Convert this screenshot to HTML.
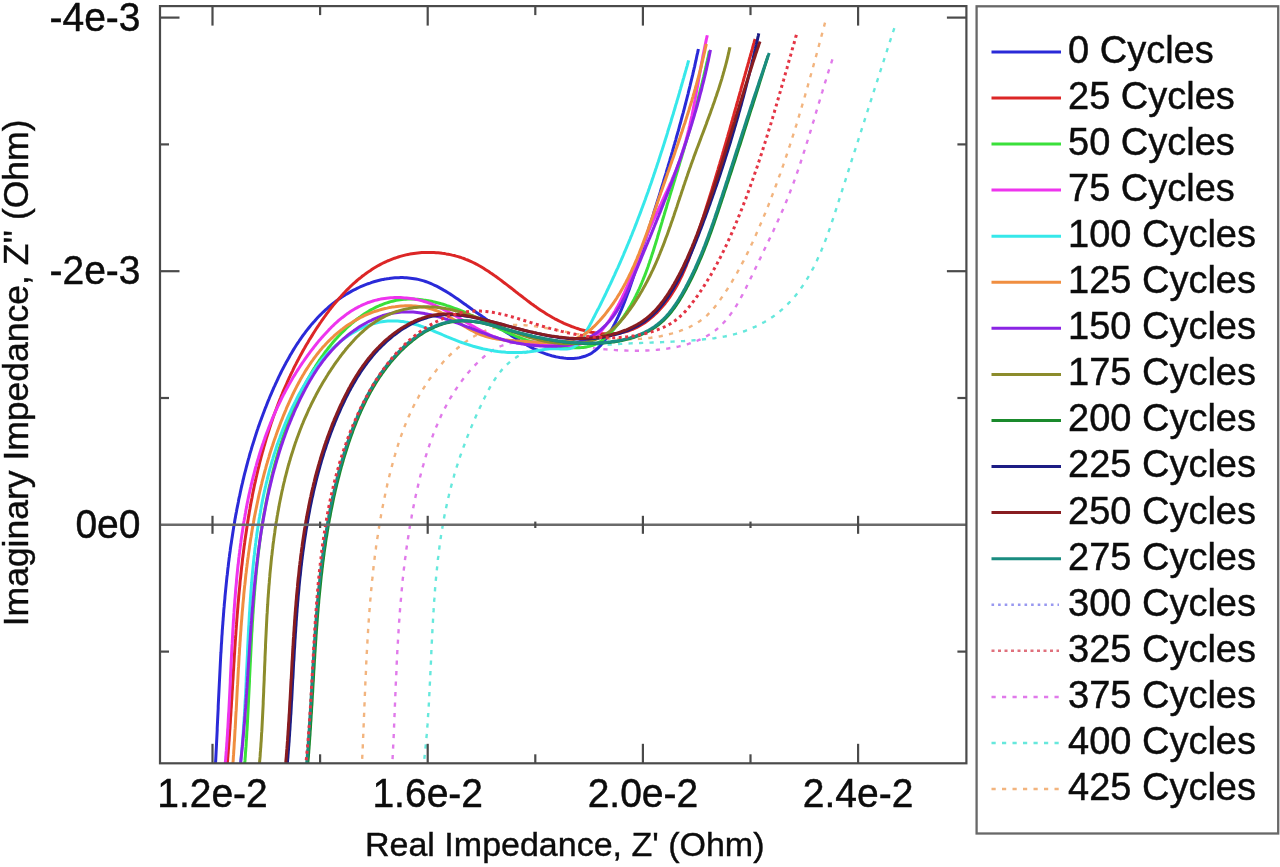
<!DOCTYPE html><html><head><meta charset="utf-8"><title>Nyquist plot</title><style>html,body{margin:0;padding:0;background:#fff;}svg{display:block;filter:blur(0.4px);}</style>
</head><body>
<svg width="1280" height="867" viewBox="0 0 1280 867">
<rect width="1280" height="867" fill="#fff"/>
<defs><clipPath id="pc"><rect x="160.0" y="6.1" width="806.4" height="757.2"/></clipPath></defs>
<g clip-path="url(#pc)" fill="none" stroke-linejoin="round" stroke-linecap="butt">
<path d="M361.0,779.9 L361.2,778.0 L361.3,776.0 L361.4,774.0 L361.5,772.0 L361.6,770.0 L361.7,768.1 L361.8,766.1 L361.9,764.1 L362.0,762.1 L362.1,760.1 L362.2,758.2 L362.3,756.2 L362.4,754.2 L362.5,752.2 L362.6,750.2 L362.7,748.2 L362.8,746.2 L362.8,744.2 L362.9,742.3 L363.0,740.3 L363.1,738.3 L363.2,736.3 L363.3,734.3 L363.4,732.3 L363.4,730.3 L363.5,728.3 L363.6,726.3 L363.7,724.3 L363.8,722.3 L363.9,720.3 L363.9,718.3 L364.0,716.3 L364.1,714.3 L364.2,712.3 L364.3,710.3 L364.3,708.3 L364.4,706.3 L364.5,704.3 L364.6,702.3 L364.7,700.3 L364.8,698.3 L364.8,696.3 L364.9,694.3 L365.0,692.3 L365.1,690.3 L365.2,688.3 L365.3,686.3 L365.3,684.3 L365.4,682.3 L365.5,680.3 L365.6,678.3 L365.7,676.3 L365.8,674.3 L365.9,672.3 L366.0,670.3 L366.1,668.3 L366.1,666.3 L366.2,664.3 L366.3,662.3 L366.4,660.3 L366.5,658.3 L366.6,656.3 L366.7,654.3 L366.8,652.3 L367.0,650.2 L367.1,648.2 L367.2,646.2 L367.3,644.2 L367.4,642.2 L367.5,640.2 L367.6,638.2 L367.7,636.2 L367.9,634.2 L368.0,632.2 L368.1,630.2 L368.2,628.2 L368.4,626.2 L368.5,624.2 L368.6,622.2 L368.8,620.2 L368.9,618.2 L369.1,616.2 L369.2,614.2 L369.4,612.2 L369.5,610.2 L369.7,608.2 L369.8,606.2 L370.0,604.2 L370.1,602.2 L370.3,600.2 L370.5,598.2 L370.6,596.2 L370.8,594.2 L371.0,592.2 L371.2,590.2 L371.4,588.2 L371.6,586.2 L371.8,584.2 L371.9,582.2 L372.1,580.2 L372.4,578.2 L372.6,576.2 L372.8,574.3 L373.0,572.3 L373.2,570.3 L373.4,568.3 L373.7,566.3 L373.9,564.3 L374.1,562.3 L374.4,560.3 L374.6,558.3 L374.8,556.4 L375.1,554.4 L375.4,552.4 L375.6,550.4 L375.9,548.4 L376.1,546.4 L376.4,544.5 L376.7,542.5 L377.0,540.5 L377.3,538.5 L377.6,536.6 L377.9,534.6 L378.2,532.6 L378.5,530.6 L378.8,528.7 L379.1,526.7 L379.4,524.7 L379.8,522.7 L380.1,520.8 L380.4,518.8 L380.8,516.8 L381.1,514.9 L381.5,512.9 L381.9,510.9 L382.2,509.0 L382.6,507.0 L383.0,505.1 L383.4,503.1 L383.8,501.1 L384.2,499.2 L384.6,497.2 L385.0,495.3 L385.4,493.3 L385.8,491.4 L386.2,489.4 L386.7,487.5 L387.1,485.5 L387.5,483.6 L388.0,481.6 L388.5,479.7 L388.9,477.8 L389.4,475.8 L389.9,473.9 L390.4,471.9 L390.9,470.0 L391.4,468.1 L391.9,466.1 L392.4,464.2 L392.9,462.3 L393.4,460.4 L394.0,458.4 L394.5,456.5 L395.1,454.6 L395.6,452.7 L396.2,450.8 L396.8,448.9 L397.4,447.0 L398.0,445.1 L398.6,443.2 L399.3,441.3 L399.9,439.4 L400.5,437.5 L401.2,435.6 L401.9,433.7 L402.6,431.9 L403.3,430.0 L404.0,428.1 L404.7,426.3 L405.4,424.4 L406.2,422.6 L406.9,420.8 L407.7,418.9 L408.5,417.1 L409.3,415.3 L410.1,413.5 L411.0,411.7 L411.8,409.9 L412.7,408.1 L413.5,406.3 L414.4,404.5 L415.3,402.7 L416.3,401.0 L417.2,399.2 L418.2,397.5 L419.1,395.7 L420.1,394.0 L421.2,392.3 L422.2,390.5 L423.2,388.8 L424.3,387.1 L425.4,385.4 L426.5,383.8 L427.6,382.1 L428.7,380.4 L429.9,378.8 L431.1,377.1 L432.3,375.5 L433.5,373.9 L434.7,372.3 L436.0,370.7 L437.2,369.1 L438.5,367.5 L439.9,365.9 L441.2,364.4 L442.6,362.8 L443.9,361.3 L445.3,359.8 L446.7,358.3 L448.2,356.9 L449.6,355.4 L451.1,354.0 L452.6,352.6 L454.1,351.2 L455.6,349.8 L457.1,348.5 L458.7,347.2 L460.3,345.9 L461.8,344.7 L463.5,343.5 L465.1,342.3 L466.7,341.1 L468.4,340.0 L470.0,338.9 L471.7,337.8 L473.4,336.8 L475.1,335.8 L476.8,334.9 L478.5,333.9 L480.3,333.1 L482.1,332.2 L483.8,331.4 L485.6,330.7 L487.4,330.0 L489.2,329.3 L491.0,328.7 L492.9,328.1 L494.7,327.6 L496.6,327.1 L498.5,326.7 L500.3,326.3 L502.2,326.0 L504.1,325.7 L506.0,325.4 L507.9,325.2 L509.9,325.1 L511.8,325.0 L513.7,324.9 L515.7,324.9 L517.7,324.9 L519.6,325.0 L521.6,325.0 L523.6,325.1 L525.6,325.3 L527.5,325.4 L529.5,325.6 L531.5,325.9 L533.5,326.1 L535.6,326.4 L537.6,326.7 L539.6,327.0 L541.6,327.3 L543.6,327.6 L545.6,328.0 L547.7,328.4 L549.7,328.7 L551.7,329.1 L553.7,329.5 L555.8,329.9 L557.8,330.3 L559.8,330.7 L561.8,331.1 L563.9,331.5 L565.9,331.9 L567.9,332.3 L569.9,332.7 L571.9,333.1 L574.0,333.5 L576.0,333.9 L578.0,334.2 L580.0,334.6 L582.0,334.9 L584.0,335.3 L586.0,335.6 L588.0,335.9 L589.9,336.2 L591.9,336.5 L593.9,336.8 L595.9,337.0 L597.9,337.3 L599.9,337.5 L601.9,337.8 L603.8,338.0 L605.8,338.2 L607.8,338.3 L609.7,338.5 L611.7,338.7 L613.7,338.8 L615.7,338.9 L617.6,339.0 L619.6,339.1 L621.5,339.2 L623.5,339.2 L625.5,339.2 L627.4,339.2 L629.4,339.2 L631.3,339.2 L633.3,339.2 L635.3,339.1 L637.2,339.0 L639.2,338.9 L641.1,338.8 L643.1,338.6 L645.0,338.4 L647.0,338.2 L648.9,338.0 L650.9,337.8 L652.8,337.5 L654.8,337.2 L656.7,336.9 L658.7,336.5 L660.6,336.2 L662.6,335.8 L664.5,335.4 L666.5,334.9 L668.5,334.4 L670.4,333.9 L672.3,333.4 L674.3,332.8 L676.2,332.2 L678.1,331.6 L680.1,330.9 L681.9,330.2 L683.8,329.5 L685.7,328.8 L687.5,328.0 L689.4,327.1 L691.1,326.2 L692.9,325.3 L694.7,324.4 L696.4,323.4 L698.0,322.3 L699.7,321.2 L701.3,320.1 L702.9,318.9 L704.4,317.7 L705.9,316.4 L707.3,315.1 L708.7,313.7 L710.1,312.3 L711.4,310.9 L712.7,309.4 L714.0,307.9 L715.2,306.4 L716.5,304.9 L717.7,303.3 L718.8,301.7 L720.0,300.1 L721.1,298.4 L722.3,296.8 L723.4,295.1 L724.5,293.5 L725.6,291.8 L726.7,290.1 L727.8,288.5 L728.8,286.8 L729.9,285.1 L730.9,283.4 L732.0,281.7 L733.0,279.9 L734.0,278.2 L735.0,276.5 L736.0,274.7 L737.0,273.0 L738.0,271.2 L738.9,269.5 L739.9,267.7 L740.9,265.9 L741.8,264.1 L742.7,262.4 L743.7,260.6 L744.6,258.8 L745.5,257.0 L746.4,255.2 L747.3,253.4 L748.2,251.6 L749.0,249.8 L749.9,247.9 L750.8,246.1 L751.6,244.3 L752.5,242.5 L753.3,240.6 L754.2,238.8 L755.0,237.0 L755.8,235.1 L756.6,233.3 L757.4,231.4 L758.2,229.6 L759.0,227.8 L759.8,225.9 L760.6,224.1 L761.4,222.2 L762.2,220.4 L763.0,218.5 L763.7,216.7 L764.5,214.8 L765.3,213.0 L766.0,211.1 L766.8,209.2 L767.5,207.4 L768.3,205.5 L769.0,203.7 L769.7,201.8 L770.4,200.0 L771.2,198.1 L771.9,196.2 L772.6,194.4 L773.3,192.5 L774.0,190.6 L774.7,188.8 L775.4,186.9 L776.1,185.0 L776.8,183.2 L777.5,181.3 L778.2,179.4 L778.8,177.6 L779.5,175.7 L780.2,173.8 L780.8,171.9 L781.5,170.1 L782.2,168.2 L782.8,166.3 L783.5,164.4 L784.1,162.6 L784.7,160.7 L785.4,158.8 L786.0,156.9 L786.7,155.0 L787.3,153.1 L787.9,151.3 L788.5,149.4 L789.1,147.5 L789.8,145.6 L790.4,143.7 L791.0,141.8 L791.6,139.9 L792.2,138.0 L792.8,136.1 L793.4,134.3 L794.0,132.4 L794.6,130.5 L795.2,128.6 L795.8,126.7 L796.4,124.8 L796.9,122.9 L797.5,121.0 L798.1,119.1 L798.7,117.2 L799.2,115.3 L799.8,113.4 L800.4,111.4 L800.9,109.5 L801.5,107.6 L802.1,105.7 L802.6,103.8 L803.2,101.9 L803.8,100.0 L804.3,98.1 L804.9,96.2 L805.4,94.2 L806.0,92.3 L806.5,90.4 L807.1,88.5 L807.6,86.6 L808.1,84.7 L808.7,82.7 L809.2,80.8 L809.8,78.9 L810.3,77.0 L810.8,75.0 L811.4,73.1 L811.9,71.2 L812.4,69.3 L813.0,67.3 L813.5,65.4 L814.0,63.5 L814.6,61.5 L815.1,59.6 L815.6,57.7 L816.2,55.7 L816.7,53.8 L817.2,51.9 L817.7,49.9 L818.3,48.0 L818.8,46.0 L819.3,44.1 L819.8,42.2 L820.3,40.2 L820.9,38.3 L821.4,36.3 L821.9,34.4 L822.4,32.4 L823.0,30.5 L823.5,28.5 L824.0,26.6 L824.5,24.6 L825.0,22.7 L825.6,20.7" stroke="#f2b47e" stroke-width="2.4" stroke-dasharray="4.2 6.3"/>
<path d="M421.7,779.8 L422.0,777.9 L422.2,775.9 L422.5,774.0 L422.8,772.1 L423.0,770.1 L423.3,768.2 L423.5,766.2 L423.7,764.3 L424.0,762.3 L424.2,760.4 L424.4,758.4 L424.6,756.5 L424.8,754.5 L425.0,752.6 L425.2,750.6 L425.4,748.6 L425.6,746.7 L425.8,744.7 L426.0,742.7 L426.2,740.8 L426.4,738.8 L426.5,736.8 L426.7,734.9 L426.8,732.9 L427.0,730.9 L427.2,728.9 L427.3,726.9 L427.5,724.9 L427.6,723.0 L427.7,721.0 L427.9,719.0 L428.0,717.0 L428.1,715.0 L428.3,713.0 L428.4,711.0 L428.5,709.0 L428.6,707.0 L428.8,705.0 L428.9,703.0 L429.0,701.0 L429.1,699.0 L429.2,697.0 L429.3,695.0 L429.4,693.0 L429.5,691.0 L429.6,689.0 L429.7,687.0 L429.8,685.0 L429.9,683.0 L430.0,681.0 L430.1,679.0 L430.2,677.0 L430.3,674.9 L430.4,672.9 L430.5,670.9 L430.6,668.9 L430.7,666.9 L430.8,664.9 L430.9,662.9 L431.0,660.9 L431.1,658.8 L431.2,656.8 L431.3,654.8 L431.3,652.8 L431.4,650.8 L431.5,648.8 L431.6,646.7 L431.7,644.7 L431.8,642.7 L431.9,640.7 L432.0,638.7 L432.1,636.7 L432.2,634.6 L432.3,632.6 L432.4,630.6 L432.5,628.6 L432.6,626.6 L432.7,624.6 L432.9,622.5 L433.0,620.5 L433.1,618.5 L433.2,616.5 L433.3,614.5 L433.4,612.5 L433.6,610.4 L433.7,608.4 L433.8,606.4 L434.0,604.4 L434.1,602.4 L434.2,600.4 L434.4,598.4 L434.5,596.4 L434.7,594.4 L434.8,592.4 L435.0,590.3 L435.1,588.3 L435.3,586.3 L435.5,584.3 L435.6,582.3 L435.8,580.3 L436.0,578.3 L436.2,576.3 L436.4,574.3 L436.6,572.3 L436.8,570.3 L437.0,568.3 L437.2,566.3 L437.4,564.4 L437.6,562.4 L437.8,560.4 L438.0,558.4 L438.3,556.4 L438.5,554.4 L438.8,552.4 L439.0,550.4 L439.3,548.5 L439.5,546.5 L439.8,544.5 L440.1,542.5 L440.3,540.6 L440.6,538.6 L440.9,536.6 L441.2,534.6 L441.5,532.7 L441.8,530.7 L442.2,528.8 L442.5,526.8 L442.8,524.8 L443.2,522.9 L443.5,520.9 L443.9,519.0 L444.2,517.0 L444.6,515.1 L445.0,513.1 L445.4,511.2 L445.8,509.2 L446.2,507.3 L446.6,505.4 L447.0,503.4 L447.4,501.5 L447.9,499.6 L448.3,497.6 L448.8,495.7 L449.2,493.8 L449.7,491.9 L450.2,490.0 L450.7,488.1 L451.2,486.1 L451.7,484.2 L452.2,482.3 L452.7,480.4 L453.2,478.5 L453.8,476.6 L454.3,474.7 L454.9,472.8 L455.5,470.9 L456.0,469.1 L456.6,467.2 L457.2,465.3 L457.8,463.4 L458.4,461.5 L459.1,459.6 L459.7,457.8 L460.3,455.9 L461.0,454.0 L461.6,452.2 L462.3,450.3 L463.0,448.4 L463.7,446.5 L464.4,444.7 L465.1,442.8 L465.8,441.0 L466.5,439.1 L467.2,437.2 L467.9,435.4 L468.7,433.5 L469.4,431.7 L470.2,429.8 L471.0,427.9 L471.7,426.1 L472.5,424.2 L473.3,422.4 L474.1,420.5 L474.9,418.7 L475.7,416.8 L476.5,415.0 L477.4,413.1 L478.2,411.3 L479.1,409.4 L479.9,407.6 L480.8,405.7 L481.6,403.9 L482.5,402.0 L483.4,400.1 L484.3,398.3 L485.2,396.5 L486.1,394.6 L487.0,392.8 L488.0,391.0 L489.0,389.2 L489.9,387.4 L490.9,385.7 L492.0,383.9 L493.0,382.2 L494.1,380.5 L495.2,378.8 L496.3,377.2 L497.4,375.5 L498.6,373.9 L499.8,372.4 L501.0,370.9 L502.3,369.4 L503.6,367.9 L504.9,366.5 L506.3,365.2 L507.7,363.8 L509.1,362.6 L510.6,361.3 L512.1,360.2 L513.6,359.0 L515.2,358.0 L516.8,356.9 L518.4,356.0 L520.1,355.0 L521.8,354.2 L523.5,353.4 L525.3,352.6 L527.1,352.0 L528.9,351.4 L530.7,350.8 L532.6,350.3 L534.5,349.9 L536.4,349.5 L538.4,349.2 L540.3,348.9 L542.3,348.7 L544.3,348.5 L546.3,348.4 L548.4,348.2 L550.4,348.1 L552.5,348.1 L554.5,348.0 L556.6,347.9 L558.6,347.9 L560.7,347.9 L562.8,347.8 L564.8,347.8 L566.9,347.7 L568.9,347.7 L571.0,347.6 L573.0,347.5 L575.0,347.4 L577.0,347.3 L579.0,347.1 L581.0,347.0 L583.0,346.8 L585.0,346.6 L587.0,346.5 L589.0,346.3 L591.0,346.1 L593.0,345.9 L594.9,345.8 L596.9,345.6 L598.9,345.4 L600.9,345.2 L602.9,345.1 L604.8,344.9 L606.8,344.8 L608.8,344.6 L610.8,344.5 L612.8,344.4 L614.7,344.3 L616.7,344.1 L618.7,344.0 L620.7,343.9 L622.7,343.8 L624.7,343.7 L626.7,343.6 L628.7,343.5 L630.6,343.4 L632.6,343.3 L634.6,343.3 L636.6,343.2 L638.6,343.1 L640.6,343.0 L642.6,342.9 L644.6,342.8 L646.6,342.8 L648.6,342.7 L650.6,342.6 L652.6,342.5 L654.6,342.5 L656.6,342.4 L658.5,342.3 L660.5,342.2 L662.5,342.1 L664.5,342.0 L666.5,341.9 L668.5,341.8 L670.5,341.7 L672.5,341.6 L674.5,341.5 L676.5,341.4 L678.5,341.3 L680.5,341.2 L682.4,341.1 L684.4,341.0 L686.4,340.8 L688.4,340.7 L690.4,340.5 L692.4,340.4 L694.4,340.2 L696.4,340.1 L698.3,339.9 L700.3,339.7 L702.3,339.5 L704.3,339.3 L706.3,339.1 L708.2,338.9 L710.2,338.7 L712.2,338.4 L714.2,338.2 L716.1,337.9 L718.1,337.6 L720.1,337.3 L722.0,336.9 L724.0,336.6 L726.0,336.2 L727.9,335.8 L729.9,335.4 L731.8,334.9 L733.8,334.4 L735.7,333.9 L737.7,333.3 L739.6,332.8 L741.6,332.1 L743.5,331.5 L745.4,330.8 L747.3,330.1 L749.2,329.3 L751.1,328.6 L753.0,327.7 L754.9,326.9 L756.8,326.0 L758.6,325.1 L760.4,324.2 L762.2,323.2 L764.0,322.3 L765.8,321.2 L767.5,320.2 L769.2,319.1 L770.9,318.0 L772.5,316.9 L774.2,315.8 L775.8,314.6 L777.3,313.4 L778.9,312.2 L780.4,310.9 L781.9,309.6 L783.3,308.4 L784.8,307.0 L786.2,305.7 L787.6,304.3 L788.9,302.9 L790.3,301.5 L791.6,300.1 L792.8,298.7 L794.1,297.2 L795.4,295.7 L796.6,294.2 L797.8,292.7 L798.9,291.1 L800.1,289.6 L801.2,288.0 L802.3,286.4 L803.4,284.8 L804.5,283.1 L805.6,281.5 L806.6,279.8 L807.6,278.2 L808.6,276.5 L809.6,274.8 L810.6,273.0 L811.5,271.3 L812.4,269.6 L813.4,267.8 L814.3,266.0 L815.1,264.2 L816.0,262.5 L816.9,260.6 L817.7,258.8 L818.5,257.0 L819.4,255.2 L820.2,253.3 L821.0,251.5 L821.7,249.6 L822.5,247.7 L823.3,245.9 L824.0,244.0 L824.8,242.1 L825.5,240.2 L826.2,238.3 L826.9,236.4 L827.6,234.5 L828.3,232.5 L829.0,230.6 L829.7,228.7 L830.3,226.8 L831.0,224.8 L831.7,222.9 L832.3,220.9 L833.0,219.0 L833.6,217.1 L834.2,215.1 L834.9,213.2 L835.5,211.2 L836.1,209.3 L836.8,207.3 L837.4,205.4 L838.0,203.5 L838.6,201.5 L839.2,199.6 L839.8,197.6 L840.5,195.7 L841.1,193.8 L841.7,191.9 L842.3,189.9 L842.9,188.0 L843.5,186.1 L844.1,184.2 L844.8,182.3 L845.4,180.4 L846.0,178.4 L846.6,176.5 L847.2,174.6 L847.8,172.7 L848.4,170.8 L849.0,168.9 L849.6,167.0 L850.2,165.1 L850.8,163.2 L851.4,161.3 L852.0,159.4 L852.6,157.6 L853.2,155.7 L853.8,153.8 L854.4,151.9 L855.1,150.0 L855.7,148.1 L856.3,146.2 L856.9,144.3 L857.5,142.5 L858.1,140.6 L858.7,138.7 L859.3,136.8 L859.9,134.9 L860.5,133.1 L861.1,131.2 L861.7,129.3 L862.3,127.4 L862.9,125.5 L863.5,123.7 L864.1,121.8 L864.7,119.9 L865.3,118.0 L865.9,116.2 L866.5,114.3 L867.1,112.4 L867.7,110.5 L868.3,108.7 L868.9,106.8 L869.5,104.9 L870.1,103.0 L870.7,101.1 L871.3,99.3 L871.9,97.4 L872.5,95.5 L873.1,93.6 L873.7,91.7 L874.3,89.9 L874.9,88.0 L875.5,86.1 L876.2,84.2 L876.8,82.3 L877.4,80.4 L878.0,78.5 L878.6,76.7 L879.2,74.8 L879.8,72.9 L880.4,71.0 L881.0,69.1 L881.7,67.2 L882.3,65.3 L882.9,63.4 L883.5,61.5 L884.1,59.6 L884.7,57.7 L885.3,55.8 L886.0,53.8 L886.6,51.9 L887.2,50.0 L887.8,48.1 L888.4,46.2 L889.1,44.3 L889.7,42.3 L890.3,40.4 L890.9,38.5 L891.6,36.6 L892.2,34.6 L892.8,32.7 L893.5,30.7 L894.1,28.8 L894.7,26.9 L895.4,24.9 L896.0,23.0" stroke="#66e8dc" stroke-width="2.4" stroke-dasharray="4.2 6.3"/>
<path d="M391.4,780.1 L391.5,778.1 L391.7,776.1 L391.8,774.0 L391.9,772.0 L392.0,770.0 L392.1,768.0 L392.2,766.0 L392.3,764.0 L392.4,762.0 L392.5,759.9 L392.6,757.9 L392.7,755.9 L392.8,753.9 L392.9,751.9 L393.0,749.9 L393.1,747.9 L393.2,745.9 L393.3,743.9 L393.4,741.9 L393.5,739.8 L393.6,737.8 L393.7,735.8 L393.8,733.8 L393.8,731.8 L393.9,729.8 L394.0,727.8 L394.1,725.8 L394.2,723.8 L394.3,721.8 L394.3,719.8 L394.4,717.8 L394.5,715.8 L394.6,713.8 L394.7,711.8 L394.8,709.8 L394.8,707.8 L394.9,705.8 L395.0,703.8 L395.1,701.8 L395.2,699.8 L395.2,697.8 L395.3,695.8 L395.4,693.8 L395.5,691.8 L395.6,689.8 L395.7,687.8 L395.7,685.8 L395.8,683.8 L395.9,681.8 L396.0,679.8 L396.1,677.8 L396.2,675.8 L396.3,673.9 L396.4,671.9 L396.4,669.9 L396.5,667.9 L396.6,665.9 L396.7,663.9 L396.8,661.9 L396.9,659.9 L397.0,657.9 L397.1,655.9 L397.2,653.9 L397.3,652.0 L397.4,650.0 L397.5,648.0 L397.6,646.0 L397.8,644.0 L397.9,642.0 L398.0,640.0 L398.1,638.0 L398.2,636.1 L398.3,634.1 L398.5,632.1 L398.6,630.1 L398.7,628.1 L398.8,626.1 L399.0,624.1 L399.1,622.2 L399.3,620.2 L399.4,618.2 L399.5,616.2 L399.7,614.2 L399.8,612.2 L400.0,610.3 L400.1,608.3 L400.3,606.3 L400.5,604.3 L400.6,602.3 L400.8,600.4 L401.0,598.4 L401.1,596.4 L401.3,594.4 L401.5,592.4 L401.7,590.5 L401.9,588.5 L402.0,586.5 L402.2,584.5 L402.4,582.6 L402.6,580.6 L402.8,578.6 L403.1,576.6 L403.3,574.6 L403.5,572.7 L403.7,570.7 L403.9,568.7 L404.2,566.7 L404.4,564.8 L404.6,562.8 L404.9,560.8 L405.1,558.8 L405.4,556.9 L405.6,554.9 L405.9,552.9 L406.2,550.9 L406.4,549.0 L406.7,547.0 L407.0,545.0 L407.3,543.1 L407.6,541.1 L407.9,539.1 L408.2,537.1 L408.5,535.2 L408.8,533.2 L409.1,531.2 L409.4,529.3 L409.7,527.3 L410.1,525.3 L410.4,523.3 L410.8,521.4 L411.1,519.4 L411.5,517.4 L411.8,515.5 L412.2,513.5 L412.6,511.5 L412.9,509.6 L413.3,507.6 L413.7,505.6 L414.1,503.7 L414.5,501.7 L414.9,499.7 L415.3,497.7 L415.7,495.8 L416.2,493.8 L416.6,491.8 L417.1,489.9 L417.5,487.9 L418.0,485.9 L418.4,484.0 L418.9,482.0 L419.4,480.0 L419.8,478.1 L420.3,476.1 L420.8,474.2 L421.3,472.2 L421.9,470.2 L422.4,468.3 L422.9,466.3 L423.5,464.4 L424.0,462.4 L424.6,460.5 L425.1,458.6 L425.7,456.6 L426.3,454.7 L426.9,452.7 L427.5,450.8 L428.1,448.9 L428.8,447.0 L429.4,445.1 L430.1,443.2 L430.7,441.3 L431.4,439.4 L432.1,437.5 L432.8,435.6 L433.5,433.7 L434.2,431.8 L435.0,430.0 L435.7,428.1 L436.5,426.2 L437.3,424.4 L438.0,422.6 L438.9,420.7 L439.7,418.9 L440.5,417.1 L441.3,415.3 L442.2,413.5 L443.1,411.7 L444.0,409.9 L444.9,408.1 L445.8,406.4 L446.7,404.6 L447.7,402.9 L448.7,401.1 L449.6,399.4 L450.6,397.7 L451.7,396.0 L452.7,394.3 L453.7,392.6 L454.8,390.9 L455.9,389.3 L457.0,387.6 L458.1,386.0 L459.3,384.4 L460.4,382.7 L461.6,381.1 L462.8,379.5 L464.0,378.0 L465.2,376.4 L466.5,374.9 L467.7,373.3 L469.0,371.8 L470.3,370.3 L471.7,368.8 L473.0,367.3 L474.4,365.9 L475.8,364.4 L477.2,363.0 L478.6,361.6 L480.1,360.2 L481.6,358.8 L483.1,357.5 L484.6,356.2 L486.1,354.9 L487.7,353.7 L489.3,352.5 L490.9,351.4 L492.5,350.3 L494.2,349.3 L495.9,348.4 L497.6,347.5 L499.4,346.7 L501.1,346.0 L502.9,345.3 L504.7,344.7 L506.5,344.1 L508.4,343.6 L510.3,343.2 L512.1,342.8 L514.0,342.4 L516.0,342.1 L517.9,341.9 L519.8,341.7 L521.8,341.6 L523.7,341.5 L525.7,341.4 L527.7,341.4 L529.7,341.4 L531.7,341.4 L533.7,341.5 L535.7,341.6 L537.7,341.8 L539.7,341.9 L541.7,342.1 L543.7,342.3 L545.7,342.5 L547.8,342.8 L549.8,343.0 L551.8,343.3 L553.8,343.6 L555.9,343.9 L557.9,344.1 L559.9,344.4 L561.9,344.7 L564.0,345.0 L566.0,345.3 L568.0,345.5 L570.0,345.8 L572.0,346.1 L574.0,346.3 L576.0,346.5 L578.0,346.8 L580.0,347.0 L582.0,347.2 L584.0,347.4 L586.0,347.6 L588.0,347.8 L589.9,348.0 L591.9,348.1 L593.9,348.3 L595.9,348.5 L597.9,348.7 L599.8,348.9 L601.8,349.0 L603.8,349.2 L605.8,349.4 L607.7,349.5 L609.7,349.7 L611.7,349.8 L613.6,349.9 L615.6,350.1 L617.6,350.2 L619.6,350.3 L621.5,350.4 L623.5,350.5 L625.5,350.5 L627.4,350.6 L629.4,350.6 L631.4,350.7 L633.4,350.7 L635.3,350.7 L637.3,350.7 L639.3,350.7 L641.3,350.7 L643.3,350.6 L645.3,350.5 L647.2,350.5 L649.2,350.4 L651.2,350.2 L653.2,350.1 L655.2,349.9 L657.2,349.8 L659.2,349.6 L661.2,349.3 L663.2,349.1 L665.2,348.8 L667.3,348.6 L669.3,348.2 L671.3,347.9 L673.3,347.6 L675.3,347.2 L677.3,346.8 L679.3,346.3 L681.3,345.8 L683.3,345.3 L685.2,344.8 L687.2,344.3 L689.1,343.7 L691.0,343.0 L692.9,342.4 L694.8,341.7 L696.7,341.0 L698.5,340.2 L700.3,339.4 L702.1,338.5 L703.9,337.7 L705.6,336.8 L707.3,335.8 L709.0,334.8 L710.6,333.8 L712.2,332.7 L713.8,331.5 L715.3,330.4 L716.8,329.2 L718.3,327.9 L719.7,326.6 L721.1,325.3 L722.5,323.9 L723.8,322.5 L725.1,321.1 L726.4,319.6 L727.6,318.1 L728.8,316.5 L730.0,315.0 L731.2,313.4 L732.3,311.8 L733.4,310.1 L734.5,308.5 L735.6,306.8 L736.7,305.1 L737.7,303.3 L738.7,301.6 L739.7,299.8 L740.7,298.0 L741.7,296.2 L742.7,294.4 L743.6,292.6 L744.5,290.8 L745.5,289.0 L746.4,287.1 L747.3,285.3 L748.2,283.4 L749.1,281.5 L750.0,279.7 L750.9,277.8 L751.8,276.0 L752.6,274.1 L753.5,272.3 L754.4,270.4 L755.3,268.6 L756.2,266.7 L757.0,264.9 L757.9,263.1 L758.8,261.2 L759.7,259.4 L760.6,257.6 L761.4,255.8 L762.3,254.0 L763.2,252.1 L764.0,250.3 L764.9,248.5 L765.8,246.7 L766.6,244.9 L767.5,243.1 L768.4,241.3 L769.2,239.5 L770.1,237.7 L770.9,235.9 L771.8,234.1 L772.6,232.4 L773.5,230.6 L774.3,228.8 L775.1,227.0 L776.0,225.2 L776.8,223.4 L777.6,221.6 L778.4,219.8 L779.2,218.0 L780.0,216.2 L780.8,214.4 L781.6,212.6 L782.4,210.8 L783.2,208.9 L783.9,207.1 L784.7,205.3 L785.5,203.5 L786.2,201.7 L787.0,199.8 L787.7,198.0 L788.4,196.2 L789.2,194.3 L789.9,192.5 L790.6,190.6 L791.3,188.8 L792.0,186.9 L792.7,185.0 L793.4,183.2 L794.1,181.3 L794.8,179.4 L795.4,177.6 L796.1,175.7 L796.8,173.8 L797.4,171.9 L798.1,170.0 L798.7,168.1 L799.3,166.2 L800.0,164.3 L800.6,162.5 L801.2,160.6 L801.9,158.7 L802.5,156.7 L803.1,154.8 L803.7,152.9 L804.3,151.0 L804.9,149.1 L805.5,147.2 L806.1,145.3 L806.7,143.4 L807.3,141.5 L807.9,139.5 L808.5,137.6 L809.1,135.7 L809.7,133.8 L810.3,131.9 L810.9,129.9 L811.4,128.0 L812.0,126.1 L812.6,124.2 L813.2,122.2 L813.8,120.3 L814.3,118.4 L814.9,116.5 L815.5,114.5 L816.0,112.6 L816.6,110.7 L817.2,108.8 L817.8,106.8 L818.3,104.9 L818.9,103.0 L819.5,101.1 L820.1,99.1 L820.6,97.2 L821.2,95.3 L821.8,93.4 L822.4,91.5 L822.9,89.6 L823.5,87.6 L824.1,85.7 L824.7,83.8 L825.3,81.9 L825.9,80.0 L826.4,78.1 L827.0,76.2 L827.6,74.3 L828.2,72.4 L828.8,70.5 L829.4,68.6 L830.0,66.7 L830.6,64.8 L831.3,62.9 L831.9,61.0 L832.5,59.1 L833.1,57.3 L833.7,55.4" stroke="#e07aea" stroke-width="2.4" stroke-dasharray="4.2 6.3"/>
<path d="M305.2,779.9 L305.4,777.9 L305.6,776.0 L305.7,774.0 L305.9,772.0 L306.1,770.1 L306.3,768.1 L306.4,766.1 L306.6,764.2 L306.8,762.2 L306.9,760.2 L307.1,758.3 L307.3,756.3 L307.4,754.3 L307.6,752.4 L307.7,750.4 L307.9,748.4 L308.0,746.4 L308.2,744.4 L308.3,742.5 L308.4,740.5 L308.6,738.5 L308.7,736.5 L308.9,734.5 L309.0,732.6 L309.1,730.6 L309.3,728.6 L309.4,726.6 L309.5,724.6 L309.6,722.6 L309.8,720.6 L309.9,718.6 L310.0,716.6 L310.1,714.7 L310.3,712.7 L310.4,710.7 L310.5,708.7 L310.6,706.7 L310.7,704.7 L310.9,702.7 L311.0,700.7 L311.1,698.7 L311.2,696.7 L311.3,694.7 L311.5,692.7 L311.6,690.7 L311.7,688.7 L311.8,686.7 L311.9,684.7 L312.0,682.7 L312.2,680.7 L312.3,678.7 L312.4,676.7 L312.5,674.7 L312.6,672.7 L312.7,670.7 L312.9,668.7 L313.0,666.7 L313.1,664.7 L313.2,662.7 L313.3,660.7 L313.5,658.7 L313.6,656.6 L313.7,654.6 L313.8,652.6 L314.0,650.6 L314.1,648.6 L314.2,646.6 L314.4,644.6 L314.5,642.6 L314.6,640.6 L314.8,638.6 L314.9,636.6 L315.0,634.6 L315.2,632.6 L315.3,630.6 L315.5,628.6 L315.6,626.6 L315.8,624.6 L315.9,622.6 L316.1,620.6 L316.2,618.6 L316.4,616.6 L316.5,614.6 L316.7,612.6 L316.9,610.5 L317.0,608.5 L317.2,606.5 L317.4,604.5 L317.5,602.5 L317.7,600.5 L317.9,598.5 L318.1,596.5 L318.3,594.5 L318.5,592.6 L318.7,590.6 L318.8,588.6 L319.0,586.6 L319.3,584.6 L319.5,582.6 L319.7,580.6 L319.9,578.6 L320.1,576.6 L320.3,574.6 L320.5,572.6 L320.8,570.6 L321.0,568.6 L321.2,566.6 L321.5,564.7 L321.7,562.7 L322.0,560.7 L322.2,558.7 L322.5,556.7 L322.8,554.7 L323.0,552.7 L323.3,550.8 L323.6,548.8 L323.8,546.8 L324.1,544.8 L324.4,542.8 L324.7,540.9 L325.0,538.9 L325.3,536.9 L325.6,535.0 L325.9,533.0 L326.3,531.0 L326.6,529.0 L326.9,527.1 L327.3,525.1 L327.6,523.1 L327.9,521.2 L328.3,519.2 L328.7,517.3 L329.0,515.3 L329.4,513.3 L329.8,511.4 L330.1,509.4 L330.5,507.5 L330.9,505.5 L331.3,503.6 L331.7,501.6 L332.1,499.7 L332.6,497.7 L333.0,495.8 L333.4,493.8 L333.9,491.9 L334.3,490.0 L334.8,488.0 L335.2,486.1 L335.7,484.1 L336.1,482.2 L336.6,480.3 L337.1,478.4 L337.6,476.4 L338.1,474.5 L338.6,472.6 L339.1,470.7 L339.7,468.7 L340.2,466.8 L340.7,464.9 L341.3,463.0 L341.8,461.1 L342.4,459.2 L342.9,457.3 L343.5,455.4 L344.1,453.4 L344.7,451.5 L345.3,449.6 L345.9,447.7 L346.5,445.9 L347.1,444.0 L347.8,442.1 L348.4,440.2 L349.1,438.3 L349.7,436.4 L350.4,434.5 L351.1,432.7 L351.8,430.8 L352.5,428.9 L353.2,427.0 L353.9,425.2 L354.6,423.3 L355.3,421.5 L356.1,419.6 L356.9,417.8 L357.6,415.9 L358.4,414.1 L359.2,412.3 L360.0,410.5 L360.9,408.6 L361.7,406.8 L362.6,405.0 L363.4,403.2 L364.3,401.4 L365.2,399.6 L366.1,397.9 L367.0,396.1 L368.0,394.3 L368.9,392.6 L369.9,390.8 L370.9,389.1 L371.9,387.4 L372.9,385.6 L373.9,383.9 L375.0,382.2 L376.1,380.5 L377.2,378.9 L378.3,377.2 L379.4,375.5 L380.5,373.9 L381.7,372.2 L382.9,370.6 L384.1,369.0 L385.3,367.4 L386.5,365.7 L387.8,364.2 L389.1,362.6 L390.4,361.0 L391.7,359.5 L393.0,357.9 L394.4,356.4 L395.8,354.9 L397.2,353.4 L398.6,351.9 L400.1,350.5 L401.5,349.0 L403.0,347.6 L404.5,346.2 L406.0,344.8 L407.5,343.5 L409.1,342.2 L410.7,340.9 L412.3,339.6 L413.9,338.4 L415.5,337.2 L417.1,336.0 L418.8,334.9 L420.4,333.8 L422.1,332.7 L423.8,331.7 L425.5,330.7 L427.3,329.7 L429.0,328.8 L430.8,328.0 L432.5,327.1 L434.3,326.4 L436.1,325.6 L437.9,324.9 L439.7,324.3 L441.6,323.7 L443.4,323.2 L445.3,322.7 L447.2,322.2 L449.1,321.8 L450.9,321.5 L452.9,321.2 L454.8,321.0 L456.7,320.9 L458.6,320.7 L460.6,320.7 L462.5,320.6 L464.4,320.7 L466.4,320.8 L468.4,320.9 L470.3,321.0 L472.3,321.3 L474.2,321.5 L476.2,321.8 L478.1,322.1 L480.1,322.5 L482.1,322.9 L484.0,323.3 L486.0,323.8 L487.9,324.3 L489.9,324.8 L491.8,325.3 L493.8,325.8 L495.8,326.3 L497.7,326.9 L499.7,327.5 L501.6,328.0 L503.6,328.6 L505.5,329.1 L507.5,329.7 L509.4,330.3 L511.4,330.8 L513.3,331.3 L515.3,331.9 L517.2,332.4 L519.1,332.9 L521.1,333.4 L523.0,333.9 L525.0,334.4 L526.9,334.9 L528.8,335.3 L530.8,335.8 L532.7,336.3 L534.7,336.7 L536.6,337.1 L538.6,337.5 L540.5,337.9 L542.5,338.3 L544.4,338.7 L546.4,339.1 L548.3,339.4 L550.3,339.8 L552.2,340.1 L554.2,340.4 L556.1,340.7 L558.1,341.0 L560.1,341.2 L562.0,341.5 L564.0,341.7 L566.0,342.0 L568.0,342.2 L569.9,342.3 L571.9,342.5 L573.9,342.7 L575.9,342.8 L577.9,342.9 L579.9,343.0 L581.9,343.1 L583.9,343.1 L585.9,343.2 L587.9,343.2 L590.0,343.2 L592.0,343.2 L594.0,343.1 L596.1,343.0 L598.1,343.0 L600.1,342.8 L602.2,342.7 L604.2,342.5 L606.2,342.4 L608.3,342.1 L610.3,341.9 L612.3,341.6 L614.3,341.3 L616.3,341.0 L618.3,340.7 L620.3,340.3 L622.3,339.9 L624.2,339.4 L626.2,338.9 L628.1,338.4 L630.0,337.9 L631.9,337.3 L633.8,336.7 L635.7,336.1 L637.5,335.4 L639.4,334.7 L641.2,333.9 L642.9,333.1 L644.7,332.3 L646.4,331.4 L648.1,330.5 L649.8,329.5 L651.4,328.6 L653.1,327.5 L654.7,326.4 L656.2,325.3 L657.7,324.2 L659.2,322.9 L660.7,321.7 L662.1,320.4 L663.5,319.1 L664.8,317.7 L666.2,316.3 L667.5,314.8 L668.7,313.4 L670.0,311.8 L671.2,310.3 L672.4,308.7 L673.5,307.1 L674.7,305.5 L675.8,303.9 L676.9,302.2 L678.0,300.5 L679.1,298.8 L680.1,297.1 L681.1,295.4 L682.1,293.7 L683.1,291.9 L684.1,290.1 L685.1,288.4 L686.0,286.6 L687.0,284.8 L687.9,283.0 L688.8,281.3 L689.7,279.5 L690.6,277.7 L691.5,275.9 L692.4,274.0 L693.3,272.2 L694.1,270.4 L695.0,268.6 L695.8,266.7 L696.6,264.9 L697.4,263.1 L698.2,261.2 L699.0,259.4 L699.8,257.5 L700.6,255.7 L701.4,253.8 L702.1,251.9 L702.9,250.1 L703.6,248.2 L704.4,246.3 L705.1,244.5 L705.8,242.6 L706.5,240.7 L707.2,238.8 L707.9,236.9 L708.6,235.0 L709.3,233.1 L710.0,231.2 L710.7,229.3 L711.4,227.5 L712.0,225.6 L712.7,223.7 L713.4,221.8 L714.0,219.9 L714.7,217.9 L715.3,216.0 L716.0,214.1 L716.6,212.2 L717.3,210.3 L717.9,208.4 L718.5,206.5 L719.2,204.6 L719.8,202.7 L720.4,200.8 L721.0,198.9 L721.7,197.0 L722.3,195.1 L722.9,193.2 L723.5,191.3 L724.2,189.4 L724.8,187.5 L725.4,185.6 L726.0,183.7 L726.6,181.8 L727.3,179.9 L727.9,178.0 L728.5,176.1 L729.1,174.2 L729.7,172.3 L730.3,170.4 L730.9,168.5 L731.6,166.6 L732.2,164.7 L732.8,162.8 L733.4,161.0 L734.0,159.1 L734.6,157.2 L735.2,155.3 L735.8,153.4 L736.4,151.5 L737.0,149.6 L737.7,147.7 L738.3,145.8 L738.9,143.9 L739.5,142.0 L740.1,140.1 L740.7,138.3 L741.3,136.4 L741.9,134.5 L742.5,132.6 L743.1,130.7 L743.8,128.8 L744.4,126.9 L745.0,125.0 L745.6,123.1 L746.2,121.2 L746.8,119.3 L747.4,117.5 L748.1,115.6 L748.7,113.7 L749.3,111.8 L749.9,109.9 L750.5,108.0 L751.1,106.1 L751.8,104.2 L752.4,102.3 L753.0,100.4 L753.6,98.5 L754.3,96.6 L754.9,94.7 L755.5,92.9 L756.2,91.0 L756.8,89.1 L757.4,87.2 L758.1,85.3 L758.7,83.4 L759.3,81.5 L760.0,79.6 L760.6,77.7 L761.3,75.8 L761.9,73.9 L762.6,72.0 L763.2,70.1 L763.9,68.2 L764.5,66.3 L765.2,64.4 L765.8,62.5 L766.5,60.6 L767.2,58.7 L767.8,56.8 L768.5,54.9 L769.2,53.0" stroke="#a8a8ff" stroke-width="2.6" stroke-dasharray="2.6 4" stroke-opacity="0.35"/>
<path d="M214.6,780.0 L214.7,778.0 L214.8,776.0 L214.9,774.0 L215.1,772.1 L215.2,770.1 L215.3,768.1 L215.4,766.1 L215.5,764.1 L215.6,762.1 L215.7,760.1 L215.8,758.1 L215.9,756.1 L216.0,754.1 L216.1,752.1 L216.2,750.2 L216.3,748.2 L216.4,746.2 L216.5,744.2 L216.6,742.2 L216.7,740.2 L216.8,738.2 L216.9,736.2 L217.0,734.2 L217.1,732.2 L217.2,730.2 L217.2,728.2 L217.3,726.2 L217.4,724.2 L217.5,722.2 L217.6,720.2 L217.7,718.2 L217.8,716.2 L217.9,714.2 L218.0,712.2 L218.1,710.2 L218.2,708.2 L218.2,706.2 L218.3,704.2 L218.4,702.2 L218.5,700.2 L218.6,698.2 L218.7,696.2 L218.8,694.2 L218.9,692.2 L219.0,690.2 L219.1,688.2 L219.2,686.2 L219.3,684.2 L219.4,682.2 L219.5,680.2 L219.6,678.2 L219.7,676.2 L219.8,674.2 L219.9,672.2 L220.0,670.2 L220.1,668.2 L220.2,666.2 L220.3,664.2 L220.4,662.2 L220.5,660.2 L220.6,658.2 L220.7,656.2 L220.8,654.2 L221.0,652.2 L221.1,650.2 L221.2,648.2 L221.3,646.2 L221.4,644.2 L221.6,642.2 L221.7,640.2 L221.8,638.2 L221.9,636.2 L222.1,634.2 L222.2,632.2 L222.3,630.2 L222.5,628.2 L222.6,626.2 L222.8,624.2 L222.9,622.2 L223.1,620.2 L223.2,618.2 L223.4,616.2 L223.5,614.2 L223.7,612.2 L223.8,610.2 L224.0,608.2 L224.2,606.2 L224.3,604.3 L224.5,602.3 L224.7,600.3 L224.9,598.3 L225.0,596.3 L225.2,594.3 L225.4,592.3 L225.6,590.3 L225.8,588.3 L226.0,586.4 L226.2,584.4 L226.4,582.4 L226.6,580.4 L226.8,578.4 L227.0,576.4 L227.3,574.5 L227.5,572.5 L227.7,570.5 L227.9,568.5 L228.2,566.5 L228.4,564.6 L228.6,562.6 L228.9,560.6 L229.1,558.6 L229.4,556.7 L229.6,554.7 L229.9,552.7 L230.2,550.7 L230.4,548.8 L230.7,546.8 L231.0,544.8 L231.3,542.9 L231.6,540.9 L231.9,538.9 L232.2,537.0 L232.5,535.0 L232.8,533.0 L233.1,531.1 L233.4,529.1 L233.7,527.1 L234.0,525.2 L234.4,523.2 L234.7,521.3 L235.0,519.3 L235.4,517.4 L235.7,515.4 L236.1,513.4 L236.5,511.5 L236.8,509.5 L237.2,507.6 L237.6,505.6 L238.0,503.7 L238.4,501.8 L238.7,499.8 L239.1,497.9 L239.6,495.9 L240.0,494.0 L240.4,492.0 L240.8,490.1 L241.2,488.2 L241.7,486.2 L242.1,484.3 L242.6,482.4 L243.0,480.4 L243.5,478.5 L243.9,476.6 L244.4,474.6 L244.9,472.7 L245.4,470.8 L245.9,468.9 L246.4,466.9 L246.9,465.0 L247.4,463.1 L247.9,461.2 L248.4,459.3 L249.0,457.4 L249.5,455.4 L250.0,453.5 L250.6,451.6 L251.2,449.7 L251.7,447.8 L252.3,445.9 L252.9,444.0 L253.5,442.1 L254.1,440.2 L254.7,438.3 L255.3,436.4 L255.9,434.5 L256.5,432.6 L257.1,430.7 L257.8,428.8 L258.4,426.9 L259.1,425.1 L259.7,423.2 L260.4,421.3 L261.1,419.4 L261.8,417.5 L262.5,415.7 L263.2,413.8 L263.9,411.9 L264.6,410.0 L265.3,408.2 L266.1,406.3 L266.8,404.4 L267.5,402.6 L268.3,400.7 L269.1,398.8 L269.8,397.0 L270.6,395.1 L271.4,393.3 L272.2,391.4 L273.0,389.6 L273.8,387.7 L274.7,385.9 L275.5,384.0 L276.4,382.2 L277.2,380.3 L278.1,378.5 L278.9,376.7 L279.8,374.9 L280.7,373.0 L281.6,371.2 L282.5,369.4 L283.5,367.6 L284.4,365.8 L285.4,364.0 L286.3,362.2 L287.3,360.4 L288.3,358.7 L289.3,356.9 L290.3,355.1 L291.3,353.4 L292.3,351.7 L293.4,349.9 L294.4,348.2 L295.5,346.5 L296.6,344.8 L297.7,343.1 L298.8,341.5 L299.9,339.8 L301.1,338.1 L302.2,336.5 L303.4,334.9 L304.6,333.3 L305.8,331.7 L307.0,330.1 L308.3,328.5 L309.5,327.0 L310.8,325.4 L312.0,323.9 L313.3,322.4 L314.7,320.9 L316.0,319.4 L317.3,318.0 L318.7,316.5 L320.1,315.1 L321.5,313.7 L322.9,312.3 L324.4,311.0 L325.8,309.6 L327.3,308.3 L328.8,307.0 L330.3,305.7 L331.8,304.5 L333.4,303.2 L335.0,302.0 L336.6,300.8 L338.2,299.6 L339.8,298.5 L341.5,297.3 L343.1,296.2 L344.8,295.2 L346.5,294.1 L348.3,293.1 L350.0,292.1 L351.7,291.1 L353.5,290.2 L355.3,289.3 L357.1,288.4 L358.9,287.5 L360.7,286.7 L362.6,285.9 L364.4,285.1 L366.3,284.4 L368.1,283.7 L370.0,283.1 L371.9,282.4 L373.8,281.8 L375.7,281.3 L377.6,280.8 L379.5,280.3 L381.4,279.8 L383.3,279.4 L385.2,279.1 L387.2,278.7 L389.1,278.5 L391.0,278.2 L393.0,278.0 L394.9,277.8 L396.8,277.7 L398.8,277.7 L400.7,277.6 L402.6,277.6 L404.6,277.7 L406.5,277.8 L408.4,278.0 L410.4,278.2 L412.3,278.4 L414.2,278.7 L416.1,279.0 L418.0,279.4 L419.9,279.9 L421.8,280.4 L423.7,280.9 L425.5,281.5 L427.4,282.2 L429.2,282.9 L431.1,283.7 L432.9,284.5 L434.7,285.3 L436.6,286.2 L438.4,287.1 L440.2,288.1 L442.0,289.1 L443.7,290.1 L445.5,291.1 L447.3,292.2 L449.0,293.3 L450.8,294.4 L452.5,295.6 L454.2,296.7 L456.0,297.9 L457.7,299.1 L459.4,300.3 L461.1,301.5 L462.8,302.7 L464.5,303.9 L466.2,305.1 L467.8,306.3 L469.5,307.5 L471.2,308.7 L472.8,309.9 L474.5,311.0 L476.1,312.2 L477.7,313.3 L479.4,314.5 L481.0,315.6 L482.6,316.7 L484.2,317.8 L485.8,318.9 L487.4,320.0 L489.1,321.1 L490.7,322.1 L492.3,323.2 L493.9,324.3 L495.5,325.3 L497.1,326.4 L498.7,327.5 L500.4,328.5 L502.0,329.6 L503.6,330.6 L505.2,331.7 L506.9,332.7 L508.5,333.8 L510.2,334.8 L511.8,335.9 L513.5,337.0 L515.2,338.0 L516.8,339.1 L518.5,340.1 L520.2,341.2 L522.0,342.2 L523.7,343.3 L525.4,344.3 L527.2,345.3 L529.0,346.2 L530.7,347.2 L532.5,348.1 L534.4,349.0 L536.2,349.9 L538.1,350.8 L539.9,351.6 L541.8,352.4 L543.8,353.1 L545.7,353.8 L547.7,354.5 L549.7,355.1 L551.6,355.7 L553.7,356.2 L555.7,356.7 L557.7,357.1 L559.7,357.5 L561.7,357.8 L563.7,358.1 L565.7,358.3 L567.7,358.4 L569.7,358.5 L571.7,358.5 L573.6,358.4 L575.6,358.2 L577.5,358.0 L579.4,357.7 L581.2,357.3 L583.0,356.8 L584.8,356.3 L586.5,355.6 L588.2,354.9 L589.9,354.1 L591.5,353.2 L593.0,352.1 L594.5,351.1 L596.0,349.9 L597.4,348.6 L598.8,347.3 L600.1,345.9 L601.4,344.4 L602.7,342.9 L603.9,341.4 L605.1,339.8 L606.3,338.1 L607.4,336.4 L608.5,334.7 L609.6,332.9 L610.6,331.2 L611.7,329.4 L612.7,327.6 L613.6,325.8 L614.6,324.0 L615.5,322.1 L616.4,320.3 L617.3,318.5 L618.2,316.6 L619.0,314.8 L619.9,313.0 L620.7,311.1 L621.5,309.3 L622.3,307.4 L623.1,305.6 L623.8,303.7 L624.6,301.8 L625.3,300.0 L626.0,298.1 L626.7,296.2 L627.4,294.3 L628.1,292.4 L628.8,290.6 L629.5,288.7 L630.1,286.8 L630.8,284.9 L631.4,283.0 L632.1,281.1 L632.7,279.2 L633.3,277.3 L633.9,275.4 L634.6,273.5 L635.2,271.6 L635.8,269.7 L636.4,267.8 L637.0,265.9 L637.6,264.0 L638.2,262.1 L638.8,260.2 L639.4,258.3 L640.0,256.4 L640.6,254.5 L641.2,252.6 L641.8,250.7 L642.4,248.8 L643.0,246.9 L643.6,245.0 L644.2,243.1 L644.8,241.2 L645.4,239.3 L646.1,237.4 L646.7,235.5 L647.3,233.6 L647.9,231.7 L648.5,229.8 L649.1,227.9 L649.7,226.0 L650.3,224.1 L650.9,222.2 L651.5,220.3 L652.1,218.4 L652.7,216.5 L653.3,214.6 L653.8,212.7 L654.4,210.8 L655.0,208.9 L655.6,207.0 L656.2,205.1 L656.8,203.2 L657.4,201.3 L658.0,199.4 L658.6,197.5 L659.2,195.6 L659.8,193.6 L660.4,191.7 L660.9,189.8 L661.5,187.9 L662.1,186.0 L662.7,184.1 L663.3,182.2 L663.8,180.3 L664.4,178.4 L665.0,176.5 L665.6,174.6 L666.2,172.6 L666.7,170.7 L667.3,168.8 L667.9,166.9 L668.4,165.0 L669.0,163.1 L669.6,161.2 L670.1,159.3 L670.7,157.3 L671.3,155.4 L671.8,153.5 L672.4,151.6 L672.9,149.7 L673.5,147.8 L674.0,145.8 L674.6,143.9 L675.1,142.0 L675.7,140.1 L676.2,138.2 L676.7,136.2 L677.3,134.3 L677.8,132.4 L678.4,130.5 L678.9,128.6 L679.4,126.6 L679.9,124.7 L680.5,122.8 L681.0,120.9 L681.5,118.9 L682.0,117.0 L682.5,115.1 L683.1,113.1 L683.6,111.2 L684.1,109.3 L684.6,107.3 L685.1,105.4 L685.6,103.5 L686.1,101.5 L686.6,99.6 L687.1,97.7 L687.6,95.7 L688.1,93.8 L688.5,91.9 L689.0,89.9 L689.5,88.0 L690.0,86.0 L690.4,84.1 L690.9,82.1 L691.4,80.2 L691.8,78.3 L692.3,76.3 L692.8,74.4 L693.2,72.4 L693.7,70.5 L694.1,68.5 L694.6,66.6 L695.0,64.6 L695.4,62.7 L695.9,60.7 L696.3,58.7 L696.7,56.8 L697.1,54.8 L697.6,52.9 L698.0,50.9 L698.4,49.0" stroke="#2a2ad8" stroke-width="3.0"/>
<path d="M225.8,779.8 L226.0,777.8 L226.2,775.9 L226.4,774.0 L226.6,772.0 L226.7,770.1 L226.9,768.1 L227.1,766.2 L227.2,764.2 L227.4,762.3 L227.6,760.3 L227.7,758.4 L227.9,756.4 L228.0,754.5 L228.2,752.5 L228.3,750.5 L228.5,748.6 L228.6,746.6 L228.8,744.7 L228.9,742.7 L229.1,740.7 L229.2,738.7 L229.3,736.8 L229.5,734.8 L229.6,732.8 L229.7,730.9 L229.9,728.9 L230.0,726.9 L230.1,724.9 L230.3,722.9 L230.4,721.0 L230.5,719.0 L230.6,717.0 L230.8,715.0 L230.9,713.0 L231.0,711.0 L231.1,709.0 L231.3,707.1 L231.4,705.1 L231.5,703.1 L231.6,701.1 L231.8,699.1 L231.9,697.1 L232.0,695.1 L232.1,693.1 L232.2,691.1 L232.4,689.1 L232.5,687.1 L232.6,685.1 L232.7,683.1 L232.8,681.1 L233.0,679.1 L233.1,677.1 L233.2,675.1 L233.3,673.1 L233.4,671.1 L233.6,669.1 L233.7,667.1 L233.8,665.1 L233.9,663.1 L234.1,661.0 L234.2,659.0 L234.3,657.0 L234.4,655.0 L234.6,653.0 L234.7,651.0 L234.8,649.0 L234.9,647.0 L235.1,645.0 L235.2,643.0 L235.3,641.0 L235.5,638.9 L235.6,636.9 L235.8,634.9 L235.9,632.9 L236.0,630.9 L236.2,628.9 L236.3,626.9 L236.5,624.9 L236.6,622.8 L236.8,620.8 L236.9,618.8 L237.1,616.8 L237.2,614.8 L237.4,612.8 L237.6,610.8 L237.7,608.8 L237.9,606.8 L238.0,604.7 L238.2,602.7 L238.4,600.7 L238.6,598.7 L238.7,596.7 L238.9,594.7 L239.1,592.7 L239.3,590.7 L239.5,588.7 L239.7,586.7 L239.9,584.7 L240.0,582.6 L240.2,580.6 L240.5,578.6 L240.7,576.6 L240.9,574.6 L241.1,572.6 L241.3,570.6 L241.5,568.6 L241.7,566.6 L242.0,564.6 L242.2,562.6 L242.4,560.6 L242.6,558.6 L242.9,556.6 L243.1,554.6 L243.4,552.6 L243.6,550.6 L243.9,548.6 L244.1,546.6 L244.4,544.7 L244.7,542.7 L244.9,540.7 L245.2,538.7 L245.5,536.7 L245.8,534.7 L246.1,532.7 L246.4,530.7 L246.7,528.8 L247.0,526.8 L247.3,524.8 L247.6,522.8 L247.9,520.8 L248.2,518.9 L248.5,516.9 L248.9,514.9 L249.2,512.9 L249.5,511.0 L249.9,509.0 L250.2,507.0 L250.6,505.1 L250.9,503.1 L251.3,501.1 L251.7,499.2 L252.1,497.2 L252.4,495.2 L252.8,493.3 L253.2,491.3 L253.6,489.4 L254.0,487.4 L254.4,485.5 L254.8,483.5 L255.3,481.6 L255.7,479.6 L256.1,477.7 L256.6,475.8 L257.0,473.8 L257.5,471.9 L257.9,469.9 L258.4,468.0 L258.9,466.1 L259.3,464.1 L259.8,462.2 L260.3,460.3 L260.8,458.4 L261.3,456.4 L261.8,454.5 L262.3,452.6 L262.9,450.7 L263.4,448.8 L263.9,446.9 L264.5,445.0 L265.0,443.1 L265.6,441.2 L266.1,439.3 L266.7,437.4 L267.3,435.5 L267.9,433.6 L268.5,431.7 L269.1,429.8 L269.7,427.9 L270.3,426.0 L270.9,424.1 L271.5,422.3 L272.2,420.4 L272.8,418.5 L273.5,416.6 L274.1,414.8 L274.8,412.9 L275.5,411.0 L276.2,409.2 L276.9,407.3 L277.6,405.5 L278.3,403.6 L279.0,401.8 L279.7,399.9 L280.5,398.1 L281.2,396.2 L282.0,394.4 L282.7,392.6 L283.5,390.7 L284.3,388.9 L285.1,387.1 L285.9,385.3 L286.7,383.5 L287.5,381.6 L288.3,379.8 L289.1,378.0 L290.0,376.2 L290.8,374.4 L291.7,372.6 L292.6,370.8 L293.4,369.0 L294.3,367.2 L295.2,365.4 L296.1,363.7 L297.0,361.9 L298.0,360.1 L298.9,358.3 L299.8,356.6 L300.8,354.8 L301.8,353.0 L302.7,351.3 L303.7,349.5 L304.7,347.8 L305.7,346.0 L306.7,344.3 L307.8,342.6 L308.8,340.8 L309.8,339.1 L310.9,337.4 L312.0,335.6 L313.0,333.9 L314.1,332.2 L315.2,330.5 L316.3,328.8 L317.4,327.1 L318.6,325.4 L319.7,323.7 L320.9,322.0 L322.0,320.3 L323.2,318.7 L324.4,317.0 L325.6,315.3 L326.8,313.7 L328.0,312.1 L329.2,310.4 L330.5,308.8 L331.7,307.2 L333.0,305.6 L334.3,304.1 L335.6,302.5 L336.9,301.0 L338.2,299.4 L339.5,297.9 L340.9,296.4 L342.2,294.9 L343.6,293.4 L345.0,292.0 L346.3,290.6 L347.8,289.1 L349.2,287.7 L350.6,286.3 L352.0,285.0 L353.5,283.6 L355.0,282.3 L356.5,281.0 L358.0,279.7 L359.5,278.5 L361.0,277.3 L362.5,276.0 L364.1,274.9 L365.7,273.7 L367.3,272.6 L368.9,271.4 L370.5,270.4 L372.1,269.3 L373.7,268.3 L375.4,267.3 L377.1,266.3 L378.8,265.3 L380.5,264.4 L382.2,263.5 L383.9,262.7 L385.7,261.8 L387.4,261.0 L389.2,260.3 L391.0,259.6 L392.8,258.9 L394.6,258.2 L396.5,257.6 L398.3,257.0 L400.2,256.4 L402.1,255.9 L404.0,255.4 L405.9,254.9 L407.9,254.5 L409.8,254.1 L411.8,253.8 L413.8,253.5 L415.8,253.2 L417.8,253.0 L419.8,252.8 L421.8,252.6 L423.8,252.5 L425.9,252.5 L427.9,252.4 L429.9,252.4 L432.0,252.5 L434.0,252.5 L436.1,252.7 L438.1,252.8 L440.2,253.0 L442.2,253.3 L444.2,253.5 L446.2,253.9 L448.2,254.2 L450.2,254.6 L452.2,255.1 L454.2,255.5 L456.2,256.1 L458.1,256.6 L460.1,257.2 L462.0,257.9 L463.9,258.5 L465.8,259.3 L467.6,260.0 L469.5,260.8 L471.3,261.7 L473.1,262.5 L474.9,263.4 L476.7,264.3 L478.4,265.3 L480.2,266.3 L481.9,267.3 L483.6,268.3 L485.3,269.4 L487.0,270.5 L488.7,271.6 L490.3,272.7 L492.0,273.8 L493.6,274.9 L495.2,276.1 L496.9,277.3 L498.5,278.4 L500.1,279.6 L501.7,280.8 L503.2,282.0 L504.8,283.2 L506.4,284.4 L508.0,285.6 L509.5,286.8 L511.1,288.0 L512.6,289.2 L514.2,290.5 L515.7,291.7 L517.3,292.9 L518.8,294.1 L520.4,295.3 L522.0,296.5 L523.5,297.7 L525.1,298.9 L526.7,300.1 L528.2,301.3 L529.8,302.5 L531.4,303.7 L533.0,304.8 L534.6,306.0 L536.2,307.1 L537.8,308.3 L539.5,309.4 L541.1,310.5 L542.8,311.6 L544.4,312.6 L546.1,313.7 L547.8,314.8 L549.6,315.8 L551.3,316.8 L553.0,317.8 L554.8,318.8 L556.6,319.7 L558.4,320.6 L560.2,321.5 L562.1,322.4 L564.0,323.3 L565.8,324.1 L567.7,324.9 L569.6,325.7 L571.6,326.5 L573.5,327.2 L575.5,327.9 L577.4,328.5 L579.4,329.2 L581.3,329.8 L583.3,330.3 L585.3,330.8 L587.3,331.3 L589.3,331.8 L591.3,332.2 L593.3,332.5 L595.3,332.9 L597.3,333.1 L599.3,333.4 L601.3,333.6 L603.2,333.7 L605.2,333.8 L607.2,333.9 L609.2,333.9 L611.1,333.8 L613.1,333.7 L615.0,333.6 L616.9,333.4 L618.8,333.1 L620.7,332.8 L622.6,332.4 L624.4,332.0 L626.3,331.5 L628.1,331.0 L629.9,330.4 L631.7,329.7 L633.5,329.0 L635.2,328.2 L636.9,327.4 L638.6,326.5 L640.3,325.5 L642.0,324.5 L643.6,323.5 L645.2,322.4 L646.8,321.3 L648.4,320.1 L649.9,318.9 L651.4,317.7 L652.9,316.4 L654.4,315.0 L655.8,313.7 L657.3,312.3 L658.7,310.8 L660.0,309.3 L661.4,307.8 L662.7,306.3 L664.0,304.8 L665.3,303.2 L666.5,301.6 L667.7,300.0 L668.9,298.3 L670.1,296.6 L671.2,295.0 L672.3,293.2 L673.4,291.5 L674.5,289.8 L675.5,288.1 L676.5,286.3 L677.5,284.5 L678.4,282.8 L679.3,281.0 L680.2,279.2 L681.1,277.4 L682.0,275.6 L682.8,273.7 L683.6,271.9 L684.4,270.1 L685.2,268.2 L686.0,266.4 L686.7,264.5 L687.4,262.6 L688.2,260.8 L688.9,258.9 L689.6,257.0 L690.3,255.1 L691.0,253.3 L691.6,251.4 L692.3,249.5 L693.0,247.6 L693.6,245.7 L694.3,243.8 L694.9,241.9 L695.6,240.0 L696.2,238.1 L696.9,236.2 L697.5,234.3 L698.1,232.4 L698.8,230.5 L699.4,228.6 L700.0,226.7 L700.7,224.8 L701.3,222.9 L701.9,221.0 L702.5,219.1 L703.2,217.2 L703.8,215.3 L704.4,213.4 L705.0,211.5 L705.6,209.6 L706.2,207.7 L706.8,205.8 L707.4,203.9 L708.0,202.0 L708.6,200.1 L709.2,198.2 L709.8,196.3 L710.4,194.4 L711.0,192.5 L711.6,190.6 L712.2,188.7 L712.8,186.8 L713.3,184.9 L713.9,183.0 L714.5,181.1 L715.1,179.2 L715.7,177.3 L716.2,175.4 L716.8,173.5 L717.4,171.5 L718.0,169.6 L718.5,167.7 L719.1,165.8 L719.7,163.9 L720.2,162.0 L720.8,160.1 L721.4,158.2 L721.9,156.3 L722.5,154.4 L723.0,152.4 L723.6,150.5 L724.1,148.6 L724.7,146.7 L725.3,144.8 L725.8,142.9 L726.4,141.0 L726.9,139.0 L727.5,137.1 L728.0,135.2 L728.6,133.3 L729.1,131.4 L729.7,129.5 L730.2,127.6 L730.7,125.6 L731.3,123.7 L731.8,121.8 L732.4,119.9 L732.9,118.0 L733.5,116.0 L734.0,114.1 L734.5,112.2 L735.1,110.3 L735.6,108.4 L736.2,106.4 L736.7,104.5 L737.2,102.6 L737.8,100.7 L738.3,98.8 L738.9,96.8 L739.4,94.9 L739.9,93.0 L740.5,91.1 L741.0,89.1 L741.5,87.2 L742.1,85.3 L742.6,83.4 L743.2,81.4 L743.7,79.5 L744.2,77.6 L744.8,75.7 L745.3,73.7 L745.9,71.8 L746.4,69.9 L746.9,68.0 L747.5,66.0 L748.0,64.1 L748.6,62.2 L749.1,60.2 L749.6,58.3 L750.2,56.4 L750.7,54.5 L751.3,52.5 L751.8,50.6 L752.4,48.7 L752.9,46.7 L753.4,44.8 L754.0,42.9 L754.5,40.9 L755.1,39.0" stroke="#dc2626" stroke-width="3.0"/>
<path d="M243.3,779.7 L243.5,777.8 L243.7,775.9 L243.8,774.0 L244.0,772.0 L244.2,770.1 L244.3,768.2 L244.5,766.2 L244.7,764.3 L244.8,762.3 L245.0,760.4 L245.1,758.4 L245.3,756.5 L245.4,754.5 L245.5,752.6 L245.7,750.6 L245.8,748.7 L246.0,746.7 L246.1,744.8 L246.2,742.8 L246.3,740.8 L246.5,738.9 L246.6,736.9 L246.7,734.9 L246.8,732.9 L246.9,731.0 L247.1,729.0 L247.2,727.0 L247.3,725.0 L247.4,723.1 L247.5,721.1 L247.6,719.1 L247.7,717.1 L247.8,715.1 L247.9,713.1 L248.0,711.1 L248.1,709.2 L248.2,707.2 L248.3,705.2 L248.4,703.2 L248.5,701.2 L248.6,699.2 L248.7,697.2 L248.8,695.2 L248.9,693.2 L249.0,691.2 L249.1,689.2 L249.2,687.2 L249.3,685.2 L249.4,683.2 L249.5,681.2 L249.5,679.2 L249.6,677.1 L249.7,675.1 L249.8,673.1 L249.9,671.1 L250.0,669.1 L250.1,667.1 L250.2,665.1 L250.3,663.1 L250.4,661.1 L250.5,659.0 L250.6,657.0 L250.7,655.0 L250.8,653.0 L250.9,651.0 L251.0,649.0 L251.1,646.9 L251.2,644.9 L251.3,642.9 L251.4,640.9 L251.5,638.9 L251.6,636.9 L251.7,634.8 L251.8,632.8 L252.0,630.8 L252.1,628.8 L252.2,626.8 L252.3,624.7 L252.4,622.7 L252.6,620.7 L252.7,618.7 L252.8,616.7 L252.9,614.7 L253.1,612.6 L253.2,610.6 L253.3,608.6 L253.5,606.6 L253.6,604.6 L253.8,602.5 L253.9,600.5 L254.1,598.5 L254.2,596.5 L254.4,594.5 L254.5,592.5 L254.7,590.5 L254.9,588.4 L255.0,586.4 L255.2,584.4 L255.4,582.4 L255.6,580.4 L255.8,578.4 L255.9,576.4 L256.1,574.4 L256.3,572.4 L256.5,570.3 L256.7,568.3 L256.9,566.3 L257.1,564.3 L257.4,562.3 L257.6,560.3 L257.8,558.3 L258.0,556.3 L258.2,554.3 L258.5,552.3 L258.7,550.3 L259.0,548.3 L259.2,546.3 L259.5,544.3 L259.7,542.3 L260.0,540.4 L260.3,538.4 L260.5,536.4 L260.8,534.4 L261.1,532.4 L261.4,530.4 L261.7,528.4 L262.0,526.5 L262.3,524.5 L262.6,522.5 L262.9,520.5 L263.2,518.5 L263.6,516.6 L263.9,514.6 L264.2,512.6 L264.6,510.7 L264.9,508.7 L265.3,506.7 L265.7,504.8 L266.0,502.8 L266.4,500.8 L266.8,498.9 L267.2,496.9 L267.6,495.0 L268.0,493.0 L268.4,491.1 L268.8,489.1 L269.2,487.2 L269.6,485.2 L270.1,483.3 L270.5,481.4 L271.0,479.4 L271.4,477.5 L271.9,475.6 L272.4,473.6 L272.8,471.7 L273.3,469.8 L273.8,467.9 L274.3,466.0 L274.8,464.0 L275.3,462.1 L275.9,460.2 L276.4,458.3 L276.9,456.4 L277.5,454.5 L278.0,452.6 L278.6,450.7 L279.2,448.8 L279.8,446.9 L280.4,445.0 L281.0,443.1 L281.6,441.3 L282.2,439.4 L282.8,437.5 L283.4,435.6 L284.1,433.8 L284.7,431.9 L285.4,430.0 L286.0,428.2 L286.7,426.3 L287.4,424.4 L288.1,422.6 L288.8,420.7 L289.5,418.9 L290.2,417.0 L291.0,415.2 L291.7,413.4 L292.5,411.5 L293.2,409.7 L294.0,407.9 L294.8,406.1 L295.6,404.2 L296.4,402.4 L297.2,400.6 L298.0,398.8 L298.8,397.0 L299.7,395.2 L300.5,393.4 L301.4,391.6 L302.3,389.8 L303.2,388.1 L304.1,386.3 L305.0,384.5 L305.9,382.8 L306.9,381.0 L307.8,379.3 L308.8,377.5 L309.8,375.8 L310.7,374.1 L311.8,372.3 L312.8,370.6 L313.8,368.9 L314.9,367.2 L315.9,365.5 L317.0,363.9 L318.1,362.2 L319.2,360.5 L320.4,358.9 L321.5,357.2 L322.7,355.6 L323.8,354.0 L325.0,352.3 L326.3,350.7 L327.5,349.1 L328.7,347.5 L330.0,346.0 L331.3,344.4 L332.6,342.8 L333.9,341.3 L335.2,339.8 L336.6,338.3 L338.0,336.7 L339.4,335.3 L340.8,333.8 L342.2,332.3 L343.7,330.9 L345.2,329.4 L346.6,328.0 L348.1,326.6 L349.7,325.3 L351.2,323.9 L352.8,322.6 L354.3,321.3 L355.9,320.0 L357.5,318.8 L359.1,317.6 L360.8,316.4 L362.4,315.2 L364.1,314.1 L365.8,313.0 L367.4,312.0 L369.1,310.9 L370.9,309.9 L372.6,309.0 L374.3,308.1 L376.1,307.2 L377.9,306.3 L379.7,305.5 L381.5,304.8 L383.3,304.1 L385.1,303.4 L386.9,302.8 L388.8,302.2 L390.6,301.6 L392.5,301.2 L394.4,300.7 L396.2,300.3 L398.1,300.0 L400.0,299.7 L402.0,299.5 L403.9,299.3 L405.8,299.2 L407.8,299.1 L409.7,299.0 L411.6,299.0 L413.6,299.1 L415.6,299.2 L417.5,299.3 L419.5,299.5 L421.5,299.7 L423.4,300.0 L425.4,300.2 L427.4,300.6 L429.4,300.9 L431.3,301.3 L433.3,301.8 L435.3,302.2 L437.2,302.7 L439.2,303.2 L441.2,303.8 L443.1,304.3 L445.1,304.9 L447.0,305.6 L448.9,306.2 L450.9,306.9 L452.8,307.6 L454.7,308.3 L456.6,309.0 L458.5,309.7 L460.4,310.5 L462.2,311.2 L464.1,312.0 L465.9,312.8 L467.8,313.6 L469.6,314.5 L471.4,315.3 L473.2,316.1 L475.0,317.0 L476.9,317.8 L478.6,318.7 L480.4,319.5 L482.2,320.4 L484.0,321.3 L485.8,322.1 L487.6,323.0 L489.4,323.9 L491.1,324.8 L492.9,325.6 L494.7,326.5 L496.5,327.3 L498.2,328.2 L500.0,329.1 L501.8,329.9 L503.6,330.7 L505.4,331.6 L507.1,332.4 L508.9,333.2 L510.7,334.0 L512.5,334.7 L514.3,335.5 L516.2,336.3 L518.0,337.0 L519.8,337.7 L521.7,338.4 L523.5,339.1 L525.4,339.7 L527.2,340.4 L529.1,341.0 L531.0,341.6 L532.9,342.2 L534.8,342.7 L536.7,343.2 L538.7,343.7 L540.6,344.2 L542.6,344.6 L544.6,345.0 L546.6,345.4 L548.6,345.7 L550.6,346.1 L552.7,346.4 L554.7,346.6 L556.8,346.8 L558.8,347.1 L560.9,347.2 L562.9,347.4 L565.0,347.5 L567.1,347.6 L569.1,347.7 L571.2,347.8 L573.3,347.8 L575.3,347.8 L577.3,347.8 L579.4,347.7 L581.4,347.6 L583.3,347.4 L585.3,347.1 L587.2,346.8 L589.1,346.4 L591.0,345.9 L592.8,345.3 L594.5,344.6 L596.3,343.8 L597.9,342.9 L599.6,341.9 L601.2,340.9 L602.8,339.7 L604.3,338.5 L605.8,337.3 L607.3,336.0 L608.7,334.6 L610.1,333.2 L611.5,331.8 L612.8,330.3 L614.2,328.9 L615.4,327.4 L616.7,325.8 L618.0,324.3 L619.2,322.7 L620.4,321.2 L621.5,319.6 L622.7,318.0 L623.8,316.4 L624.9,314.7 L626.0,313.1 L627.1,311.4 L628.1,309.8 L629.1,308.1 L630.1,306.4 L631.1,304.7 L632.1,302.9 L633.0,301.2 L634.0,299.5 L634.9,297.7 L635.8,295.9 L636.6,294.2 L637.5,292.4 L638.3,290.6 L639.2,288.8 L640.0,287.0 L640.8,285.2 L641.6,283.3 L642.3,281.5 L643.1,279.6 L643.8,277.8 L644.6,275.9 L645.3,274.1 L646.0,272.2 L646.7,270.3 L647.4,268.4 L648.1,266.5 L648.7,264.6 L649.4,262.7 L650.0,260.8 L650.7,258.9 L651.3,257.0 L651.9,255.1 L652.6,253.1 L653.2,251.2 L653.8,249.3 L654.4,247.3 L655.0,245.4 L655.6,243.5 L656.2,241.5 L656.8,239.6 L657.4,237.7 L657.9,235.7 L658.5,233.8 L659.1,231.8 L659.7,229.9 L660.2,228.0 L660.8,226.0 L661.4,224.1 L662.0,222.1 L662.5,220.2 L663.1,218.3 L663.7,216.4 L664.3,214.4 L664.8,212.5 L665.4,210.6 L666.0,208.7 L666.6,206.7 L667.1,204.8 L667.7,202.9 L668.3,201.0 L668.9,199.1 L669.5,197.1 L670.0,195.2 L670.6,193.3 L671.2,191.4 L671.8,189.5 L672.4,187.6 L672.9,185.7 L673.5,183.8 L674.1,181.9 L674.7,180.0 L675.2,178.1 L675.8,176.2 L676.4,174.3 L677.0,172.4 L677.6,170.5 L678.1,168.6 L678.7,166.6 L679.3,164.7 L679.8,162.8 L680.4,160.9 L681.0,159.0 L681.6,157.1 L682.1,155.2 L682.7,153.3 L683.3,151.4 L683.8,149.5 L684.4,147.6 L684.9,145.7 L685.5,143.8 L686.1,141.9 L686.6,140.0 L687.2,138.1 L687.7,136.2 L688.3,134.3 L688.8,132.4 L689.4,130.5 L689.9,128.6 L690.5,126.7 L691.0,124.8 L691.5,122.9 L692.1,121.0 L692.6,119.0 L693.1,117.1 L693.7,115.2 L694.2,113.3 L694.7,111.4 L695.2,109.5 L695.8,107.5 L696.3,105.6 L696.8,103.7 L697.3,101.8 L697.8,99.8 L698.3,97.9 L698.8,96.0 L699.3,94.0 L699.8,92.1 L700.3,90.2 L700.8,88.2 L701.3,86.3 L701.8,84.3 L702.3,82.4 L702.7,80.5 L703.2,78.5 L703.7,76.6 L704.1,74.6 L704.6,72.6 L705.1,70.7 L705.5,68.7 L706.0,66.7 L706.4,64.8 L706.8,62.8 L707.3,60.8 L707.7,58.9 L708.2,56.9 L708.6,54.9 L709.0,52.9 L709.4,50.9" stroke="#3ae03a" stroke-width="3.0"/>
<path d="M223.7,779.6 L223.9,777.7 L224.1,775.8 L224.3,773.9 L224.5,772.0 L224.6,770.1 L224.8,768.2 L225.0,766.3 L225.2,764.4 L225.3,762.4 L225.5,760.5 L225.7,758.6 L225.8,756.7 L226.0,754.8 L226.1,752.8 L226.3,750.9 L226.4,749.0 L226.6,747.0 L226.7,745.1 L226.8,743.1 L227.0,741.2 L227.1,739.2 L227.2,737.3 L227.4,735.3 L227.5,733.4 L227.6,731.4 L227.7,729.4 L227.9,727.5 L228.0,725.5 L228.1,723.5 L228.2,721.6 L228.3,719.6 L228.4,717.6 L228.5,715.6 L228.6,713.7 L228.8,711.7 L228.9,709.7 L229.0,707.7 L229.1,705.7 L229.2,703.7 L229.3,701.7 L229.4,699.7 L229.5,697.8 L229.6,695.8 L229.7,693.8 L229.8,691.8 L229.9,689.8 L230.0,687.7 L230.1,685.7 L230.2,683.7 L230.3,681.7 L230.3,679.7 L230.4,677.7 L230.5,675.7 L230.6,673.7 L230.7,671.7 L230.8,669.7 L230.9,667.6 L231.0,665.6 L231.1,663.6 L231.2,661.6 L231.3,659.6 L231.4,657.5 L231.5,655.5 L231.6,653.5 L231.7,651.5 L231.8,649.4 L231.9,647.4 L232.0,645.4 L232.2,643.4 L232.3,641.3 L232.4,639.3 L232.5,637.3 L232.6,635.2 L232.7,633.2 L232.8,631.2 L232.9,629.2 L233.1,627.1 L233.2,625.1 L233.3,623.1 L233.4,621.0 L233.6,619.0 L233.7,617.0 L233.8,614.9 L234.0,612.9 L234.1,610.9 L234.2,608.8 L234.4,606.8 L234.5,604.8 L234.7,602.8 L234.8,600.7 L235.0,598.7 L235.2,596.7 L235.3,594.6 L235.5,592.6 L235.6,590.6 L235.8,588.5 L236.0,586.5 L236.2,584.5 L236.4,582.5 L236.5,580.4 L236.7,578.4 L236.9,576.4 L237.1,574.4 L237.3,572.4 L237.5,570.3 L237.7,568.3 L237.9,566.3 L238.2,564.3 L238.4,562.3 L238.6,560.2 L238.8,558.2 L239.1,556.2 L239.3,554.2 L239.6,552.2 L239.8,550.2 L240.1,548.2 L240.3,546.2 L240.6,544.2 L240.9,542.2 L241.1,540.1 L241.4,538.1 L241.7,536.1 L242.0,534.2 L242.3,532.2 L242.6,530.2 L242.9,528.2 L243.2,526.2 L243.5,524.2 L243.8,522.2 L244.2,520.2 L244.5,518.2 L244.9,516.3 L245.2,514.3 L245.6,512.3 L245.9,510.3 L246.3,508.4 L246.7,506.4 L247.0,504.4 L247.4,502.5 L247.8,500.5 L248.2,498.5 L248.6,496.6 L249.0,494.6 L249.5,492.7 L249.9,490.7 L250.3,488.8 L250.8,486.8 L251.2,484.9 L251.7,482.9 L252.2,481.0 L252.6,479.1 L253.1,477.1 L253.6,475.2 L254.1,473.3 L254.6,471.4 L255.1,469.4 L255.6,467.5 L256.2,465.6 L256.7,463.7 L257.2,461.8 L257.8,459.9 L258.4,458.0 L258.9,456.1 L259.5,454.2 L260.1,452.3 L260.7,450.4 L261.3,448.5 L261.9,446.7 L262.5,444.8 L263.2,442.9 L263.8,441.1 L264.5,439.2 L265.1,437.3 L265.8,435.5 L266.5,433.6 L267.2,431.8 L267.9,429.9 L268.6,428.1 L269.3,426.3 L270.0,424.4 L270.7,422.6 L271.5,420.8 L272.2,418.9 L273.0,417.1 L273.8,415.3 L274.6,413.5 L275.4,411.7 L276.2,409.9 L277.0,408.1 L277.8,406.3 L278.7,404.5 L279.5,402.8 L280.4,401.0 L281.3,399.2 L282.1,397.4 L283.0,395.7 L283.9,393.9 L284.9,392.2 L285.8,390.4 L286.7,388.7 L287.7,387.0 L288.6,385.2 L289.6,383.5 L290.6,381.8 L291.6,380.1 L292.6,378.3 L293.6,376.6 L294.7,374.9 L295.7,373.2 L296.8,371.5 L297.8,369.9 L298.9,368.2 L300.0,366.5 L301.1,364.8 L302.2,363.2 L303.4,361.5 L304.5,359.9 L305.7,358.2 L306.8,356.6 L308.0,354.9 L309.2,353.3 L310.4,351.7 L311.6,350.1 L312.9,348.5 L314.1,346.9 L315.4,345.3 L316.6,343.7 L317.9,342.1 L319.2,340.5 L320.6,339.0 L321.9,337.4 L323.2,335.9 L324.6,334.4 L326.0,332.9 L327.4,331.4 L328.8,329.9 L330.2,328.5 L331.6,327.0 L333.1,325.6 L334.5,324.2 L336.0,322.9 L337.5,321.5 L339.0,320.2 L340.6,318.9 L342.1,317.7 L343.7,316.5 L345.2,315.3 L346.8,314.1 L348.5,312.9 L350.1,311.8 L351.7,310.8 L353.4,309.7 L355.1,308.7 L356.8,307.8 L358.5,306.9 L360.3,306.0 L362.0,305.1 L363.8,304.3 L365.6,303.6 L367.4,302.8 L369.3,302.2 L371.1,301.6 L373.0,301.0 L374.9,300.4 L376.8,300.0 L378.7,299.5 L380.6,299.1 L382.6,298.8 L384.6,298.5 L386.5,298.2 L388.5,298.0 L390.5,297.8 L392.5,297.7 L394.5,297.6 L396.5,297.6 L398.5,297.6 L400.5,297.6 L402.5,297.7 L404.5,297.9 L406.5,298.0 L408.5,298.2 L410.5,298.5 L412.5,298.8 L414.5,299.1 L416.4,299.5 L418.4,299.9 L420.3,300.4 L422.3,300.9 L424.2,301.5 L426.1,302.0 L428.0,302.7 L429.9,303.3 L431.7,304.0 L433.6,304.8 L435.4,305.5 L437.2,306.3 L439.0,307.1 L440.8,308.0 L442.6,308.9 L444.4,309.8 L446.1,310.7 L447.9,311.6 L449.6,312.6 L451.4,313.5 L453.1,314.5 L454.9,315.5 L456.6,316.5 L458.3,317.5 L460.0,318.5 L461.7,319.5 L463.5,320.5 L465.2,321.6 L466.9,322.6 L468.6,323.6 L470.3,324.6 L472.0,325.6 L473.8,326.6 L475.5,327.6 L477.2,328.5 L479.0,329.5 L480.7,330.4 L482.5,331.3 L484.2,332.2 L486.0,333.1 L487.8,333.9 L489.6,334.8 L491.4,335.6 L493.2,336.3 L495.0,337.0 L496.8,337.7 L498.7,338.4 L500.5,339.0 L502.4,339.6 L504.3,340.1 L506.2,340.6 L508.1,341.1 L510.1,341.5 L512.0,341.9 L514.0,342.2 L516.0,342.5 L518.0,342.8 L520.0,343.0 L522.0,343.2 L524.1,343.4 L526.1,343.6 L528.2,343.7 L530.2,343.9 L532.3,344.0 L534.4,344.1 L536.5,344.2 L538.6,344.3 L540.6,344.5 L542.7,344.6 L544.8,344.7 L546.9,344.8 L549.0,344.9 L551.1,345.1 L553.2,345.2 L555.3,345.3 L557.4,345.4 L559.4,345.5 L561.5,345.6 L563.5,345.6 L565.5,345.6 L567.5,345.6 L569.5,345.5 L571.5,345.4 L573.4,345.2 L575.3,345.0 L577.2,344.7 L579.1,344.3 L580.9,343.9 L582.7,343.4 L584.4,342.8 L586.1,342.1 L587.8,341.4 L589.5,340.5 L591.0,339.6 L592.6,338.6 L594.1,337.4 L595.6,336.3 L597.1,335.0 L598.5,333.7 L599.8,332.3 L601.2,330.9 L602.5,329.4 L603.8,327.8 L605.0,326.2 L606.3,324.6 L607.5,323.0 L608.6,321.3 L609.8,319.6 L610.9,317.9 L612.0,316.1 L613.0,314.4 L614.1,312.6 L615.1,310.9 L616.1,309.1 L617.1,307.3 L618.0,305.6 L619.0,303.8 L619.9,302.0 L620.8,300.2 L621.7,298.4 L622.6,296.5 L623.4,294.7 L624.3,292.9 L625.1,291.1 L625.9,289.2 L626.7,287.4 L627.5,285.5 L628.3,283.7 L629.0,281.8 L629.8,280.0 L630.5,278.1 L631.3,276.2 L632.0,274.4 L632.7,272.5 L633.5,270.6 L634.2,268.8 L634.9,266.9 L635.6,265.0 L636.3,263.1 L637.0,261.3 L637.7,259.4 L638.4,257.5 L639.1,255.6 L639.8,253.8 L640.5,251.9 L641.2,250.0 L641.9,248.1 L642.6,246.3 L643.4,244.4 L644.1,242.5 L644.8,240.7 L645.5,238.8 L646.3,236.9 L647.0,235.1 L647.8,233.2 L648.5,231.4 L649.3,229.6 L650.1,227.7 L650.9,225.9 L651.7,224.1 L652.5,222.2 L653.3,220.4 L654.1,218.6 L655.0,216.8 L655.8,214.9 L656.6,213.1 L657.5,211.3 L658.3,209.5 L659.2,207.7 L660.0,205.9 L660.9,204.1 L661.7,202.3 L662.5,200.5 L663.4,198.7 L664.2,196.8 L665.1,195.0 L665.9,193.2 L666.8,191.4 L667.6,189.6 L668.4,187.8 L669.2,186.0 L670.0,184.1 L670.9,182.3 L671.7,180.5 L672.4,178.7 L673.2,176.8 L674.0,175.0 L674.8,173.2 L675.5,171.3 L676.3,169.5 L677.0,167.6 L677.7,165.8 L678.4,163.9 L679.1,162.0 L679.8,160.2 L680.4,158.3 L681.1,156.4 L681.7,154.5 L682.3,152.6 L682.9,150.7 L683.5,148.8 L684.1,146.9 L684.7,145.0 L685.2,143.1 L685.8,141.2 L686.3,139.2 L686.8,137.3 L687.3,135.4 L687.8,133.4 L688.3,131.5 L688.8,129.5 L689.2,127.6 L689.7,125.6 L690.1,123.7 L690.6,121.7 L691.0,119.7 L691.4,117.8 L691.9,115.8 L692.3,113.9 L692.7,111.9 L693.1,109.9 L693.5,107.9 L693.8,106.0 L694.2,104.0 L694.6,102.0 L695.0,100.0 L695.3,98.0 L695.7,96.1 L696.1,94.1 L696.4,92.1 L696.8,90.1 L697.1,88.1 L697.5,86.2 L697.9,84.2 L698.2,82.2 L698.6,80.2 L698.9,78.3 L699.3,76.3 L699.6,74.3 L700.0,72.3 L700.3,70.4 L700.7,68.4 L701.0,66.4 L701.4,64.4 L701.7,62.5 L702.1,60.5 L702.5,58.6 L702.8,56.6 L703.2,54.6 L703.6,52.7 L704.0,50.7 L704.4,48.8 L704.8,46.9 L705.2,44.9 L705.6,43.0 L706.0,41.1 L706.4,39.1 L706.9,37.2 L707.3,35.3" stroke="#ee34ee" stroke-width="3.0"/>
<path d="M238.6,779.7 L238.8,777.8 L239.1,775.9 L239.3,773.9 L239.5,772.0 L239.8,770.1 L240.0,768.2 L240.2,766.3 L240.4,764.3 L240.6,762.4 L240.8,760.5 L241.0,758.5 L241.2,756.6 L241.4,754.7 L241.5,752.7 L241.7,750.8 L241.9,748.8 L242.1,746.9 L242.2,744.9 L242.4,743.0 L242.6,741.0 L242.7,739.1 L242.9,737.1 L243.0,735.1 L243.2,733.2 L243.3,731.2 L243.4,729.2 L243.6,727.3 L243.7,725.3 L243.8,723.3 L244.0,721.3 L244.1,719.4 L244.2,717.4 L244.4,715.4 L244.5,713.4 L244.6,711.4 L244.7,709.4 L244.8,707.4 L244.9,705.5 L245.0,703.5 L245.1,701.5 L245.3,699.5 L245.4,697.5 L245.5,695.5 L245.6,693.5 L245.7,691.5 L245.8,689.5 L245.9,687.5 L246.0,685.5 L246.1,683.5 L246.2,681.5 L246.2,679.5 L246.3,677.4 L246.4,675.4 L246.5,673.4 L246.6,671.4 L246.7,669.4 L246.8,667.4 L246.9,665.4 L247.0,663.4 L247.1,661.3 L247.2,659.3 L247.3,657.3 L247.4,655.3 L247.5,653.3 L247.5,651.3 L247.6,649.2 L247.7,647.2 L247.8,645.2 L247.9,643.2 L248.0,641.2 L248.1,639.1 L248.2,637.1 L248.3,635.1 L248.4,633.1 L248.5,631.0 L248.6,629.0 L248.7,627.0 L248.9,625.0 L249.0,623.0 L249.1,620.9 L249.2,618.9 L249.3,616.9 L249.4,614.9 L249.5,612.8 L249.7,610.8 L249.8,608.8 L249.9,606.8 L250.0,604.8 L250.2,602.7 L250.3,600.7 L250.4,598.7 L250.6,596.7 L250.7,594.6 L250.9,592.6 L251.0,590.6 L251.2,588.6 L251.3,586.6 L251.5,584.6 L251.7,582.5 L251.8,580.5 L252.0,578.5 L252.2,576.5 L252.3,574.5 L252.5,572.5 L252.7,570.5 L252.9,568.5 L253.1,566.5 L253.3,564.4 L253.5,562.4 L253.7,560.4 L253.9,558.4 L254.1,556.4 L254.4,554.4 L254.6,552.4 L254.8,550.4 L255.0,548.4 L255.3,546.4 L255.5,544.4 L255.8,542.4 L256.0,540.4 L256.3,538.5 L256.6,536.5 L256.8,534.5 L257.1,532.5 L257.4,530.5 L257.7,528.5 L258.0,526.5 L258.3,524.6 L258.6,522.6 L258.9,520.6 L259.2,518.6 L259.6,516.7 L259.9,514.7 L260.3,512.7 L260.6,510.8 L261.0,508.8 L261.3,506.8 L261.7,504.9 L262.1,502.9 L262.4,501.0 L262.8,499.0 L263.2,497.1 L263.6,495.1 L264.0,493.2 L264.5,491.2 L264.9,489.3 L265.3,487.4 L265.8,485.4 L266.2,483.5 L266.7,481.6 L267.2,479.6 L267.6,477.7 L268.1,475.8 L268.6,473.9 L269.1,471.9 L269.6,470.0 L270.1,468.1 L270.7,466.2 L271.2,464.3 L271.7,462.4 L272.3,460.5 L272.9,458.6 L273.4,456.7 L274.0,454.8 L274.6,452.9 L275.2,451.1 L275.8,449.2 L276.4,447.3 L277.0,445.4 L277.7,443.6 L278.3,441.7 L279.0,439.8 L279.7,438.0 L280.3,436.1 L281.0,434.3 L281.7,432.4 L282.4,430.6 L283.2,428.7 L283.9,426.9 L284.6,425.0 L285.4,423.2 L286.1,421.4 L286.9,419.6 L287.7,417.7 L288.5,415.9 L289.3,414.1 L290.1,412.3 L291.0,410.5 L291.8,408.7 L292.6,406.9 L293.5,405.1 L294.4,403.3 L295.3,401.6 L296.2,399.8 L297.1,398.0 L298.0,396.2 L298.9,394.5 L299.9,392.7 L300.9,391.0 L301.8,389.2 L302.8,387.5 L303.8,385.7 L304.9,384.0 L305.9,382.3 L306.9,380.6 L308.0,378.9 L309.1,377.2 L310.2,375.6 L311.3,373.9 L312.4,372.2 L313.6,370.6 L314.8,369.0 L315.9,367.4 L317.1,365.8 L318.4,364.2 L319.6,362.6 L320.9,361.1 L322.1,359.6 L323.4,358.0 L324.8,356.5 L326.1,355.1 L327.5,353.6 L328.9,352.1 L330.3,350.7 L331.7,349.3 L333.1,347.9 L334.6,346.5 L336.1,345.2 L337.6,343.9 L339.2,342.6 L340.7,341.3 L342.3,340.0 L343.9,338.8 L345.6,337.6 L347.2,336.5 L348.9,335.3 L350.6,334.2 L352.3,333.1 L354.0,332.1 L355.8,331.1 L357.5,330.2 L359.3,329.2 L361.1,328.4 L363.0,327.5 L364.8,326.7 L366.6,326.0 L368.5,325.3 L370.4,324.6 L372.3,324.0 L374.2,323.5 L376.1,323.0 L378.0,322.5 L380.0,322.1 L381.9,321.8 L383.9,321.5 L385.8,321.3 L387.8,321.1 L389.7,321.0 L391.7,320.9 L393.7,320.9 L395.6,320.9 L397.6,321.0 L399.5,321.2 L401.4,321.4 L403.4,321.6 L405.3,322.0 L407.2,322.3 L409.1,322.7 L411.0,323.2 L412.9,323.7 L414.8,324.2 L416.7,324.8 L418.6,325.3 L420.5,326.0 L422.4,326.6 L424.3,327.3 L426.2,328.0 L428.1,328.7 L429.9,329.5 L431.8,330.2 L433.7,331.0 L435.5,331.8 L437.4,332.6 L439.3,333.4 L441.2,334.2 L443.0,335.0 L444.9,335.8 L446.8,336.6 L448.6,337.3 L450.5,338.1 L452.4,338.9 L454.3,339.6 L456.2,340.4 L458.0,341.1 L459.9,341.8 L461.8,342.5 L463.7,343.1 L465.6,343.8 L467.5,344.4 L469.4,345.0 L471.3,345.6 L473.2,346.2 L475.1,346.7 L477.0,347.2 L478.9,347.7 L480.8,348.2 L482.7,348.7 L484.6,349.1 L486.6,349.5 L488.5,349.9 L490.4,350.3 L492.3,350.6 L494.3,350.9 L496.2,351.2 L498.1,351.5 L500.1,351.7 L502.0,351.9 L504.0,352.1 L505.9,352.3 L507.9,352.4 L509.8,352.5 L511.8,352.6 L513.7,352.6 L515.7,352.6 L517.7,352.6 L519.6,352.5 L521.6,352.5 L523.6,352.3 L525.5,352.2 L527.5,352.0 L529.5,351.8 L531.5,351.5 L533.5,351.3 L535.5,350.9 L537.5,350.6 L539.5,350.2 L541.5,349.9 L543.5,349.6 L545.6,349.2 L547.7,349.0 L549.8,348.8 L551.9,348.7 L554.0,348.6 L556.2,348.7 L558.4,348.8 L560.5,348.9 L562.7,349.0 L564.7,349.0 L566.8,348.9 L568.7,348.7 L570.5,348.4 L572.2,347.8 L573.8,347.1 L575.3,346.1 L576.8,345.1 L578.1,343.8 L579.3,342.5 L580.5,341.0 L581.6,339.4 L582.7,337.8 L583.7,336.1 L584.7,334.4 L585.7,332.6 L586.7,330.8 L587.6,329.0 L588.6,327.2 L589.6,325.5 L590.5,323.7 L591.5,321.9 L592.4,320.1 L593.3,318.3 L594.3,316.5 L595.2,314.7 L596.1,312.9 L597.0,311.1 L598.0,309.3 L598.9,307.6 L599.8,305.8 L600.7,304.0 L601.6,302.2 L602.5,300.4 L603.3,298.6 L604.2,296.8 L605.1,295.0 L606.0,293.2 L606.8,291.4 L607.7,289.5 L608.6,287.7 L609.4,285.9 L610.3,284.1 L611.1,282.3 L612.0,280.5 L612.8,278.7 L613.6,276.9 L614.5,275.1 L615.3,273.2 L616.1,271.4 L616.9,269.6 L617.8,267.8 L618.6,266.0 L619.4,264.1 L620.2,262.3 L621.0,260.5 L621.8,258.7 L622.6,256.8 L623.4,255.0 L624.1,253.2 L624.9,251.3 L625.7,249.5 L626.5,247.7 L627.2,245.8 L628.0,244.0 L628.8,242.2 L629.5,240.3 L630.3,238.5 L631.0,236.6 L631.8,234.8 L632.5,233.0 L633.2,231.1 L634.0,229.3 L634.7,227.4 L635.4,225.6 L636.2,223.7 L636.9,221.8 L637.6,220.0 L638.3,218.1 L639.0,216.3 L639.7,214.4 L640.4,212.6 L641.1,210.7 L641.8,208.8 L642.5,207.0 L643.2,205.1 L643.9,203.2 L644.6,201.3 L645.3,199.5 L645.9,197.6 L646.6,195.7 L647.3,193.8 L648.0,192.0 L648.6,190.1 L649.3,188.2 L649.9,186.3 L650.6,184.4 L651.3,182.5 L651.9,180.7 L652.5,178.8 L653.2,176.9 L653.8,175.0 L654.5,173.1 L655.1,171.2 L655.7,169.3 L656.4,167.4 L657.0,165.5 L657.6,163.6 L658.3,161.7 L658.9,159.8 L659.5,157.9 L660.1,156.0 L660.7,154.1 L661.3,152.2 L662.0,150.3 L662.6,148.4 L663.2,146.5 L663.8,144.6 L664.4,142.7 L665.0,140.8 L665.6,138.9 L666.2,137.0 L666.8,135.1 L667.4,133.1 L667.9,131.2 L668.5,129.3 L669.1,127.4 L669.7,125.5 L670.3,123.6 L670.9,121.7 L671.4,119.8 L672.0,117.8 L672.6,115.9 L673.2,114.0 L673.7,112.1 L674.3,110.2 L674.9,108.3 L675.4,106.3 L676.0,104.4 L676.6,102.5 L677.1,100.6 L677.7,98.7 L678.3,96.8 L678.8,94.9 L679.4,92.9 L679.9,91.0 L680.5,89.1 L681.0,87.2 L681.6,85.3 L682.1,83.4 L682.7,81.4 L683.2,79.5 L683.8,77.6 L684.3,75.7 L684.9,73.8 L685.4,71.9 L686.0,69.9 L686.5,68.0 L687.1,66.1 L687.6,64.2 L688.1,62.3 L688.7,60.4" stroke="#36e8ea" stroke-width="3.0"/>
<path d="M231.7,779.9 L231.9,777.9 L232.0,776.0 L232.2,774.0 L232.3,772.0 L232.5,770.1 L232.6,768.1 L232.8,766.1 L232.9,764.1 L233.0,762.2 L233.2,760.2 L233.3,758.2 L233.4,756.2 L233.6,754.2 L233.7,752.3 L233.8,750.3 L234.0,748.3 L234.1,746.3 L234.2,744.3 L234.3,742.3 L234.5,740.3 L234.6,738.4 L234.7,736.4 L234.8,734.4 L234.9,732.4 L235.0,730.4 L235.2,728.4 L235.3,726.4 L235.4,724.4 L235.5,722.4 L235.6,720.4 L235.7,718.4 L235.8,716.4 L235.9,714.4 L236.0,712.4 L236.2,710.4 L236.3,708.4 L236.4,706.4 L236.5,704.4 L236.6,702.4 L236.7,700.4 L236.8,698.4 L236.9,696.4 L237.0,694.4 L237.1,692.4 L237.2,690.4 L237.3,688.4 L237.4,686.4 L237.6,684.4 L237.7,682.4 L237.8,680.4 L237.9,678.4 L238.0,676.4 L238.1,674.4 L238.2,672.4 L238.3,670.4 L238.4,668.4 L238.6,666.4 L238.7,664.4 L238.8,662.4 L238.9,660.4 L239.0,658.4 L239.1,656.4 L239.3,654.4 L239.4,652.4 L239.5,650.4 L239.6,648.4 L239.8,646.4 L239.9,644.4 L240.0,642.4 L240.2,640.3 L240.3,638.3 L240.4,636.3 L240.6,634.3 L240.7,632.3 L240.9,630.3 L241.0,628.3 L241.1,626.3 L241.3,624.3 L241.4,622.3 L241.6,620.3 L241.8,618.3 L241.9,616.3 L242.1,614.3 L242.2,612.3 L242.4,610.3 L242.6,608.3 L242.8,606.3 L242.9,604.3 L243.1,602.3 L243.3,600.3 L243.5,598.3 L243.7,596.3 L243.8,594.3 L244.0,592.3 L244.2,590.3 L244.4,588.3 L244.6,586.4 L244.9,584.4 L245.1,582.4 L245.3,580.4 L245.5,578.4 L245.7,576.4 L245.9,574.4 L246.2,572.4 L246.4,570.4 L246.6,568.4 L246.9,566.5 L247.1,564.5 L247.4,562.5 L247.6,560.5 L247.9,558.5 L248.2,556.5 L248.4,554.6 L248.7,552.6 L249.0,550.6 L249.3,548.6 L249.5,546.7 L249.8,544.7 L250.1,542.7 L250.4,540.7 L250.7,538.8 L251.1,536.8 L251.4,534.8 L251.7,532.8 L252.0,530.9 L252.3,528.9 L252.7,526.9 L253.0,525.0 L253.4,523.0 L253.7,521.1 L254.1,519.1 L254.4,517.1 L254.8,515.2 L255.2,513.2 L255.6,511.3 L256.0,509.3 L256.4,507.4 L256.8,505.4 L257.2,503.5 L257.6,501.5 L258.0,499.6 L258.4,497.6 L258.8,495.7 L259.3,493.7 L259.7,491.8 L260.2,489.9 L260.6,487.9 L261.1,486.0 L261.6,484.0 L262.0,482.1 L262.5,480.2 L263.0,478.3 L263.5,476.3 L264.0,474.4 L264.5,472.5 L265.0,470.6 L265.6,468.6 L266.1,466.7 L266.6,464.8 L267.2,462.9 L267.7,461.0 L268.3,459.1 L268.9,457.1 L269.4,455.2 L270.0,453.3 L270.6,451.4 L271.2,449.5 L271.8,447.6 L272.5,445.7 L273.1,443.8 L273.7,441.9 L274.3,440.1 L275.0,438.2 L275.7,436.3 L276.3,434.4 L277.0,432.5 L277.7,430.6 L278.4,428.7 L279.1,426.9 L279.8,425.0 L280.5,423.1 L281.2,421.2 L282.0,419.4 L282.7,417.5 L283.4,415.7 L284.2,413.8 L285.0,411.9 L285.8,410.1 L286.5,408.2 L287.3,406.4 L288.2,404.5 L289.0,402.7 L289.8,400.8 L290.6,399.0 L291.5,397.2 L292.3,395.3 L293.2,393.5 L294.1,391.7 L295.0,389.9 L295.9,388.1 L296.8,386.3 L297.8,384.5 L298.7,382.8 L299.7,381.0 L300.6,379.2 L301.6,377.5 L302.6,375.7 L303.7,374.0 L304.7,372.3 L305.7,370.6 L306.8,368.9 L307.9,367.2 L309.0,365.5 L310.1,363.9 L311.2,362.2 L312.4,360.6 L313.5,359.0 L314.7,357.4 L315.9,355.8 L317.1,354.2 L318.3,352.7 L319.6,351.1 L320.9,349.6 L322.1,348.1 L323.5,346.6 L324.8,345.2 L326.1,343.7 L327.5,342.3 L328.9,340.9 L330.3,339.5 L331.7,338.1 L333.2,336.8 L334.6,335.4 L336.1,334.1 L337.6,332.8 L339.1,331.6 L340.7,330.3 L342.3,329.1 L343.8,327.9 L345.4,326.8 L347.1,325.6 L348.7,324.5 L350.4,323.4 L352.0,322.4 L353.7,321.3 L355.4,320.3 L357.2,319.4 L358.9,318.4 L360.7,317.5 L362.5,316.6 L364.3,315.7 L366.1,314.9 L367.9,314.1 L369.8,313.4 L371.6,312.6 L373.5,311.9 L375.4,311.3 L377.4,310.7 L379.3,310.1 L381.2,309.5 L383.2,309.0 L385.2,308.5 L387.1,308.1 L389.1,307.6 L391.1,307.3 L393.1,306.9 L395.1,306.7 L397.1,306.4 L399.1,306.2 L401.1,306.0 L403.1,305.9 L405.2,305.8 L407.2,305.8 L409.2,305.8 L411.2,305.8 L413.2,305.9 L415.2,306.0 L417.1,306.2 L419.1,306.4 L421.1,306.7 L423.0,307.0 L425.0,307.4 L426.9,307.8 L428.8,308.3 L430.8,308.8 L432.6,309.4 L434.5,310.0 L436.4,310.7 L438.2,311.4 L440.0,312.1 L441.8,313.0 L443.6,313.8 L445.4,314.7 L447.1,315.7 L448.9,316.7 L450.6,317.7 L452.3,318.7 L454.0,319.7 L455.7,320.8 L457.4,321.9 L459.1,322.9 L460.8,324.0 L462.5,325.1 L464.2,326.1 L465.9,327.1 L467.6,328.2 L469.3,329.2 L471.0,330.1 L472.8,331.0 L474.5,331.9 L476.3,332.8 L478.0,333.6 L479.8,334.4 L481.6,335.1 L483.4,335.7 L485.3,336.3 L487.1,336.8 L489.0,337.3 L490.9,337.8 L492.8,338.2 L494.7,338.6 L496.6,338.9 L498.6,339.2 L500.5,339.5 L502.5,339.7 L504.5,339.9 L506.5,340.1 L508.5,340.3 L510.5,340.5 L512.5,340.6 L514.5,340.8 L516.6,340.9 L518.6,341.0 L520.7,341.2 L522.8,341.3 L524.8,341.4 L526.9,341.6 L529.0,341.7 L531.1,341.9 L533.2,342.0 L535.3,342.1 L537.4,342.3 L539.5,342.4 L541.5,342.5 L543.6,342.6 L545.7,342.6 L547.8,342.7 L549.8,342.7 L551.9,342.7 L553.9,342.6 L555.9,342.5 L557.9,342.4 L559.9,342.2 L561.9,342.0 L563.8,341.7 L565.8,341.4 L567.7,341.0 L569.6,340.6 L571.4,340.1 L573.3,339.6 L575.1,338.9 L576.9,338.2 L578.6,337.5 L580.3,336.6 L582.0,335.7 L583.7,334.7 L585.3,333.6 L586.9,332.5 L588.4,331.3 L590.0,330.1 L591.5,328.8 L593.0,327.4 L594.4,326.1 L595.8,324.7 L597.2,323.2 L598.6,321.7 L600.0,320.3 L601.3,318.8 L602.6,317.2 L603.9,315.7 L605.2,314.2 L606.4,312.6 L607.6,311.0 L608.8,309.4 L610.0,307.8 L611.2,306.2 L612.3,304.6 L613.5,303.0 L614.6,301.3 L615.7,299.7 L616.8,298.0 L617.8,296.3 L618.9,294.6 L619.9,293.0 L620.9,291.2 L621.9,289.5 L622.9,287.8 L623.8,286.1 L624.8,284.3 L625.7,282.6 L626.6,280.8 L627.6,279.0 L628.5,277.2 L629.3,275.5 L630.2,273.7 L631.1,271.9 L631.9,270.0 L632.7,268.2 L633.6,266.4 L634.4,264.6 L635.2,262.7 L636.0,260.9 L636.8,259.1 L637.5,257.2 L638.3,255.3 L639.1,253.5 L639.8,251.6 L640.5,249.7 L641.3,247.9 L642.0,246.0 L642.7,244.1 L643.4,242.2 L644.1,240.3 L644.8,238.4 L645.5,236.5 L646.2,234.7 L646.9,232.8 L647.6,230.9 L648.3,228.9 L648.9,227.0 L649.6,225.1 L650.3,223.2 L650.9,221.3 L651.6,219.4 L652.3,217.5 L652.9,215.6 L653.6,213.7 L654.2,211.8 L654.9,209.9 L655.6,208.0 L656.2,206.1 L656.9,204.2 L657.5,202.3 L658.2,200.4 L658.8,198.5 L659.5,196.6 L660.2,194.7 L660.8,192.8 L661.5,190.9 L662.2,189.0 L662.8,187.1 L663.5,185.3 L664.1,183.4 L664.8,181.5 L665.5,179.6 L666.1,177.7 L666.8,175.8 L667.4,174.0 L668.1,172.1 L668.8,170.2 L669.4,168.3 L670.1,166.4 L670.7,164.6 L671.4,162.7 L672.0,160.8 L672.7,158.9 L673.4,157.0 L674.0,155.2 L674.7,153.3 L675.3,151.4 L675.9,149.5 L676.6,147.7 L677.2,145.8 L677.9,143.9 L678.5,142.0 L679.1,140.1 L679.8,138.3 L680.4,136.4 L681.0,134.5 L681.7,132.6 L682.3,130.7 L682.9,128.8 L683.5,126.9 L684.1,125.1 L684.8,123.2 L685.4,121.3 L686.0,119.4 L686.6,117.5 L687.2,115.6 L687.8,113.7 L688.4,111.8 L689.0,109.9 L689.5,108.0 L690.1,106.1 L690.7,104.2 L691.3,102.3 L691.9,100.4 L692.4,98.5 L693.0,96.6 L693.5,94.7 L694.1,92.7 L694.6,90.8 L695.2,88.9 L695.7,87.0 L696.3,85.0 L696.8,83.1 L697.3,81.2 L697.9,79.3 L698.4,77.3 L698.9,75.4 L699.4,73.4 L699.9,71.5 L700.4,69.5 L700.9,67.6 L701.4,65.6 L701.8,63.7 L702.3,61.7 L702.8,59.7 L703.2,57.8 L703.7,55.8 L704.1,53.8 L704.6,51.8 L705.0,49.9 L705.4,47.9 L705.9,45.9 L706.3,43.9" stroke="#f08e40" stroke-width="3.0"/>
<path d="M238.6,779.7 L238.8,777.8 L239.1,775.9 L239.3,773.9 L239.5,772.0 L239.8,770.1 L240.0,768.2 L240.2,766.2 L240.4,764.3 L240.7,762.4 L240.9,760.4 L241.1,758.5 L241.3,756.6 L241.5,754.6 L241.7,752.7 L241.9,750.7 L242.1,748.8 L242.3,746.8 L242.5,744.9 L242.6,742.9 L242.8,741.0 L243.0,739.0 L243.2,737.0 L243.4,735.1 L243.5,733.1 L243.7,731.1 L243.9,729.2 L244.0,727.2 L244.2,725.2 L244.4,723.2 L244.5,721.3 L244.7,719.3 L244.8,717.3 L245.0,715.3 L245.1,713.3 L245.3,711.4 L245.4,709.4 L245.6,707.4 L245.7,705.4 L245.9,703.4 L246.0,701.4 L246.1,699.4 L246.3,697.4 L246.4,695.4 L246.6,693.4 L246.7,691.4 L246.8,689.4 L247.0,687.4 L247.1,685.4 L247.2,683.4 L247.4,681.4 L247.5,679.4 L247.6,677.4 L247.8,675.4 L247.9,673.3 L248.0,671.3 L248.1,669.3 L248.3,667.3 L248.4,665.3 L248.5,663.3 L248.7,661.3 L248.8,659.3 L248.9,657.2 L249.1,655.2 L249.2,653.2 L249.3,651.2 L249.5,649.2 L249.6,647.1 L249.7,645.1 L249.9,643.1 L250.0,641.1 L250.2,639.1 L250.3,637.0 L250.4,635.0 L250.6,633.0 L250.7,631.0 L250.9,629.0 L251.0,626.9 L251.2,624.9 L251.3,622.9 L251.5,620.9 L251.6,618.8 L251.8,616.8 L251.9,614.8 L252.1,612.8 L252.3,610.8 L252.4,608.7 L252.6,606.7 L252.8,604.7 L252.9,602.7 L253.1,600.7 L253.3,598.6 L253.5,596.6 L253.7,594.6 L253.8,592.6 L254.0,590.6 L254.2,588.5 L254.4,586.5 L254.6,584.5 L254.8,582.5 L255.0,580.5 L255.2,578.5 L255.4,576.5 L255.7,574.4 L255.9,572.4 L256.1,570.4 L256.3,568.4 L256.6,566.4 L256.8,564.4 L257.0,562.4 L257.3,560.4 L257.5,558.4 L257.8,556.4 L258.0,554.4 L258.3,552.4 L258.5,550.4 L258.8,548.4 L259.1,546.4 L259.4,544.4 L259.6,542.4 L259.9,540.4 L260.2,538.4 L260.5,536.4 L260.8,534.4 L261.1,532.4 L261.4,530.4 L261.8,528.5 L262.1,526.5 L262.4,524.5 L262.7,522.5 L263.1,520.5 L263.4,518.6 L263.8,516.6 L264.1,514.6 L264.5,512.7 L264.9,510.7 L265.2,508.7 L265.6,506.8 L266.0,504.8 L266.4,502.8 L266.8,500.9 L267.2,498.9 L267.6,497.0 L268.0,495.0 L268.5,493.1 L268.9,491.1 L269.3,489.2 L269.8,487.3 L270.3,485.3 L270.7,483.4 L271.2,481.5 L271.7,479.5 L272.1,477.6 L272.6,475.7 L273.1,473.7 L273.6,471.8 L274.1,469.9 L274.7,468.0 L275.2,466.1 L275.7,464.2 L276.3,462.3 L276.8,460.4 L277.4,458.5 L278.0,456.6 L278.5,454.7 L279.1,452.8 L279.7,450.9 L280.3,449.0 L280.9,447.1 L281.5,445.2 L282.2,443.4 L282.8,441.5 L283.4,439.6 L284.1,437.8 L284.8,435.9 L285.4,434.0 L286.1,432.2 L286.8,430.3 L287.5,428.5 L288.2,426.6 L288.9,424.8 L289.7,423.0 L290.4,421.1 L291.2,419.3 L291.9,417.5 L292.7,415.7 L293.5,413.8 L294.2,412.0 L295.0,410.2 L295.8,408.4 L296.7,406.6 L297.5,404.8 L298.3,403.0 L299.2,401.2 L300.0,399.4 L300.9,397.6 L301.8,395.9 L302.7,394.1 L303.6,392.3 L304.5,390.6 L305.4,388.8 L306.4,387.1 L307.3,385.3 L308.3,383.6 L309.3,381.8 L310.3,380.1 L311.3,378.4 L312.3,376.7 L313.4,375.0 L314.4,373.3 L315.5,371.7 L316.6,370.0 L317.7,368.3 L318.8,366.7 L320.0,365.1 L321.2,363.4 L322.3,361.8 L323.5,360.2 L324.8,358.7 L326.0,357.1 L327.3,355.5 L328.6,354.0 L329.9,352.5 L331.2,351.0 L332.6,349.5 L334.0,348.0 L335.4,346.5 L336.8,345.1 L338.2,343.7 L339.7,342.2 L341.2,340.9 L342.7,339.5 L344.3,338.1 L345.8,336.8 L347.4,335.5 L349.0,334.2 L350.6,333.0 L352.3,331.8 L353.9,330.6 L355.6,329.4 L357.3,328.2 L359.0,327.1 L360.7,326.0 L362.4,325.0 L364.2,324.0 L366.0,323.0 L367.7,322.0 L369.5,321.1 L371.4,320.3 L373.2,319.4 L375.0,318.6 L376.8,317.9 L378.7,317.1 L380.6,316.5 L382.4,315.8 L384.3,315.2 L386.2,314.7 L388.1,314.2 L390.0,313.7 L391.9,313.3 L393.8,313.0 L395.7,312.7 L397.7,312.4 L399.6,312.2 L401.5,312.0 L403.5,311.9 L405.4,311.9 L407.4,311.9 L409.3,311.9 L411.2,312.0 L413.2,312.1 L415.2,312.3 L417.1,312.5 L419.1,312.7 L421.0,313.0 L423.0,313.3 L424.9,313.6 L426.9,314.0 L428.8,314.4 L430.8,314.8 L432.7,315.3 L434.7,315.8 L436.6,316.3 L438.6,316.9 L440.5,317.4 L442.4,318.0 L444.4,318.6 L446.3,319.2 L448.2,319.9 L450.1,320.5 L452.0,321.2 L454.0,321.8 L455.9,322.5 L457.7,323.2 L459.6,323.9 L461.5,324.6 L463.4,325.4 L465.3,326.1 L467.1,326.8 L469.0,327.5 L470.9,328.2 L472.7,329.0 L474.6,329.7 L476.4,330.4 L478.3,331.1 L480.1,331.8 L482.0,332.5 L483.8,333.2 L485.7,333.9 L487.5,334.6 L489.4,335.3 L491.3,335.9 L493.1,336.6 L495.0,337.2 L496.9,337.8 L498.8,338.4 L500.7,339.0 L502.6,339.5 L504.5,340.1 L506.4,340.6 L508.4,341.1 L510.3,341.6 L512.2,342.0 L514.2,342.5 L516.2,342.9 L518.1,343.2 L520.1,343.6 L522.1,343.9 L524.1,344.3 L526.1,344.6 L528.1,344.8 L530.1,345.1 L532.1,345.3 L534.1,345.5 L536.1,345.7 L538.2,345.8 L540.2,346.0 L542.2,346.1 L544.2,346.2 L546.3,346.3 L548.3,346.3 L550.3,346.3 L552.3,346.3 L554.3,346.2 L556.3,346.2 L558.3,346.0 L560.3,345.9 L562.3,345.7 L564.3,345.5 L566.3,345.2 L568.2,344.9 L570.2,344.5 L572.1,344.1 L574.0,343.6 L575.9,343.1 L577.8,342.5 L579.7,341.9 L581.5,341.2 L583.3,340.4 L585.1,339.6 L586.9,338.8 L588.7,337.9 L590.4,336.9 L592.1,335.9 L593.8,334.8 L595.4,333.7 L597.1,332.6 L598.6,331.4 L600.2,330.1 L601.7,328.8 L603.2,327.5 L604.6,326.1 L606.0,324.8 L607.4,323.3 L608.7,321.9 L610.0,320.4 L611.3,318.8 L612.5,317.3 L613.7,315.7 L614.8,314.1 L615.9,312.4 L617.0,310.8 L618.0,309.1 L619.0,307.4 L620.0,305.7 L621.0,303.9 L622.0,302.2 L622.9,300.4 L623.8,298.6 L624.7,296.8 L625.5,295.0 L626.4,293.1 L627.2,291.3 L628.0,289.5 L628.9,287.6 L629.7,285.7 L630.5,283.9 L631.2,282.0 L632.0,280.2 L632.8,278.3 L633.6,276.4 L634.4,274.6 L635.1,272.7 L635.9,270.8 L636.7,269.0 L637.5,267.1 L638.2,265.3 L639.0,263.4 L639.8,261.6 L640.6,259.7 L641.3,257.9 L642.1,256.0 L642.9,254.2 L643.6,252.3 L644.4,250.5 L645.2,248.6 L645.9,246.8 L646.7,245.0 L647.5,243.1 L648.2,241.3 L649.0,239.4 L649.8,237.6 L650.5,235.8 L651.3,233.9 L652.0,232.1 L652.8,230.2 L653.5,228.4 L654.3,226.5 L655.0,224.7 L655.8,222.9 L656.5,221.0 L657.3,219.2 L658.0,217.3 L658.8,215.5 L659.5,213.6 L660.3,211.8 L661.0,209.9 L661.7,208.1 L662.5,206.2 L663.2,204.4 L663.9,202.5 L664.6,200.7 L665.4,198.8 L666.1,196.9 L666.8,195.1 L667.5,193.2 L668.2,191.4 L668.9,189.5 L669.7,187.6 L670.4,185.8 L671.1,183.9 L671.8,182.0 L672.5,180.2 L673.2,178.3 L673.9,176.4 L674.5,174.5 L675.2,172.7 L675.9,170.8 L676.6,168.9 L677.3,167.0 L677.9,165.2 L678.6,163.3 L679.3,161.4 L680.0,159.5 L680.6,157.6 L681.3,155.8 L681.9,153.9 L682.6,152.0 L683.2,150.1 L683.9,148.2 L684.5,146.3 L685.1,144.4 L685.8,142.5 L686.4,140.6 L687.0,138.7 L687.6,136.8 L688.3,134.9 L688.9,133.0 L689.5,131.1 L690.1,129.2 L690.7,127.3 L691.3,125.4 L691.9,123.5 L692.4,121.6 L693.0,119.7 L693.6,117.8 L694.2,115.9 L694.7,113.9 L695.3,112.0 L695.9,110.1 L696.4,108.2 L697.0,106.3 L697.5,104.3 L698.0,102.4 L698.6,100.5 L699.1,98.6 L699.6,96.6 L700.1,94.7 L700.6,92.8 L701.2,90.8 L701.7,88.9 L702.1,87.0 L702.6,85.0 L703.1,83.1 L703.6,81.2 L704.1,79.2 L704.5,77.3 L705.0,75.3 L705.5,73.4 L705.9,71.4 L706.4,69.5 L706.8,67.5 L707.2,65.6 L707.6,63.6 L708.1,61.6 L708.5,59.7 L708.9,57.7 L709.3,55.8 L709.7,53.8 L710.1,51.8 L710.5,49.9" stroke="#8a24e4" stroke-width="3.0"/>
<path d="M258.0,779.6 L258.2,777.7 L258.4,775.8 L258.5,773.9 L258.7,772.0 L258.9,770.1 L259.1,768.2 L259.3,766.3 L259.4,764.4 L259.6,762.5 L259.7,760.5 L259.9,758.6 L260.1,756.7 L260.2,754.8 L260.3,752.8 L260.5,750.9 L260.6,748.9 L260.8,747.0 L260.9,745.1 L261.0,743.1 L261.2,741.2 L261.3,739.2 L261.4,737.3 L261.5,735.3 L261.6,733.3 L261.8,731.4 L261.9,729.4 L262.0,727.5 L262.1,725.5 L262.2,723.5 L262.3,721.5 L262.4,719.6 L262.5,717.6 L262.6,715.6 L262.7,713.6 L262.8,711.6 L262.9,709.7 L263.0,707.7 L263.1,705.7 L263.2,703.7 L263.2,701.7 L263.3,699.7 L263.4,697.7 L263.5,695.7 L263.6,693.7 L263.7,691.7 L263.7,689.7 L263.8,687.7 L263.9,685.7 L264.0,683.7 L264.1,681.7 L264.2,679.7 L264.2,677.7 L264.3,675.6 L264.4,673.6 L264.5,671.6 L264.6,669.6 L264.6,667.6 L264.7,665.6 L264.8,663.5 L264.9,661.5 L265.0,659.5 L265.0,657.5 L265.1,655.5 L265.2,653.4 L265.3,651.4 L265.4,649.4 L265.5,647.4 L265.5,645.3 L265.6,643.3 L265.7,641.3 L265.8,639.3 L265.9,637.2 L266.0,635.2 L266.1,633.2 L266.2,631.1 L266.3,629.1 L266.4,627.1 L266.5,625.0 L266.6,623.0 L266.7,621.0 L266.8,619.0 L266.9,616.9 L267.0,614.9 L267.2,612.9 L267.3,610.8 L267.4,608.8 L267.5,606.8 L267.7,604.7 L267.8,602.7 L267.9,600.7 L268.0,598.7 L268.2,596.6 L268.3,594.6 L268.5,592.6 L268.6,590.5 L268.8,588.5 L268.9,586.5 L269.1,584.5 L269.3,582.4 L269.4,580.4 L269.6,578.4 L269.8,576.4 L269.9,574.3 L270.1,572.3 L270.3,570.3 L270.5,568.3 L270.7,566.3 L270.9,564.3 L271.1,562.2 L271.3,560.2 L271.5,558.2 L271.7,556.2 L272.0,554.2 L272.2,552.2 L272.4,550.2 L272.7,548.2 L272.9,546.2 L273.1,544.2 L273.4,542.2 L273.7,540.2 L273.9,538.2 L274.2,536.2 L274.5,534.2 L274.8,532.2 L275.0,530.2 L275.3,528.2 L275.6,526.2 L275.9,524.2 L276.2,522.2 L276.6,520.2 L276.9,518.3 L277.2,516.3 L277.6,514.3 L277.9,512.3 L278.3,510.4 L278.6,508.4 L279.0,506.4 L279.3,504.5 L279.7,502.5 L280.1,500.5 L280.5,498.6 L280.9,496.6 L281.3,494.7 L281.7,492.7 L282.1,490.8 L282.6,488.8 L283.0,486.9 L283.4,485.0 L283.9,483.0 L284.4,481.1 L284.8,479.2 L285.3,477.2 L285.8,475.3 L286.3,473.4 L286.8,471.5 L287.3,469.5 L287.8,467.6 L288.3,465.7 L288.9,463.8 L289.4,461.9 L290.0,460.0 L290.5,458.1 L291.1,456.2 L291.7,454.3 L292.3,452.5 L292.9,450.6 L293.5,448.7 L294.1,446.8 L294.7,445.0 L295.3,443.1 L296.0,441.2 L296.6,439.4 L297.3,437.5 L298.0,435.7 L298.7,433.8 L299.4,432.0 L300.1,430.1 L300.8,428.3 L301.5,426.5 L302.2,424.6 L303.0,422.8 L303.7,421.0 L304.5,419.2 L305.3,417.4 L306.1,415.6 L306.9,413.8 L307.7,412.0 L308.5,410.2 L309.3,408.4 L310.2,406.6 L311.0,404.8 L311.9,403.0 L312.8,401.3 L313.7,399.5 L314.6,397.7 L315.5,396.0 L316.4,394.2 L317.3,392.5 L318.3,390.7 L319.2,389.0 L320.2,387.3 L321.2,385.6 L322.2,383.8 L323.2,382.1 L324.2,380.4 L325.3,378.7 L326.3,377.0 L327.4,375.3 L328.4,373.6 L329.5,371.9 L330.6,370.3 L331.7,368.6 L332.9,366.9 L334.0,365.2 L335.1,363.6 L336.3,361.9 L337.5,360.3 L338.7,358.7 L339.9,357.0 L341.1,355.4 L342.3,353.8 L343.6,352.2 L344.9,350.6 L346.1,349.0 L347.4,347.5 L348.7,345.9 L350.1,344.4 L351.4,342.9 L352.8,341.4 L354.1,339.9 L355.5,338.4 L356.9,337.0 L358.4,335.6 L359.8,334.2 L361.3,332.8 L362.8,331.5 L364.3,330.2 L365.8,328.9 L367.3,327.6 L368.9,326.4 L370.5,325.2 L372.1,324.0 L373.7,322.9 L375.3,321.8 L377.0,320.7 L378.7,319.7 L380.4,318.7 L382.1,317.8 L383.9,316.9 L385.6,316.0 L387.4,315.1 L389.2,314.3 L391.0,313.6 L392.9,312.9 L394.7,312.2 L396.6,311.5 L398.5,311.0 L400.4,310.4 L402.3,309.9 L404.3,309.4 L406.2,309.0 L408.1,308.6 L410.1,308.2 L412.1,307.9 L414.0,307.6 L416.0,307.4 L418.0,307.2 L420.0,307.0 L422.0,306.9 L424.0,306.8 L426.0,306.8 L428.0,306.8 L430.0,306.9 L432.0,307.0 L434.0,307.1 L436.0,307.3 L437.9,307.5 L439.9,307.7 L441.9,308.0 L443.9,308.3 L445.9,308.6 L447.9,309.0 L449.8,309.4 L451.8,309.8 L453.7,310.3 L455.7,310.8 L457.6,311.3 L459.6,311.8 L461.5,312.3 L463.4,312.9 L465.3,313.5 L467.2,314.1 L469.1,314.7 L470.9,315.3 L472.8,316.0 L474.7,316.6 L476.5,317.3 L478.4,318.0 L480.2,318.7 L482.1,319.4 L483.9,320.1 L485.7,320.9 L487.6,321.6 L489.4,322.3 L491.2,323.1 L493.1,323.8 L494.9,324.6 L496.8,325.3 L498.6,326.1 L500.4,326.8 L502.3,327.6 L504.1,328.3 L506.0,329.1 L507.9,329.8 L509.7,330.5 L511.6,331.2 L513.5,332.0 L515.4,332.7 L517.3,333.3 L519.2,334.0 L521.1,334.7 L523.0,335.3 L525.0,336.0 L526.9,336.6 L528.9,337.2 L530.9,337.8 L532.8,338.3 L534.8,338.9 L536.8,339.4 L538.8,339.9 L540.8,340.4 L542.8,340.8 L544.9,341.2 L546.9,341.6 L548.9,342.0 L550.9,342.3 L553.0,342.6 L555.0,342.9 L557.1,343.1 L559.1,343.4 L561.2,343.5 L563.2,343.7 L565.2,343.8 L567.3,343.8 L569.3,343.8 L571.4,343.8 L573.4,343.7 L575.4,343.6 L577.4,343.5 L579.4,343.3 L581.4,343.0 L583.3,342.7 L585.3,342.4 L587.2,342.0 L589.1,341.5 L591.0,341.0 L592.8,340.4 L594.6,339.8 L596.4,339.1 L598.2,338.4 L599.9,337.5 L601.6,336.7 L603.3,335.7 L604.9,334.8 L606.5,333.7 L608.1,332.6 L609.6,331.5 L611.2,330.3 L612.6,329.0 L614.1,327.7 L615.5,326.4 L616.9,325.1 L618.3,323.7 L619.7,322.2 L621.0,320.7 L622.3,319.3 L623.6,317.7 L624.9,316.2 L626.1,314.6 L627.3,313.0 L628.5,311.4 L629.7,309.8 L630.9,308.2 L632.0,306.5 L633.2,304.9 L634.3,303.2 L635.4,301.5 L636.5,299.8 L637.5,298.1 L638.6,296.4 L639.6,294.7 L640.6,293.0 L641.7,291.3 L642.6,289.6 L643.6,287.8 L644.6,286.1 L645.5,284.3 L646.5,282.6 L647.4,280.8 L648.3,279.0 L649.2,277.3 L650.1,275.5 L651.0,273.7 L651.8,271.9 L652.7,270.1 L653.5,268.3 L654.4,266.5 L655.2,264.6 L656.0,262.8 L656.8,261.0 L657.6,259.1 L658.4,257.3 L659.1,255.4 L659.9,253.6 L660.6,251.7 L661.4,249.9 L662.1,248.0 L662.9,246.2 L663.6,244.3 L664.3,242.4 L665.0,240.5 L665.7,238.6 L666.4,236.8 L667.1,234.9 L667.8,233.0 L668.5,231.1 L669.1,229.2 L669.8,227.3 L670.5,225.4 L671.1,223.5 L671.8,221.6 L672.5,219.7 L673.1,217.8 L673.8,215.9 L674.4,214.0 L675.0,212.1 L675.7,210.2 L676.3,208.3 L677.0,206.4 L677.6,204.4 L678.2,202.5 L678.9,200.6 L679.5,198.7 L680.1,196.8 L680.8,194.9 L681.4,193.0 L682.0,191.1 L682.7,189.2 L683.3,187.3 L683.9,185.4 L684.6,183.5 L685.2,181.6 L685.9,179.7 L686.5,177.8 L687.2,175.9 L687.8,174.0 L688.5,172.1 L689.1,170.2 L689.8,168.3 L690.5,166.5 L691.1,164.6 L691.8,162.7 L692.5,160.8 L693.2,159.0 L693.8,157.1 L694.5,155.2 L695.2,153.4 L695.9,151.5 L696.6,149.6 L697.3,147.8 L698.0,145.9 L698.7,144.1 L699.4,142.2 L700.1,140.4 L700.8,138.5 L701.5,136.6 L702.2,134.8 L702.9,132.9 L703.6,131.1 L704.3,129.2 L705.0,127.4 L705.7,125.5 L706.4,123.7 L707.0,121.8 L707.7,119.9 L708.4,118.1 L709.1,116.2 L709.8,114.4 L710.5,112.5 L711.1,110.6 L711.8,108.8 L712.5,106.9 L713.1,105.0 L713.8,103.2 L714.5,101.3 L715.1,99.4 L715.7,97.5 L716.4,95.7 L717.0,93.8 L717.6,91.9 L718.3,90.0 L718.9,88.1 L719.5,86.2 L720.1,84.3 L720.7,82.4 L721.3,80.5 L721.9,78.6 L722.4,76.6 L723.0,74.7 L723.5,72.8 L724.1,70.9 L724.6,68.9 L725.2,67.0 L725.7,65.0 L726.2,63.1 L726.7,61.1 L727.2,59.2 L727.7,57.2 L728.1,55.2 L728.6,53.2 L729.0,51.2 L729.5,49.2 L729.9,47.2" stroke="#8c8c2c" stroke-width="3.0"/>
<path d="M306.3,780.2 L306.5,778.2 L306.7,776.3 L306.8,774.3 L307.0,772.3 L307.2,770.4 L307.4,768.4 L307.5,766.4 L307.7,764.5 L307.9,762.5 L308.0,760.5 L308.2,758.6 L308.4,756.6 L308.5,754.6 L308.7,752.6 L308.8,750.7 L309.0,748.7 L309.1,746.7 L309.3,744.7 L309.4,742.7 L309.5,740.8 L309.7,738.8 L309.8,736.8 L310.0,734.8 L310.1,732.8 L310.2,730.8 L310.4,728.8 L310.5,726.9 L310.6,724.9 L310.7,722.9 L310.9,720.9 L311.0,718.9 L311.1,716.9 L311.2,714.9 L311.4,712.9 L311.5,710.9 L311.6,708.9 L311.7,706.9 L311.9,704.9 L312.0,702.9 L312.1,700.9 L312.2,698.9 L312.3,696.9 L312.4,694.9 L312.6,692.9 L312.7,690.9 L312.8,688.9 L312.9,686.9 L313.0,684.9 L313.1,682.9 L313.3,680.9 L313.4,678.9 L313.5,676.9 L313.6,674.9 L313.7,672.9 L313.8,670.9 L314.0,668.9 L314.1,666.9 L314.2,664.9 L314.3,662.9 L314.4,660.9 L314.6,658.9 L314.7,656.9 L314.8,654.9 L314.9,652.8 L315.1,650.8 L315.2,648.8 L315.3,646.8 L315.5,644.8 L315.6,642.8 L315.7,640.8 L315.9,638.8 L316.0,636.8 L316.1,634.8 L316.3,632.8 L316.4,630.8 L316.6,628.8 L316.7,626.8 L316.9,624.8 L317.0,622.8 L317.2,620.7 L317.3,618.7 L317.5,616.7 L317.6,614.7 L317.8,612.7 L318.0,610.7 L318.1,608.7 L318.3,606.7 L318.5,604.7 L318.7,602.7 L318.8,600.7 L319.0,598.7 L319.2,596.7 L319.4,594.7 L319.6,592.7 L319.8,590.7 L320.0,588.7 L320.2,586.7 L320.4,584.7 L320.6,582.7 L320.8,580.7 L321.0,578.7 L321.2,576.7 L321.4,574.8 L321.7,572.8 L321.9,570.8 L322.1,568.8 L322.4,566.8 L322.6,564.8 L322.8,562.8 L323.1,560.8 L323.4,558.8 L323.6,556.9 L323.9,554.9 L324.1,552.9 L324.4,550.9 L324.7,548.9 L325.0,546.9 L325.3,545.0 L325.5,543.0 L325.8,541.0 L326.1,539.0 L326.4,537.1 L326.8,535.1 L327.1,533.1 L327.4,531.1 L327.7,529.2 L328.0,527.2 L328.4,525.2 L328.7,523.3 L329.1,521.3 L329.4,519.3 L329.8,517.4 L330.2,515.4 L330.5,513.5 L330.9,511.5 L331.3,509.5 L331.7,507.6 L332.1,505.6 L332.5,503.7 L332.9,501.7 L333.3,499.8 L333.7,497.8 L334.1,495.9 L334.6,493.9 L335.0,492.0 L335.4,490.1 L335.9,488.1 L336.4,486.2 L336.8,484.2 L337.3,482.3 L337.8,480.4 L338.3,478.4 L338.8,476.5 L339.3,474.6 L339.8,472.7 L340.3,470.7 L340.8,468.8 L341.3,466.9 L341.9,465.0 L342.4,463.1 L343.0,461.2 L343.5,459.2 L344.1,457.3 L344.7,455.4 L345.3,453.5 L345.9,451.6 L346.5,449.7 L347.1,447.8 L347.7,445.9 L348.3,444.0 L348.9,442.1 L349.6,440.3 L350.2,438.4 L350.9,436.5 L351.6,434.6 L352.3,432.7 L352.9,430.8 L353.6,429.0 L354.3,427.1 L355.1,425.2 L355.8,423.4 L356.5,421.5 L357.3,419.7 L358.1,417.8 L358.8,416.0 L359.6,414.2 L360.4,412.3 L361.2,410.5 L362.1,408.7 L362.9,406.9 L363.8,405.1 L364.6,403.3 L365.5,401.5 L366.4,399.7 L367.3,397.9 L368.3,396.2 L369.2,394.4 L370.2,392.6 L371.1,390.9 L372.1,389.2 L373.1,387.4 L374.2,385.7 L375.2,384.0 L376.3,382.3 L377.3,380.6 L378.4,378.9 L379.5,377.2 L380.7,375.6 L381.8,373.9 L383.0,372.3 L384.2,370.6 L385.4,369.0 L386.6,367.4 L387.8,365.8 L389.1,364.2 L390.4,362.6 L391.7,361.1 L393.0,359.5 L394.4,358.0 L395.7,356.5 L397.1,355.0 L398.5,353.5 L399.9,352.0 L401.4,350.5 L402.9,349.1 L404.3,347.7 L405.8,346.3 L407.4,344.9 L408.9,343.6 L410.5,342.3 L412.0,341.0 L413.6,339.7 L415.2,338.5 L416.8,337.3 L418.5,336.1 L420.1,335.0 L421.8,333.9 L423.5,332.8 L425.2,331.8 L426.9,330.8 L428.7,329.9 L430.4,329.0 L432.2,328.1 L433.9,327.3 L435.7,326.5 L437.5,325.8 L439.3,325.1 L441.2,324.5 L443.0,323.9 L444.9,323.4 L446.7,322.9 L448.6,322.5 L450.5,322.1 L452.4,321.8 L454.3,321.5 L456.2,321.3 L458.1,321.1 L460.1,321.0 L462.0,321.0 L464.0,320.9 L465.9,321.0 L467.9,321.1 L469.8,321.2 L471.8,321.4 L473.7,321.6 L475.7,321.9 L477.6,322.2 L479.6,322.5 L481.6,322.9 L483.5,323.3 L485.5,323.7 L487.4,324.2 L489.4,324.7 L491.4,325.2 L493.3,325.7 L495.3,326.2 L497.2,326.8 L499.2,327.3 L501.1,327.9 L503.1,328.4 L505.1,329.0 L507.0,329.6 L509.0,330.1 L510.9,330.7 L512.8,331.2 L514.8,331.7 L516.7,332.3 L518.7,332.8 L520.6,333.3 L522.6,333.8 L524.5,334.3 L526.5,334.8 L528.4,335.3 L530.3,335.7 L532.3,336.2 L534.2,336.6 L536.2,337.1 L538.1,337.5 L540.1,337.9 L542.0,338.3 L544.0,338.7 L545.9,339.1 L547.9,339.4 L549.8,339.8 L551.8,340.1 L553.7,340.5 L555.7,340.8 L557.7,341.1 L559.6,341.3 L561.6,341.6 L563.6,341.9 L565.5,342.1 L567.5,342.3 L569.5,342.5 L571.5,342.7 L573.5,342.8 L575.5,343.0 L577.5,343.1 L579.5,343.2 L581.5,343.3 L583.5,343.4 L585.5,343.4 L587.5,343.5 L589.5,343.5 L591.5,343.5 L593.6,343.5 L595.6,343.4 L597.6,343.3 L599.7,343.2 L601.7,343.1 L603.7,343.0 L605.8,342.8 L607.8,342.6 L609.8,342.4 L611.9,342.1 L613.9,341.9 L615.9,341.6 L617.9,341.2 L619.9,340.9 L621.9,340.5 L623.8,340.1 L625.8,339.6 L627.8,339.1 L629.7,338.6 L631.6,338.1 L633.5,337.5 L635.4,336.9 L637.2,336.2 L639.1,335.5 L640.9,334.8 L642.7,334.0 L644.5,333.2 L646.2,332.4 L647.9,331.5 L649.6,330.6 L651.3,329.6 L653.0,328.6 L654.6,327.5 L656.1,326.5 L657.7,325.3 L659.2,324.2 L660.7,322.9 L662.1,321.7 L663.6,320.4 L664.9,319.0 L666.3,317.6 L667.6,316.2 L668.9,314.8 L670.2,313.3 L671.4,311.8 L672.6,310.2 L673.8,308.6 L675.0,307.0 L676.1,305.4 L677.2,303.7 L678.3,302.1 L679.4,300.4 L680.4,298.7 L681.5,297.0 L682.5,295.2 L683.5,293.5 L684.5,291.7 L685.5,290.0 L686.5,288.2 L687.4,286.4 L688.4,284.7 L689.3,282.9 L690.2,281.1 L691.1,279.3 L692.0,277.5 L692.9,275.7 L693.7,273.8 L694.6,272.0 L695.5,270.2 L696.3,268.4 L697.1,266.5 L697.9,264.7 L698.7,262.9 L699.5,261.0 L700.3,259.2 L701.1,257.3 L701.9,255.4 L702.7,253.6 L703.4,251.7 L704.2,249.8 L704.9,248.0 L705.6,246.1 L706.4,244.2 L707.1,242.3 L707.8,240.4 L708.5,238.6 L709.2,236.7 L709.9,234.8 L710.6,232.9 L711.3,231.0 L712.0,229.1 L712.6,227.2 L713.3,225.3 L714.0,223.4 L714.6,221.5 L715.3,219.6 L715.9,217.7 L716.6,215.8 L717.2,213.9 L717.9,212.0 L718.5,210.1 L719.2,208.1 L719.8,206.2 L720.4,204.3 L721.1,202.4 L721.7,200.5 L722.3,198.6 L723.0,196.7 L723.6,194.8 L724.2,192.9 L724.8,191.0 L725.5,189.1 L726.1,187.2 L726.7,185.3 L727.3,183.4 L728.0,181.5 L728.6,179.6 L729.2,177.7 L729.8,175.8 L730.5,173.9 L731.1,172.0 L731.7,170.2 L732.3,168.3 L732.9,166.4 L733.5,164.5 L734.2,162.6 L734.8,160.7 L735.4,158.8 L736.0,156.9 L736.6,155.0 L737.2,153.1 L737.8,151.2 L738.4,149.3 L739.0,147.4 L739.7,145.5 L740.3,143.7 L740.9,141.8 L741.5,139.9 L742.1,138.0 L742.7,136.1 L743.3,134.2 L743.9,132.3 L744.5,130.4 L745.1,128.5 L745.7,126.6 L746.3,124.7 L746.9,122.8 L747.5,120.9 L748.1,119.0 L748.7,117.1 L749.3,115.2 L749.9,113.3 L750.5,111.4 L751.1,109.5 L751.8,107.6 L752.4,105.7 L753.0,103.8 L753.6,101.9 L754.2,100.0 L754.8,98.1 L755.4,96.2 L756.0,94.3 L756.6,92.4 L757.2,90.5 L757.8,88.6 L758.4,86.7 L759.0,84.8 L759.6,82.9 L760.2,80.9 L760.8,79.0 L761.4,77.1 L762.0,75.2 L762.6,73.3 L763.2,71.4 L763.8,69.4 L764.4,67.5 L765.0,65.6 L765.6,63.7 L766.2,61.7 L766.8,59.8 L767.4,57.9 L768.0,56.0" stroke="#1a8a2c" stroke-width="3.0"/>
<path d="M285.7,780.3 L285.9,778.4 L286.1,776.5 L286.3,774.5 L286.5,772.6 L286.7,770.7 L286.8,768.8 L287.0,766.8 L287.2,764.9 L287.4,763.0 L287.5,761.0 L287.7,759.1 L287.9,757.1 L288.0,755.2 L288.2,753.2 L288.3,751.3 L288.5,749.3 L288.6,747.4 L288.8,745.4 L288.9,743.5 L289.1,741.5 L289.2,739.6 L289.3,737.6 L289.5,735.6 L289.6,733.7 L289.7,731.7 L289.9,729.7 L290.0,727.7 L290.1,725.8 L290.2,723.8 L290.4,721.8 L290.5,719.8 L290.6,717.8 L290.7,715.9 L290.9,713.9 L291.0,711.9 L291.1,709.9 L291.2,707.9 L291.3,705.9 L291.4,703.9 L291.5,701.9 L291.7,699.9 L291.8,697.9 L291.9,695.9 L292.0,693.9 L292.1,691.9 L292.2,689.9 L292.3,687.9 L292.4,685.9 L292.5,683.9 L292.6,681.9 L292.7,679.9 L292.9,677.9 L293.0,675.9 L293.1,673.9 L293.2,671.8 L293.3,669.8 L293.4,667.8 L293.5,665.8 L293.6,663.8 L293.7,661.8 L293.9,659.8 L294.0,657.7 L294.1,655.7 L294.2,653.7 L294.3,651.7 L294.4,649.7 L294.6,647.7 L294.7,645.6 L294.8,643.6 L294.9,641.6 L295.0,639.6 L295.2,637.5 L295.3,635.5 L295.4,633.5 L295.6,631.5 L295.7,629.5 L295.8,627.4 L296.0,625.4 L296.1,623.4 L296.2,621.4 L296.4,619.4 L296.5,617.3 L296.7,615.3 L296.8,613.3 L297.0,611.3 L297.1,609.2 L297.3,607.2 L297.5,605.2 L297.6,603.2 L297.8,601.2 L298.0,599.1 L298.1,597.1 L298.3,595.1 L298.5,593.1 L298.7,591.1 L298.9,589.1 L299.0,587.0 L299.2,585.0 L299.4,583.0 L299.6,581.0 L299.8,579.0 L300.0,577.0 L300.3,575.0 L300.5,572.9 L300.7,570.9 L300.9,568.9 L301.1,566.9 L301.4,564.9 L301.6,562.9 L301.8,560.9 L302.1,558.9 L302.3,556.9 L302.6,554.9 L302.8,552.9 L303.1,550.9 L303.4,548.9 L303.7,546.9 L303.9,544.9 L304.2,542.9 L304.5,540.9 L304.8,538.9 L305.1,536.9 L305.4,535.0 L305.7,533.0 L306.0,531.0 L306.3,529.0 L306.7,527.0 L307.0,525.0 L307.3,523.1 L307.7,521.1 L308.0,519.1 L308.4,517.1 L308.7,515.2 L309.1,513.2 L309.5,511.2 L309.8,509.3 L310.2,507.3 L310.6,505.3 L311.0,503.4 L311.4,501.4 L311.8,499.5 L312.2,497.5 L312.7,495.6 L313.1,493.6 L313.5,491.7 L314.0,489.7 L314.4,487.8 L314.9,485.9 L315.4,483.9 L315.8,482.0 L316.3,480.1 L316.8,478.1 L317.3,476.2 L317.8,474.3 L318.3,472.4 L318.8,470.5 L319.4,468.5 L319.9,466.6 L320.4,464.7 L321.0,462.8 L321.5,460.9 L322.1,459.0 L322.7,457.1 L323.3,455.2 L323.8,453.3 L324.4,451.5 L325.1,449.6 L325.7,447.7 L326.3,445.8 L326.9,443.9 L327.6,442.1 L328.2,440.2 L328.9,438.3 L329.6,436.5 L330.2,434.6 L330.9,432.8 L331.6,430.9 L332.3,429.1 L333.0,427.2 L333.8,425.4 L334.5,423.5 L335.2,421.7 L336.0,419.9 L336.8,418.0 L337.5,416.2 L338.3,414.4 L339.1,412.6 L339.9,410.8 L340.7,409.0 L341.5,407.2 L342.4,405.4 L343.2,403.6 L344.1,401.8 L344.9,400.0 L345.8,398.2 L346.7,396.4 L347.6,394.7 L348.5,392.9 L349.4,391.1 L350.4,389.4 L351.3,387.6 L352.3,385.9 L353.3,384.1 L354.3,382.4 L355.3,380.7 L356.3,379.0 L357.3,377.3 L358.4,375.6 L359.5,373.9 L360.5,372.2 L361.6,370.6 L362.8,368.9 L363.9,367.3 L365.1,365.6 L366.3,364.0 L367.5,362.4 L368.7,360.8 L369.9,359.3 L371.2,357.7 L372.5,356.1 L373.8,354.6 L375.1,353.1 L376.5,351.6 L377.8,350.1 L379.2,348.6 L380.7,347.1 L382.1,345.7 L383.6,344.3 L385.1,342.9 L386.6,341.5 L388.1,340.1 L389.7,338.8 L391.2,337.5 L392.8,336.2 L394.4,334.9 L396.1,333.7 L397.7,332.5 L399.4,331.3 L401.0,330.1 L402.7,329.0 L404.5,328.0 L406.2,326.9 L407.9,325.9 L409.7,324.9 L411.5,324.0 L413.2,323.1 L415.0,322.2 L416.8,321.4 L418.7,320.6 L420.5,319.9 L422.3,319.2 L424.2,318.6 L426.1,318.0 L427.9,317.4 L429.8,316.9 L431.7,316.4 L433.6,316.0 L435.5,315.7 L437.4,315.4 L439.4,315.1 L441.3,314.9 L443.2,314.8 L445.2,314.7 L447.1,314.6 L449.1,314.6 L451.0,314.7 L453.0,314.7 L455.0,314.8 L456.9,315.0 L458.9,315.2 L460.9,315.4 L462.9,315.6 L464.8,315.9 L466.8,316.2 L468.8,316.5 L470.8,316.9 L472.8,317.3 L474.7,317.7 L476.7,318.1 L478.7,318.5 L480.7,319.0 L482.7,319.5 L484.6,319.9 L486.6,320.4 L488.6,320.9 L490.6,321.4 L492.5,321.9 L494.5,322.4 L496.4,323.0 L498.4,323.5 L500.3,324.0 L502.3,324.5 L504.2,325.1 L506.2,325.6 L508.1,326.1 L510.1,326.6 L512.0,327.2 L514.0,327.7 L515.9,328.2 L517.8,328.7 L519.8,329.2 L521.7,329.7 L523.6,330.2 L525.6,330.7 L527.5,331.2 L529.4,331.7 L531.3,332.1 L533.3,332.6 L535.2,333.0 L537.1,333.5 L539.1,333.9 L541.0,334.3 L542.9,334.7 L544.9,335.1 L546.8,335.5 L548.7,335.9 L550.7,336.2 L552.6,336.5 L554.6,336.8 L556.5,337.1 L558.5,337.4 L560.4,337.7 L562.4,337.9 L564.3,338.1 L566.3,338.3 L568.2,338.5 L570.2,338.6 L572.2,338.8 L574.1,338.9 L576.1,338.9 L578.1,339.0 L580.0,339.0 L582.0,339.0 L584.0,339.0 L586.0,338.9 L588.0,338.9 L590.0,338.7 L592.0,338.6 L594.0,338.4 L596.0,338.2 L598.1,338.0 L600.1,337.7 L602.1,337.4 L604.1,337.1 L606.1,336.7 L608.1,336.3 L610.1,335.9 L612.1,335.4 L614.1,334.9 L616.1,334.4 L618.0,333.8 L620.0,333.2 L621.9,332.6 L623.8,331.9 L625.7,331.2 L627.6,330.5 L629.5,329.7 L631.3,328.9 L633.1,328.0 L634.9,327.2 L636.7,326.2 L638.4,325.3 L640.2,324.3 L641.8,323.2 L643.5,322.2 L645.1,321.0 L646.7,319.9 L648.3,318.7 L649.8,317.5 L651.3,316.2 L652.8,314.9 L654.2,313.5 L655.6,312.2 L656.9,310.8 L658.3,309.3 L659.6,307.8 L660.8,306.4 L662.1,304.8 L663.3,303.3 L664.5,301.7 L665.7,300.1 L666.8,298.5 L668.0,296.9 L669.1,295.2 L670.2,293.6 L671.2,291.9 L672.3,290.2 L673.3,288.5 L674.3,286.8 L675.3,285.1 L676.3,283.4 L677.3,281.6 L678.3,279.9 L679.2,278.1 L680.1,276.4 L681.1,274.6 L682.0,272.8 L682.8,271.0 L683.7,269.2 L684.6,267.4 L685.5,265.6 L686.3,263.8 L687.1,262.0 L688.0,260.2 L688.8,258.4 L689.6,256.5 L690.4,254.7 L691.2,252.9 L692.0,251.0 L692.7,249.2 L693.5,247.3 L694.3,245.5 L695.0,243.6 L695.8,241.7 L696.5,239.9 L697.2,238.0 L698.0,236.1 L698.7,234.3 L699.4,232.4 L700.1,230.5 L700.9,228.6 L701.6,226.8 L702.3,224.9 L703.0,223.0 L703.7,221.1 L704.4,219.3 L705.1,217.4 L705.8,215.5 L706.5,213.6 L707.2,211.8 L707.8,209.9 L708.5,208.0 L709.2,206.1 L709.9,204.2 L710.5,202.3 L711.2,200.5 L711.9,198.6 L712.5,196.7 L713.2,194.8 L713.9,192.9 L714.5,191.0 L715.2,189.1 L715.8,187.2 L716.5,185.4 L717.1,183.5 L717.8,181.6 L718.4,179.7 L719.0,177.8 L719.7,175.9 L720.3,174.0 L720.9,172.1 L721.5,170.2 L722.2,168.3 L722.8,166.4 L723.4,164.5 L724.0,162.6 L724.6,160.7 L725.2,158.8 L725.8,156.9 L726.4,155.0 L727.0,153.1 L727.6,151.2 L728.2,149.3 L728.8,147.4 L729.4,145.5 L730.0,143.6 L730.6,141.7 L731.1,139.8 L731.7,137.9 L732.3,135.9 L732.8,134.0 L733.4,132.1 L734.0,130.2 L734.5,128.3 L735.1,126.4 L735.7,124.5 L736.2,122.5 L736.8,120.6 L737.3,118.7 L737.9,116.8 L738.4,114.9 L738.9,112.9 L739.5,111.0 L740.0,109.1 L740.5,107.2 L741.1,105.3 L741.6,103.3 L742.1,101.4 L742.6,99.5 L743.2,97.5 L743.7,95.6 L744.2,93.7 L744.7,91.8 L745.2,89.8 L745.7,87.9 L746.2,86.0 L746.7,84.0 L747.2,82.1 L747.7,80.2 L748.2,78.2 L748.7,76.3 L749.2,74.3 L749.7,72.4 L750.1,70.5 L750.6,68.5 L751.1,66.6 L751.6,64.6 L752.0,62.7 L752.5,60.7 L753.0,58.8 L753.4,56.8 L753.9,54.9 L754.4,52.9 L754.8,51.0 L755.3,49.0 L755.7,47.1 L756.2,45.1 L756.6,43.2 L757.1,41.2 L757.5,39.3 L757.9,37.3 L758.4,35.3 L758.8,33.4" stroke="#1c1c84" stroke-width="3.0"/>
<path d="M284.1,779.7 L284.3,777.8 L284.5,775.9 L284.7,773.9 L284.9,772.0 L285.1,770.1 L285.2,768.2 L285.4,766.2 L285.6,764.3 L285.8,762.4 L285.9,760.4 L286.1,758.5 L286.3,756.5 L286.4,754.6 L286.6,752.6 L286.7,750.7 L286.9,748.7 L287.0,746.8 L287.2,744.8 L287.3,742.9 L287.5,740.9 L287.6,738.9 L287.7,737.0 L287.9,735.0 L288.0,733.0 L288.1,731.1 L288.3,729.1 L288.4,727.1 L288.5,725.1 L288.6,723.2 L288.8,721.2 L288.9,719.2 L289.0,717.2 L289.1,715.2 L289.3,713.2 L289.4,711.2 L289.5,709.3 L289.6,707.3 L289.7,705.3 L289.8,703.3 L289.9,701.3 L290.1,699.3 L290.2,697.3 L290.3,695.3 L290.4,693.3 L290.5,691.3 L290.6,689.3 L290.7,687.3 L290.8,685.3 L290.9,683.3 L291.0,681.3 L291.2,679.2 L291.3,677.2 L291.4,675.2 L291.5,673.2 L291.6,671.2 L291.7,669.2 L291.8,667.2 L291.9,665.2 L292.0,663.1 L292.1,661.1 L292.3,659.1 L292.4,657.1 L292.5,655.1 L292.6,653.1 L292.7,651.0 L292.8,649.0 L293.0,647.0 L293.1,645.0 L293.2,643.0 L293.3,640.9 L293.4,638.9 L293.6,636.9 L293.7,634.9 L293.8,632.8 L294.0,630.8 L294.1,628.8 L294.2,626.8 L294.4,624.8 L294.5,622.7 L294.6,620.7 L294.8,618.7 L294.9,616.7 L295.1,614.6 L295.2,612.6 L295.4,610.6 L295.5,608.6 L295.7,606.6 L295.9,604.5 L296.0,602.5 L296.2,600.5 L296.4,598.5 L296.5,596.5 L296.7,594.4 L296.9,592.4 L297.1,590.4 L297.3,588.4 L297.5,586.4 L297.6,584.3 L297.8,582.3 L298.0,580.3 L298.2,578.3 L298.5,576.3 L298.7,574.3 L298.9,572.3 L299.1,570.3 L299.3,568.2 L299.5,566.2 L299.8,564.2 L300.0,562.2 L300.3,560.2 L300.5,558.2 L300.7,556.2 L301.0,554.2 L301.3,552.2 L301.5,550.2 L301.8,548.2 L302.1,546.2 L302.3,544.2 L302.6,542.2 L302.9,540.2 L303.2,538.2 L303.5,536.3 L303.8,534.3 L304.1,532.3 L304.4,530.3 L304.7,528.3 L305.1,526.3 L305.4,524.4 L305.7,522.4 L306.1,520.4 L306.4,518.4 L306.8,516.4 L307.1,514.5 L307.5,512.5 L307.9,510.5 L308.3,508.6 L308.6,506.6 L309.0,504.7 L309.4,502.7 L309.8,500.7 L310.2,498.8 L310.7,496.8 L311.1,494.9 L311.5,492.9 L312.0,491.0 L312.4,489.0 L312.9,487.1 L313.3,485.2 L313.8,483.2 L314.3,481.3 L314.7,479.4 L315.2,477.4 L315.7,475.5 L316.2,473.6 L316.7,471.7 L317.3,469.8 L317.8,467.8 L318.3,465.9 L318.9,464.0 L319.4,462.1 L320.0,460.2 L320.5,458.3 L321.1,456.4 L321.7,454.5 L322.3,452.6 L322.9,450.7 L323.5,448.9 L324.1,447.0 L324.7,445.1 L325.4,443.2 L326.0,441.3 L326.7,439.5 L327.3,437.6 L328.0,435.8 L328.7,433.9 L329.4,432.0 L330.1,430.2 L330.8,428.3 L331.5,426.5 L332.2,424.6 L332.9,422.8 L333.7,421.0 L334.4,419.1 L335.2,417.3 L336.0,415.5 L336.8,413.7 L337.6,411.9 L338.4,410.0 L339.2,408.2 L340.0,406.4 L340.8,404.6 L341.7,402.8 L342.5,401.0 L343.4,399.3 L344.3,397.5 L345.2,395.7 L346.1,393.9 L347.0,392.2 L347.9,390.4 L348.8,388.6 L349.8,386.9 L350.8,385.1 L351.7,383.4 L352.7,381.7 L353.7,380.0 L354.8,378.2 L355.8,376.5 L356.9,374.9 L357.9,373.2 L359.0,371.5 L360.1,369.8 L361.3,368.2 L362.4,366.5 L363.6,364.9 L364.8,363.3 L366.0,361.7 L367.2,360.1 L368.4,358.5 L369.7,357.0 L371.0,355.4 L372.3,353.9 L373.6,352.3 L375.0,350.8 L376.4,349.3 L377.8,347.9 L379.2,346.4 L380.6,345.0 L382.1,343.5 L383.6,342.1 L385.1,340.7 L386.6,339.4 L388.2,338.1 L389.8,336.7 L391.4,335.5 L393.0,334.2 L394.6,333.0 L396.3,331.8 L397.9,330.6 L399.6,329.4 L401.3,328.3 L403.0,327.3 L404.7,326.2 L406.5,325.2 L408.2,324.2 L410.0,323.3 L411.8,322.4 L413.6,321.6 L415.4,320.7 L417.2,320.0 L419.1,319.2 L420.9,318.6 L422.8,317.9 L424.6,317.3 L426.5,316.8 L428.4,316.3 L430.3,315.8 L432.2,315.4 L434.1,315.1 L436.0,314.8 L438.0,314.5 L439.9,314.3 L441.8,314.2 L443.8,314.1 L445.7,314.0 L447.7,314.0 L449.6,314.1 L451.6,314.1 L453.6,314.3 L455.5,314.4 L457.5,314.6 L459.5,314.8 L461.5,315.1 L463.4,315.3 L465.4,315.6 L467.4,316.0 L469.4,316.3 L471.4,316.7 L473.3,317.1 L475.3,317.5 L477.3,318.0 L479.3,318.4 L481.3,318.9 L483.2,319.4 L485.2,319.9 L487.2,320.4 L489.2,320.9 L491.1,321.4 L493.1,321.9 L495.0,322.4 L497.0,322.9 L499.0,323.5 L500.9,324.0 L502.9,324.5 L504.8,325.0 L506.7,325.6 L508.7,326.1 L510.6,326.6 L512.6,327.1 L514.5,327.6 L516.4,328.2 L518.4,328.7 L520.3,329.2 L522.2,329.7 L524.2,330.2 L526.1,330.6 L528.0,331.1 L530.0,331.6 L531.9,332.0 L533.8,332.5 L535.8,332.9 L537.7,333.4 L539.6,333.8 L541.6,334.2 L543.5,334.6 L545.4,334.9 L547.4,335.3 L549.3,335.6 L551.3,336.0 L553.2,336.3 L555.1,336.6 L557.1,336.8 L559.0,337.1 L561.0,337.3 L563.0,337.5 L564.9,337.7 L566.9,337.9 L568.8,338.1 L570.8,338.2 L572.8,338.3 L574.7,338.4 L576.7,338.4 L578.7,338.4 L580.7,338.4 L582.7,338.4 L584.7,338.3 L586.7,338.2 L588.7,338.1 L590.7,338.0 L592.7,337.8 L594.7,337.6 L596.7,337.4 L598.7,337.1 L600.8,336.8 L602.8,336.4 L604.8,336.1 L606.8,335.7 L608.8,335.2 L610.8,334.8 L612.8,334.3 L614.7,333.7 L616.7,333.2 L618.6,332.6 L620.6,331.9 L622.5,331.2 L624.4,330.5 L626.3,329.8 L628.1,329.0 L630.0,328.2 L631.8,327.3 L633.6,326.4 L635.3,325.5 L637.1,324.5 L638.8,323.5 L640.5,322.5 L642.1,321.4 L643.7,320.3 L645.3,319.1 L646.9,317.9 L648.4,316.7 L649.9,315.4 L651.3,314.1 L652.7,312.7 L654.1,311.4 L655.5,309.9 L656.8,308.5 L658.1,307.0 L659.4,305.5 L660.6,304.0 L661.8,302.4 L663.0,300.9 L664.2,299.3 L665.3,297.7 L666.5,296.0 L667.6,294.4 L668.7,292.7 L669.7,291.0 L670.8,289.4 L671.8,287.7 L672.8,285.9 L673.9,284.2 L674.8,282.5 L675.8,280.8 L676.8,279.0 L677.7,277.3 L678.7,275.5 L679.6,273.7 L680.5,272.0 L681.4,270.2 L682.3,268.4 L683.2,266.6 L684.0,264.8 L684.9,263.0 L685.7,261.2 L686.6,259.3 L687.4,257.5 L688.2,255.7 L689.0,253.9 L689.8,252.0 L690.6,250.2 L691.4,248.3 L692.2,246.5 L692.9,244.6 L693.7,242.8 L694.4,240.9 L695.2,239.0 L695.9,237.2 L696.7,235.3 L697.4,233.4 L698.1,231.5 L698.8,229.7 L699.5,227.8 L700.2,225.9 L700.9,224.0 L701.6,222.2 L702.3,220.3 L703.0,218.4 L703.7,216.5 L704.4,214.6 L705.1,212.8 L705.7,210.9 L706.4,209.0 L707.1,207.1 L707.7,205.2 L708.4,203.3 L709.1,201.4 L709.7,199.5 L710.4,197.6 L711.0,195.8 L711.6,193.9 L712.3,192.0 L712.9,190.1 L713.6,188.2 L714.2,186.3 L714.8,184.4 L715.4,182.5 L716.1,180.6 L716.7,178.7 L717.3,176.8 L717.9,174.9 L718.5,173.0 L719.2,171.1 L719.8,169.2 L720.4,167.3 L721.0,165.4 L721.6,163.5 L722.2,161.6 L722.8,159.7 L723.4,157.8 L724.0,155.9 L724.6,154.0 L725.2,152.1 L725.8,150.2 L726.4,148.3 L726.9,146.4 L727.5,144.5 L728.1,142.6 L728.7,140.6 L729.3,138.7 L729.9,136.8 L730.5,134.9 L731.1,133.0 L731.6,131.1 L732.2,129.2 L732.8,127.3 L733.4,125.4 L734.0,123.5 L734.6,121.6 L735.1,119.7 L735.7,117.7 L736.3,115.8 L736.9,113.9 L737.5,112.0 L738.1,110.1 L738.7,108.2 L739.2,106.3 L739.8,104.4 L740.4,102.5 L741.0,100.6 L741.6,98.7 L742.2,96.7 L742.8,94.8 L743.4,92.9 L743.9,91.0 L744.5,89.1 L745.1,87.2 L745.7,85.3 L746.3,83.4 L746.9,81.5 L747.5,79.6 L748.1,77.7 L748.7,75.8 L749.3,73.8 L749.9,71.9 L750.6,70.0 L751.2,68.1 L751.8,66.2 L752.4,64.3 L753.0,62.4 L753.6,60.5 L754.3,58.6 L754.9,56.7 L755.5,54.8 L756.1,52.9 L756.8,51.0 L757.4,49.1 L758.1,47.2 L758.7,45.3 L759.3,43.4 L760.0,41.5" stroke="#881c20" stroke-width="3.0"/>
<path d="M305.2,779.9 L305.4,777.9 L305.6,776.0 L305.7,774.0 L305.9,772.0 L306.1,770.1 L306.3,768.1 L306.4,766.1 L306.6,764.2 L306.8,762.2 L306.9,760.2 L307.1,758.3 L307.3,756.3 L307.4,754.3 L307.6,752.4 L307.7,750.4 L307.9,748.4 L308.0,746.4 L308.2,744.4 L308.3,742.5 L308.4,740.5 L308.6,738.5 L308.7,736.5 L308.9,734.5 L309.0,732.6 L309.1,730.6 L309.3,728.6 L309.4,726.6 L309.5,724.6 L309.6,722.6 L309.8,720.6 L309.9,718.6 L310.0,716.6 L310.1,714.7 L310.3,712.7 L310.4,710.7 L310.5,708.7 L310.6,706.7 L310.7,704.7 L310.9,702.7 L311.0,700.7 L311.1,698.7 L311.2,696.7 L311.3,694.7 L311.5,692.7 L311.6,690.7 L311.7,688.7 L311.8,686.7 L311.9,684.7 L312.0,682.7 L312.2,680.7 L312.3,678.7 L312.4,676.7 L312.5,674.7 L312.6,672.7 L312.7,670.7 L312.9,668.7 L313.0,666.7 L313.1,664.7 L313.2,662.7 L313.3,660.7 L313.5,658.7 L313.6,656.6 L313.7,654.6 L313.8,652.6 L314.0,650.6 L314.1,648.6 L314.2,646.6 L314.4,644.6 L314.5,642.6 L314.6,640.6 L314.8,638.6 L314.9,636.6 L315.0,634.6 L315.2,632.6 L315.3,630.6 L315.5,628.6 L315.6,626.6 L315.8,624.6 L315.9,622.6 L316.1,620.6 L316.2,618.6 L316.4,616.6 L316.5,614.6 L316.7,612.6 L316.9,610.5 L317.0,608.5 L317.2,606.5 L317.4,604.5 L317.5,602.5 L317.7,600.5 L317.9,598.5 L318.1,596.5 L318.3,594.5 L318.5,592.6 L318.7,590.6 L318.8,588.6 L319.0,586.6 L319.3,584.6 L319.5,582.6 L319.7,580.6 L319.9,578.6 L320.1,576.6 L320.3,574.6 L320.5,572.6 L320.8,570.6 L321.0,568.6 L321.2,566.6 L321.5,564.7 L321.7,562.7 L322.0,560.7 L322.2,558.7 L322.5,556.7 L322.8,554.7 L323.0,552.7 L323.3,550.8 L323.6,548.8 L323.8,546.8 L324.1,544.8 L324.4,542.8 L324.7,540.9 L325.0,538.9 L325.3,536.9 L325.6,535.0 L325.9,533.0 L326.3,531.0 L326.6,529.0 L326.9,527.1 L327.3,525.1 L327.6,523.1 L327.9,521.2 L328.3,519.2 L328.7,517.3 L329.0,515.3 L329.4,513.3 L329.8,511.4 L330.1,509.4 L330.5,507.5 L330.9,505.5 L331.3,503.6 L331.7,501.6 L332.1,499.7 L332.6,497.7 L333.0,495.8 L333.4,493.8 L333.9,491.9 L334.3,490.0 L334.8,488.0 L335.2,486.1 L335.7,484.1 L336.1,482.2 L336.6,480.3 L337.1,478.4 L337.6,476.4 L338.1,474.5 L338.6,472.6 L339.1,470.7 L339.7,468.7 L340.2,466.8 L340.7,464.9 L341.3,463.0 L341.8,461.1 L342.4,459.2 L342.9,457.3 L343.5,455.4 L344.1,453.4 L344.7,451.5 L345.3,449.6 L345.9,447.7 L346.5,445.9 L347.1,444.0 L347.8,442.1 L348.4,440.2 L349.1,438.3 L349.7,436.4 L350.4,434.5 L351.1,432.7 L351.8,430.8 L352.5,428.9 L353.2,427.0 L353.9,425.2 L354.6,423.3 L355.3,421.5 L356.1,419.6 L356.9,417.8 L357.6,415.9 L358.4,414.1 L359.2,412.3 L360.0,410.5 L360.9,408.6 L361.7,406.8 L362.6,405.0 L363.4,403.2 L364.3,401.4 L365.2,399.6 L366.1,397.9 L367.0,396.1 L368.0,394.3 L368.9,392.6 L369.9,390.8 L370.9,389.1 L371.9,387.4 L372.9,385.6 L373.9,383.9 L375.0,382.2 L376.1,380.5 L377.2,378.9 L378.3,377.2 L379.4,375.5 L380.5,373.9 L381.7,372.2 L382.9,370.6 L384.1,369.0 L385.3,367.4 L386.5,365.7 L387.8,364.2 L389.1,362.6 L390.4,361.0 L391.7,359.5 L393.0,357.9 L394.4,356.4 L395.8,354.9 L397.2,353.4 L398.6,351.9 L400.1,350.5 L401.5,349.0 L403.0,347.6 L404.5,346.2 L406.0,344.8 L407.5,343.5 L409.1,342.2 L410.7,340.9 L412.3,339.6 L413.9,338.4 L415.5,337.2 L417.1,336.0 L418.8,334.9 L420.4,333.8 L422.1,332.7 L423.8,331.7 L425.5,330.7 L427.3,329.7 L429.0,328.8 L430.8,328.0 L432.5,327.1 L434.3,326.4 L436.1,325.6 L437.9,324.9 L439.7,324.3 L441.6,323.7 L443.4,323.2 L445.3,322.7 L447.2,322.2 L449.1,321.8 L450.9,321.5 L452.9,321.2 L454.8,321.0 L456.7,320.9 L458.6,320.7 L460.6,320.7 L462.5,320.6 L464.4,320.7 L466.4,320.8 L468.4,320.9 L470.3,321.0 L472.3,321.3 L474.2,321.5 L476.2,321.8 L478.1,322.1 L480.1,322.5 L482.1,322.9 L484.0,323.3 L486.0,323.8 L487.9,324.3 L489.9,324.8 L491.8,325.3 L493.8,325.8 L495.8,326.3 L497.7,326.9 L499.7,327.5 L501.6,328.0 L503.6,328.6 L505.5,329.1 L507.5,329.7 L509.4,330.3 L511.4,330.8 L513.3,331.3 L515.3,331.9 L517.2,332.4 L519.1,332.9 L521.1,333.4 L523.0,333.9 L525.0,334.4 L526.9,334.9 L528.8,335.3 L530.8,335.8 L532.7,336.3 L534.7,336.7 L536.6,337.1 L538.6,337.5 L540.5,337.9 L542.5,338.3 L544.4,338.7 L546.4,339.1 L548.3,339.4 L550.3,339.8 L552.2,340.1 L554.2,340.4 L556.1,340.7 L558.1,341.0 L560.1,341.2 L562.0,341.5 L564.0,341.7 L566.0,342.0 L568.0,342.2 L569.9,342.3 L571.9,342.5 L573.9,342.7 L575.9,342.8 L577.9,342.9 L579.9,343.0 L581.9,343.1 L583.9,343.1 L585.9,343.2 L587.9,343.2 L590.0,343.2 L592.0,343.2 L594.0,343.1 L596.1,343.0 L598.1,343.0 L600.1,342.8 L602.2,342.7 L604.2,342.5 L606.2,342.4 L608.3,342.1 L610.3,341.9 L612.3,341.6 L614.3,341.3 L616.3,341.0 L618.3,340.7 L620.3,340.3 L622.3,339.9 L624.2,339.4 L626.2,338.9 L628.1,338.4 L630.0,337.9 L631.9,337.3 L633.8,336.7 L635.7,336.1 L637.5,335.4 L639.4,334.7 L641.2,333.9 L642.9,333.1 L644.7,332.3 L646.4,331.4 L648.1,330.5 L649.8,329.5 L651.4,328.6 L653.1,327.5 L654.7,326.4 L656.2,325.3 L657.7,324.2 L659.2,322.9 L660.7,321.7 L662.1,320.4 L663.5,319.1 L664.8,317.7 L666.2,316.3 L667.5,314.8 L668.7,313.4 L670.0,311.8 L671.2,310.3 L672.4,308.7 L673.5,307.1 L674.7,305.5 L675.8,303.9 L676.9,302.2 L678.0,300.5 L679.1,298.8 L680.1,297.1 L681.1,295.4 L682.1,293.7 L683.1,291.9 L684.1,290.1 L685.1,288.4 L686.0,286.6 L687.0,284.8 L687.9,283.0 L688.8,281.3 L689.7,279.5 L690.6,277.7 L691.5,275.9 L692.4,274.0 L693.3,272.2 L694.1,270.4 L695.0,268.6 L695.8,266.7 L696.6,264.9 L697.4,263.1 L698.2,261.2 L699.0,259.4 L699.8,257.5 L700.6,255.7 L701.4,253.8 L702.1,251.9 L702.9,250.1 L703.6,248.2 L704.4,246.3 L705.1,244.5 L705.8,242.6 L706.5,240.7 L707.2,238.8 L707.9,236.9 L708.6,235.0 L709.3,233.1 L710.0,231.2 L710.7,229.3 L711.4,227.5 L712.0,225.6 L712.7,223.7 L713.4,221.8 L714.0,219.9 L714.7,217.9 L715.3,216.0 L716.0,214.1 L716.6,212.2 L717.3,210.3 L717.9,208.4 L718.5,206.5 L719.2,204.6 L719.8,202.7 L720.4,200.8 L721.0,198.9 L721.7,197.0 L722.3,195.1 L722.9,193.2 L723.5,191.3 L724.2,189.4 L724.8,187.5 L725.4,185.6 L726.0,183.7 L726.6,181.8 L727.3,179.9 L727.9,178.0 L728.5,176.1 L729.1,174.2 L729.7,172.3 L730.3,170.4 L730.9,168.5 L731.6,166.6 L732.2,164.7 L732.8,162.8 L733.4,161.0 L734.0,159.1 L734.6,157.2 L735.2,155.3 L735.8,153.4 L736.4,151.5 L737.0,149.6 L737.7,147.7 L738.3,145.8 L738.9,143.9 L739.5,142.0 L740.1,140.1 L740.7,138.3 L741.3,136.4 L741.9,134.5 L742.5,132.6 L743.1,130.7 L743.8,128.8 L744.4,126.9 L745.0,125.0 L745.6,123.1 L746.2,121.2 L746.8,119.3 L747.4,117.5 L748.1,115.6 L748.7,113.7 L749.3,111.8 L749.9,109.9 L750.5,108.0 L751.1,106.1 L751.8,104.2 L752.4,102.3 L753.0,100.4 L753.6,98.5 L754.3,96.6 L754.9,94.7 L755.5,92.9 L756.2,91.0 L756.8,89.1 L757.4,87.2 L758.1,85.3 L758.7,83.4 L759.3,81.5 L760.0,79.6 L760.6,77.7 L761.3,75.8 L761.9,73.9 L762.6,72.0 L763.2,70.1 L763.9,68.2 L764.5,66.3 L765.2,64.4 L765.8,62.5 L766.5,60.6 L767.2,58.7 L767.8,56.8 L768.5,54.9 L769.2,53.0" stroke="#1a8c80" stroke-width="3.0"/>
<path d="M304.0,779.6 L304.2,777.7 L304.5,775.8 L304.7,773.9 L304.9,772.0 L305.1,770.1 L305.3,768.2 L305.6,766.3 L305.8,764.3 L306.0,762.4 L306.2,760.5 L306.4,758.6 L306.6,756.6 L306.7,754.7 L306.9,752.8 L307.1,750.8 L307.3,748.9 L307.5,746.9 L307.6,745.0 L307.8,743.0 L308.0,741.1 L308.1,739.1 L308.3,737.2 L308.4,735.2 L308.6,733.2 L308.8,731.3 L308.9,729.3 L309.0,727.3 L309.2,725.4 L309.3,723.4 L309.5,721.4 L309.6,719.4 L309.7,717.4 L309.9,715.5 L310.0,713.5 L310.1,711.5 L310.3,709.5 L310.4,707.5 L310.5,705.5 L310.6,703.5 L310.7,701.5 L310.9,699.6 L311.0,697.6 L311.1,695.6 L311.2,693.6 L311.3,691.6 L311.4,689.6 L311.5,687.6 L311.7,685.6 L311.8,683.5 L311.9,681.5 L312.0,679.5 L312.1,677.5 L312.2,675.5 L312.3,673.5 L312.4,671.5 L312.5,669.5 L312.6,667.5 L312.7,665.4 L312.9,663.4 L313.0,661.4 L313.1,659.4 L313.2,657.4 L313.3,655.4 L313.4,653.3 L313.5,651.3 L313.6,649.3 L313.7,647.3 L313.9,645.3 L314.0,643.2 L314.1,641.2 L314.2,639.2 L314.3,637.2 L314.4,635.1 L314.6,633.1 L314.7,631.1 L314.8,629.1 L314.9,627.0 L315.1,625.0 L315.2,623.0 L315.3,621.0 L315.5,618.9 L315.6,616.9 L315.7,614.9 L315.9,612.9 L316.0,610.8 L316.2,608.8 L316.3,606.8 L316.5,604.8 L316.6,602.8 L316.8,600.7 L316.9,598.7 L317.1,596.7 L317.3,594.7 L317.4,592.6 L317.6,590.6 L317.8,588.6 L318.0,586.6 L318.1,584.6 L318.3,582.6 L318.5,580.5 L318.7,578.5 L318.9,576.5 L319.1,574.5 L319.3,572.5 L319.5,570.5 L319.7,568.5 L319.9,566.4 L320.2,564.4 L320.4,562.4 L320.6,560.4 L320.9,558.4 L321.1,556.4 L321.3,554.4 L321.6,552.4 L321.8,550.4 L322.1,548.4 L322.4,546.4 L322.6,544.4 L322.9,542.4 L323.2,540.4 L323.5,538.4 L323.8,536.4 L324.1,534.5 L324.4,532.5 L324.7,530.5 L325.0,528.5 L325.3,526.5 L325.6,524.5 L326.0,522.6 L326.3,520.6 L326.6,518.6 L327.0,516.7 L327.3,514.7 L327.7,512.7 L328.1,510.8 L328.5,508.8 L328.8,506.8 L329.2,504.9 L329.6,502.9 L330.0,501.0 L330.4,499.0 L330.9,497.1 L331.3,495.1 L331.7,493.2 L332.2,491.2 L332.6,489.3 L333.1,487.4 L333.5,485.4 L334.0,483.5 L334.5,481.6 L335.0,479.6 L335.5,477.7 L336.0,475.8 L336.5,473.9 L337.0,472.0 L337.5,470.1 L338.1,468.2 L338.6,466.3 L339.2,464.4 L339.7,462.5 L340.3,460.6 L340.9,458.7 L341.5,456.8 L342.1,454.9 L342.7,453.0 L343.3,451.1 L343.9,449.3 L344.6,447.4 L345.2,445.5 L345.9,443.7 L346.5,441.8 L347.2,439.9 L347.9,438.1 L348.6,436.2 L349.3,434.4 L350.0,432.5 L350.7,430.7 L351.5,428.9 L352.2,427.0 L353.0,425.2 L353.7,423.4 L354.5,421.6 L355.3,419.8 L356.1,417.9 L356.9,416.1 L357.7,414.3 L358.5,412.5 L359.4,410.7 L360.2,409.0 L361.1,407.2 L362.0,405.4 L362.9,403.6 L363.8,401.8 L364.7,400.1 L365.6,398.3 L366.5,396.6 L367.5,394.8 L368.4,393.1 L369.4,391.3 L370.4,389.6 L371.4,387.8 L372.4,386.1 L373.4,384.4 L374.5,382.7 L375.5,381.0 L376.6,379.3 L377.7,377.6 L378.8,376.0 L379.9,374.3 L381.0,372.7 L382.1,371.0 L383.3,369.4 L384.5,367.8 L385.7,366.2 L386.9,364.6 L388.1,363.0 L389.3,361.4 L390.6,359.9 L391.9,358.3 L393.1,356.8 L394.4,355.3 L395.8,353.8 L397.1,352.3 L398.5,350.8 L399.9,349.4 L401.3,348.0 L402.7,346.5 L404.1,345.1 L405.6,343.7 L407.0,342.4 L408.5,341.0 L410.0,339.7 L411.6,338.4 L413.1,337.1 L414.7,335.8 L416.3,334.6 L417.9,333.3 L419.5,332.1 L421.2,330.9 L422.9,329.8 L424.6,328.6 L426.3,327.5 L428.0,326.4 L429.7,325.4 L431.4,324.4 L433.2,323.4 L435.0,322.4 L436.8,321.5 L438.6,320.6 L440.4,319.7 L442.2,318.9 L444.0,318.1 L445.9,317.3 L447.8,316.6 L449.6,315.9 L451.5,315.3 L453.4,314.7 L455.3,314.2 L457.2,313.6 L459.1,313.2 L461.0,312.7 L462.9,312.4 L464.8,312.0 L466.7,311.7 L468.7,311.5 L470.6,311.3 L472.5,311.2 L474.5,311.1 L476.4,311.1 L478.4,311.1 L480.3,311.1 L482.2,311.2 L484.2,311.4 L486.1,311.5 L488.1,311.7 L490.0,312.0 L492.0,312.3 L494.0,312.6 L495.9,313.0 L497.9,313.3 L499.8,313.8 L501.8,314.2 L503.7,314.7 L505.7,315.1 L507.6,315.6 L509.6,316.2 L511.5,316.7 L513.5,317.2 L515.4,317.8 L517.4,318.4 L519.3,319.0 L521.3,319.6 L523.2,320.2 L525.1,320.8 L527.1,321.4 L529.0,322.0 L530.9,322.6 L532.9,323.2 L534.8,323.8 L536.7,324.4 L538.6,325.0 L540.6,325.6 L542.5,326.2 L544.4,326.7 L546.3,327.3 L548.2,327.8 L550.1,328.4 L552.0,328.9 L553.9,329.4 L555.8,329.9 L557.8,330.4 L559.7,330.9 L561.6,331.4 L563.5,331.8 L565.4,332.3 L567.3,332.7 L569.2,333.1 L571.1,333.5 L573.0,333.9 L575.0,334.3 L576.9,334.7 L578.8,335.0 L580.7,335.3 L582.7,335.6 L584.6,335.9 L586.5,336.2 L588.5,336.4 L590.4,336.7 L592.4,336.9 L594.3,337.1 L596.3,337.2 L598.2,337.4 L600.2,337.5 L602.2,337.6 L604.2,337.7 L606.2,337.7 L608.2,337.7 L610.2,337.7 L612.2,337.7 L614.2,337.7 L616.2,337.6 L618.3,337.5 L620.3,337.4 L622.3,337.2 L624.3,337.1 L626.4,336.9 L628.4,336.6 L630.4,336.4 L632.5,336.1 L634.5,335.8 L636.5,335.4 L638.5,335.0 L640.5,334.6 L642.5,334.2 L644.4,333.7 L646.4,333.2 L648.4,332.7 L650.3,332.2 L652.2,331.6 L654.1,330.9 L656.0,330.3 L657.9,329.6 L659.8,328.9 L661.6,328.1 L663.4,327.3 L665.2,326.5 L667.0,325.6 L668.7,324.7 L670.4,323.7 L672.0,322.7 L673.6,321.6 L675.2,320.5 L676.8,319.3 L678.3,318.1 L679.7,316.8 L681.1,315.5 L682.5,314.2 L683.9,312.8 L685.3,311.4 L686.6,309.9 L687.8,308.4 L689.1,306.9 L690.4,305.4 L691.6,303.8 L692.8,302.2 L694.0,300.6 L695.1,299.0 L696.3,297.4 L697.5,295.8 L698.6,294.2 L699.7,292.5 L700.8,290.9 L701.9,289.2 L703.0,287.6 L704.1,285.9 L705.2,284.2 L706.2,282.5 L707.3,280.8 L708.3,279.1 L709.3,277.4 L710.4,275.7 L711.4,273.9 L712.4,272.2 L713.3,270.4 L714.3,268.7 L715.3,266.9 L716.2,265.2 L717.2,263.4 L718.1,261.6 L719.0,259.9 L720.0,258.1 L720.9,256.3 L721.8,254.5 L722.7,252.7 L723.6,250.9 L724.4,249.1 L725.3,247.2 L726.2,245.4 L727.0,243.6 L727.9,241.8 L728.7,239.9 L729.5,238.1 L730.4,236.3 L731.2,234.4 L732.0,232.6 L732.8,230.7 L733.6,228.9 L734.4,227.1 L735.2,225.2 L735.9,223.3 L736.7,221.5 L737.5,219.6 L738.2,217.8 L739.0,215.9 L739.7,214.0 L740.5,212.2 L741.2,210.3 L742.0,208.5 L742.7,206.6 L743.4,204.7 L744.1,202.9 L744.9,201.0 L745.6,199.1 L746.3,197.3 L747.0,195.4 L747.7,193.5 L748.4,191.6 L749.0,189.8 L749.7,187.9 L750.4,186.0 L751.1,184.1 L751.8,182.3 L752.4,180.4 L753.1,178.5 L753.7,176.6 L754.4,174.7 L755.0,172.9 L755.7,171.0 L756.3,169.1 L757.0,167.2 L757.6,165.3 L758.2,163.4 L758.9,161.6 L759.5,159.7 L760.1,157.8 L760.7,155.9 L761.4,154.0 L762.0,152.1 L762.6,150.2 L763.2,148.3 L763.8,146.4 L764.4,144.5 L765.0,142.6 L765.6,140.7 L766.2,138.8 L766.8,136.9 L767.4,135.0 L768.0,133.1 L768.5,131.2 L769.1,129.3 L769.7,127.4 L770.3,125.5 L770.9,123.6 L771.4,121.7 L772.0,119.8 L772.6,117.9 L773.1,116.0 L773.7,114.1 L774.3,112.2 L774.8,110.3 L775.4,108.4 L776.0,106.5 L776.5,104.6 L777.1,102.6 L777.6,100.7 L778.2,98.8 L778.7,96.9 L779.3,95.0 L779.8,93.1 L780.4,91.2 L780.9,89.2 L781.5,87.3 L782.0,85.4 L782.6,83.5 L783.1,81.6 L783.7,79.6 L784.2,77.7 L784.8,75.8 L785.3,73.9 L785.9,72.0 L786.4,70.0 L787.0,68.1 L787.5,66.2 L788.0,64.3 L788.6,62.3 L789.1,60.4 L789.7,58.5 L790.2,56.5 L790.8,54.6 L791.3,52.7 L791.9,50.8 L792.4,48.8 L793.0,46.9 L793.5,45.0 L794.1,43.0 L794.6,41.1 L795.2,39.2 L795.7,37.2 L796.3,35.3 L796.8,33.4" stroke="#e43444" stroke-width="3.0" stroke-dasharray="3 3.5"/>
</g>
<line x1="160.0" y1="524.8" x2="966.4" y2="524.8" stroke="#6a6a6a" stroke-width="2.4"/>
<g stroke="#4a4a4a" stroke-width="2.2" fill="none">
<line x1="212.5" y1="763.3" x2="212.5" y2="743.8"/>
<line x1="212.5" y1="6.1" x2="212.5" y2="25.6"/>
<line x1="212.5" y1="515.8" x2="212.5" y2="533.8"/>
<line x1="427.7" y1="763.3" x2="427.7" y2="743.8"/>
<line x1="427.7" y1="6.1" x2="427.7" y2="25.6"/>
<line x1="427.7" y1="515.8" x2="427.7" y2="533.8"/>
<line x1="642.9" y1="763.3" x2="642.9" y2="743.8"/>
<line x1="642.9" y1="6.1" x2="642.9" y2="25.6"/>
<line x1="642.9" y1="515.8" x2="642.9" y2="533.8"/>
<line x1="858.1" y1="763.3" x2="858.1" y2="743.8"/>
<line x1="858.1" y1="6.1" x2="858.1" y2="25.6"/>
<line x1="858.1" y1="515.8" x2="858.1" y2="533.8"/>
<line x1="320.1" y1="763.3" x2="320.1" y2="754.3"/>
<line x1="320.1" y1="6.1" x2="320.1" y2="15.1"/>
<line x1="320.1" y1="521.6" x2="320.1" y2="528.0"/>
<line x1="535.3" y1="763.3" x2="535.3" y2="754.3"/>
<line x1="535.3" y1="6.1" x2="535.3" y2="15.1"/>
<line x1="535.3" y1="521.6" x2="535.3" y2="528.0"/>
<line x1="750.5" y1="763.3" x2="750.5" y2="754.3"/>
<line x1="750.5" y1="6.1" x2="750.5" y2="15.1"/>
<line x1="750.5" y1="521.6" x2="750.5" y2="528.0"/>
<line x1="160.0" y1="17.6" x2="179.5" y2="17.6"/>
<line x1="966.4" y1="17.6" x2="946.9" y2="17.6"/>
<line x1="160.0" y1="271.2" x2="179.5" y2="271.2"/>
<line x1="966.4" y1="271.2" x2="946.9" y2="271.2"/>
<line x1="160.0" y1="144.4" x2="169.0" y2="144.4"/>
<line x1="966.4" y1="144.4" x2="957.4" y2="144.4"/>
<line x1="160.0" y1="398.0" x2="169.0" y2="398.0"/>
<line x1="966.4" y1="398.0" x2="957.4" y2="398.0"/>
<line x1="160.0" y1="651.6" x2="169.0" y2="651.6"/>
<line x1="966.4" y1="651.6" x2="957.4" y2="651.6"/>
<rect x="160.0" y="6.1" width="806.4" height="757.2"/>
</g>
<g font-family='"Liberation Sans", Arial, sans-serif' fill="#0c0c0c" stroke="#0c0c0c" stroke-width="0.45" font-size="39">
<text transform="translate(212.5,807.4) scale(1,1.03)" text-anchor="middle">1.2e-2</text>
<text transform="translate(427.7,807.4) scale(1,1.03)" text-anchor="middle">1.6e-2</text>
<text transform="translate(642.9,807.4) scale(1,1.03)" text-anchor="middle">2.0e-2</text>
<text transform="translate(858.1,807.4) scale(1,1.03)" text-anchor="middle">2.4e-2</text>
<text transform="translate(140.5,30.5) scale(1,1.03)" text-anchor="end">-4e-3</text>
<text transform="translate(140.5,284.1) scale(1,1.03)" text-anchor="end">-2e-3</text>
<text transform="translate(140.5,537.7) scale(1,1.03)" text-anchor="end">0e0</text>
</g>
<text font-family='"Liberation Sans", Arial, sans-serif' fill="#0c0c0c" stroke="#0c0c0c" stroke-width="0.4" font-size="34" x="365" y="855.6">Real Impedance, Z' (Ohm)</text>
<text font-family='"Liberation Sans", Arial, sans-serif' fill="#0c0c0c" stroke="#0c0c0c" stroke-width="0.4" font-size="35.5" transform="translate(28.3,626.3) rotate(-90)" x="0" y="0">Imaginary Impedance, Z'' (Ohm)</text>
<rect x="976.6" y="6.3" width="301.6" height="827.2" fill="#fff" stroke="#686868" stroke-width="2.3"/>
<g font-family='"Liberation Sans", Arial, sans-serif' fill="#0c0c0c" font-size="38">
<line x1="991.5" y1="51.9" x2="1061.0" y2="51.9" stroke="#2a2ad8" stroke-width="3.0"/>
<text x="1068" y="62.8" stroke="#0c0c0c" stroke-width="0.45">0 Cycles</text>
<line x1="991.5" y1="98.0" x2="1061.0" y2="98.0" stroke="#dc2626" stroke-width="3.0"/>
<text x="1068" y="108.9" stroke="#0c0c0c" stroke-width="0.45">25 Cycles</text>
<line x1="991.5" y1="144.0" x2="1061.0" y2="144.0" stroke="#3ae03a" stroke-width="3.0"/>
<text x="1068" y="154.9" stroke="#0c0c0c" stroke-width="0.45">50 Cycles</text>
<line x1="991.5" y1="190.1" x2="1061.0" y2="190.1" stroke="#ee34ee" stroke-width="3.0"/>
<text x="1068" y="201.0" stroke="#0c0c0c" stroke-width="0.45">75 Cycles</text>
<line x1="991.5" y1="236.2" x2="1061.0" y2="236.2" stroke="#36e8ea" stroke-width="3.0"/>
<text x="1068" y="247.1" stroke="#0c0c0c" stroke-width="0.45">100 Cycles</text>
<line x1="991.5" y1="282.2" x2="1061.0" y2="282.2" stroke="#f08e40" stroke-width="3.0"/>
<text x="1068" y="293.1" stroke="#0c0c0c" stroke-width="0.45">125 Cycles</text>
<line x1="991.5" y1="328.3" x2="1061.0" y2="328.3" stroke="#8a24e4" stroke-width="3.0"/>
<text x="1068" y="339.2" stroke="#0c0c0c" stroke-width="0.45">150 Cycles</text>
<line x1="991.5" y1="374.4" x2="1061.0" y2="374.4" stroke="#8c8c2c" stroke-width="3.0"/>
<text x="1068" y="385.3" stroke="#0c0c0c" stroke-width="0.45">175 Cycles</text>
<line x1="991.5" y1="420.5" x2="1061.0" y2="420.5" stroke="#1a8a2c" stroke-width="3.0"/>
<text x="1068" y="431.4" stroke="#0c0c0c" stroke-width="0.45">200 Cycles</text>
<line x1="991.5" y1="466.5" x2="1061.0" y2="466.5" stroke="#1c1c84" stroke-width="3.0"/>
<text x="1068" y="477.4" stroke="#0c0c0c" stroke-width="0.45">225 Cycles</text>
<line x1="991.5" y1="512.6" x2="1061.0" y2="512.6" stroke="#881c20" stroke-width="3.0"/>
<text x="1068" y="523.5" stroke="#0c0c0c" stroke-width="0.45">250 Cycles</text>
<line x1="991.5" y1="558.7" x2="1061.0" y2="558.7" stroke="#1a8c80" stroke-width="3.0"/>
<text x="1068" y="569.6" stroke="#0c0c0c" stroke-width="0.45">275 Cycles</text>
<line x1="991.5" y1="604.7" x2="1059.0" y2="604.7" stroke="#9898f0" stroke-width="2.5" stroke-dasharray="2.6 4"/>
<text x="1068" y="615.6" stroke="#0c0c0c" stroke-width="0.45">300 Cycles</text>
<line x1="991.5" y1="650.8" x2="1059.0" y2="650.8" stroke="#e0707c" stroke-width="2.5" stroke-dasharray="3 3.5"/>
<text x="1068" y="661.7" stroke="#0c0c0c" stroke-width="0.45">325 Cycles</text>
<line x1="991.5" y1="696.9" x2="1059.0" y2="696.9" stroke="#e07aea" stroke-width="2.5" stroke-dasharray="4.2 6.3"/>
<text x="1068" y="707.8" stroke="#0c0c0c" stroke-width="0.45">375 Cycles</text>
<line x1="991.5" y1="742.9" x2="1059.0" y2="742.9" stroke="#66e8dc" stroke-width="2.5" stroke-dasharray="4.2 6.3"/>
<text x="1068" y="753.8" stroke="#0c0c0c" stroke-width="0.45">400 Cycles</text>
<line x1="991.5" y1="789.0" x2="1059.0" y2="789.0" stroke="#f2b47e" stroke-width="2.5" stroke-dasharray="4.2 6.3"/>
<text x="1068" y="799.9" stroke="#0c0c0c" stroke-width="0.45">425 Cycles</text>
</g>
</svg></body></html>
